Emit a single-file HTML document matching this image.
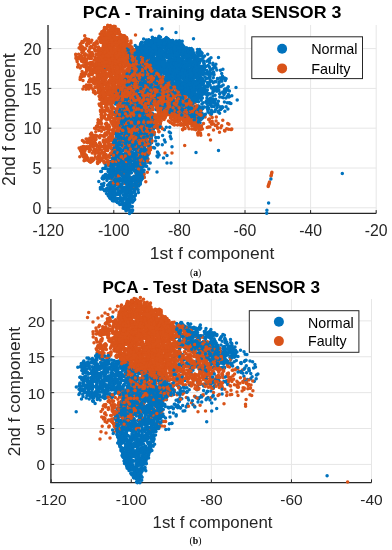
<!DOCTYPE html>
<html><head><meta charset="utf-8"><title>PCA SENSOR 3</title>
<style>
html,body{margin:0;padding:0;background:#fff}
svg{display:block}
text{font-family:"Liberation Sans", Arial, sans-serif}
.t{fill:#262626}
.g{stroke:#e6e6e6;stroke-width:1}
.a{stroke:#262626;fill:none}
.cap{font-family:"Liberation Serif","Times New Roman",serif;fill:#000}
.b{stroke:#0072BD}.o{stroke:#D95319}
.d{fill:none;stroke-width:3.5;stroke-linecap:round}
</style></head><body>
<svg width="392" height="550" viewBox="0 0 392 550">
<rect width="392" height="550" fill="#fff"/>
<line x1="48.2" y1="25" x2="48.2" y2="213.4" class="g"/>
<line x1="113.8" y1="25" x2="113.8" y2="213.4" class="g"/>
<line x1="179.4" y1="25" x2="179.4" y2="213.4" class="g"/>
<line x1="245.0" y1="25" x2="245.0" y2="213.4" class="g"/>
<line x1="310.6" y1="25" x2="310.6" y2="213.4" class="g"/>
<line x1="376.2" y1="25" x2="376.2" y2="213.4" class="g"/>
<line x1="48.0" y1="207.8" x2="376.2" y2="207.8" class="g"/>
<line x1="48.0" y1="168.0" x2="376.2" y2="168.0" class="g"/>
<line x1="48.0" y1="128.2" x2="376.2" y2="128.2" class="g"/>
<line x1="48.0" y1="88.4" x2="376.2" y2="88.4" class="g"/>
<line x1="48.0" y1="48.6" x2="376.2" y2="48.6" class="g"/>
<path d="M48.0 25V213.9" class="a" stroke-width="1.3"/>
<path d="M47.4 213.4H376.2" class="a" stroke-width="1.1"/>
<line x1="48.2" y1="213.4" x2="48.2" y2="210.1" class="a"/>
<line x1="113.8" y1="213.4" x2="113.8" y2="210.1" class="a"/>
<line x1="179.4" y1="213.4" x2="179.4" y2="210.1" class="a"/>
<line x1="245.0" y1="213.4" x2="245.0" y2="210.1" class="a"/>
<line x1="310.6" y1="213.4" x2="310.6" y2="210.1" class="a"/>
<line x1="376.2" y1="213.4" x2="376.2" y2="210.1" class="a"/>
<line x1="48.0" y1="207.8" x2="51.3" y2="207.8" class="a"/>
<line x1="48.0" y1="168.0" x2="51.3" y2="168.0" class="a"/>
<line x1="48.0" y1="128.2" x2="51.3" y2="128.2" class="a"/>
<line x1="48.0" y1="88.4" x2="51.3" y2="88.4" class="a"/>
<line x1="48.0" y1="48.6" x2="51.3" y2="48.6" class="a"/>
<g class="d"><path class="b" d="M155.9 52.8h0M148.0 162.3h0M138.0 149.6h0M158.8 57.1h0M184.5 97.0h0M121.8 100.5h0M144.2 150.0h0M121.2 99.8h0M192.3 80.6h0M156.7 119.9h0M167.5 38.4h0M195.5 106.6h0M185.1 52.5h0M138.4 157.7h0M124.5 197.6h0M111.5 188.1h0M177.4 103.0h0M126.0 194.4h0M172.9 62.0h0M136.0 103.7h0M187.8 100.5h0M138.5 125.4h0M119.2 199.0h0M133.1 97.1h0M122.3 156.6h0M163.4 96.8h0M214.7 111.5h0M130.3 160.9h0M128.9 53.2h0M194.4 112.1h0M131.8 91.0h0M169.2 58.5h0M125.2 84.8h0M133.7 141.7h0M166.3 44.6h0M135.4 160.8h0M175.6 58.4h0M190.1 69.3h0M157.5 66.1h0M138.7 97.9h0M159.9 59.5h0M204.8 114.7h0M152.6 92.3h0M143.7 58.2h0M204.5 80.9h0M142.2 82.8h0M142.5 94.0h0M173.7 53.8h0M176.4 42.4h0M180.4 60.1h0M186.8 69.8h0M126.4 204.8h0M137.8 105.2h0M134.5 183.7h0M158.4 137.6h0M130.4 163.8h0M146.5 63.6h0M142.1 56.5h0M135.8 123.8h0M186.3 50.8h0M135.8 145.1h0M208.8 109.2h0M115.2 200.6h0M129.3 127.7h0M150.4 117.4h0M152.6 44.1h0M121.4 118.1h0M125.3 154.7h0M118.1 156.7h0M169.3 56.0h0M204.3 68.7h0M142.2 86.1h0M167.4 97.7h0M181.7 53.0h0M196.1 58.8h0M149.0 96.8h0M153.0 48.2h0M176.0 77.0h0M185.8 56.7h0M219.8 86.8h0M124.6 169.7h0M132.8 49.1h0M172.3 74.2h0M201.1 59.5h0M139.6 50.5h0M173.8 56.6h0M145.3 73.4h0M150.6 123.8h0M156.1 63.0h0M173.0 73.3h0M190.9 104.7h0M141.0 46.5h0M209.7 82.0h0M122.2 135.4h0M168.7 71.1h0M190.3 77.9h0M128.6 118.0h0M137.7 146.1h0M120.2 200.8h0M213.7 102.7h0M138.8 70.5h0M199.2 90.7h0M187.5 100.4h0M133.1 89.3h0M129.9 79.0h0M173.1 72.4h0M161.0 57.2h0M203.7 62.7h0M120.0 126.0h0M176.5 45.7h0M171.9 46.6h0M144.8 159.6h0M207.9 111.9h0M114.7 151.7h0M148.3 71.0h0M202.0 82.8h0M157.9 103.5h0M184.4 53.1h0M145.6 141.1h0M138.1 189.7h0M163.6 68.0h0M134.8 191.6h0M172.6 78.3h0M166.4 37.4h0M136.1 115.1h0M147.6 143.3h0M132.6 209.9h0M135.7 163.5h0M132.1 129.6h0M203.2 89.2h0M141.6 170.1h0M188.4 55.7h0M148.9 100.9h0M181.9 62.8h0M195.6 100.6h0M159.0 36.2h0M143.1 55.3h0M192.1 77.9h0M126.3 76.6h0M194.8 112.6h0M180.8 68.9h0M122.2 163.8h0M143.1 63.8h0M157.2 44.0h0M180.9 102.5h0M147.9 128.6h0M196.4 74.9h0M139.4 94.4h0M172.0 146.7h0M181.2 64.0h0M126.6 149.7h0M117.4 175.3h0M210.0 100.6h0M182.4 91.5h0M132.2 90.1h0M124.9 94.5h0M161.0 52.0h0M153.3 76.5h0M158.7 57.3h0M149.4 64.8h0M141.4 121.7h0M143.7 44.9h0M125.5 118.2h0M155.0 39.0h0M190.5 94.3h0M112.6 191.8h0M130.5 186.0h0M173.4 73.8h0M182.6 56.0h0M181.2 50.0h0M154.4 119.6h0M122.6 124.2h0M124.7 135.1h0M167.1 49.5h0M156.9 82.5h0M131.8 198.5h0M137.2 117.3h0M158.1 93.1h0M152.1 124.4h0M188.2 70.5h0M149.6 87.3h0M130.9 89.5h0M137.7 51.2h0M140.2 155.5h0M131.0 128.9h0M153.6 43.0h0M130.4 189.9h0M195.9 89.3h0M197.5 119.8h0M140.0 160.6h0M134.3 170.7h0M122.8 132.2h0M140.7 122.9h0M158.9 76.2h0M120.7 128.3h0M132.9 164.6h0M151.2 125.5h0M158.7 61.4h0M177.2 82.2h0M197.6 100.9h0M124.0 127.4h0M190.3 116.6h0M187.3 87.4h0M140.8 163.5h0M163.3 42.2h0M118.5 151.7h0M157.0 84.3h0M136.5 57.2h0M147.0 159.0h0M160.1 111.2h0M174.4 77.8h0M113.8 163.4h0M130.3 119.3h0M181.5 84.7h0M113.7 166.8h0M137.5 55.9h0M144.1 177.2h0M129.0 206.9h0M171.3 63.4h0M180.9 74.3h0M142.7 65.5h0M191.8 55.6h0M168.4 61.2h0M185.4 101.6h0M113.9 191.5h0M119.4 108.2h0M227.2 102.7h0M160.2 61.9h0M156.0 108.2h0M157.5 94.2h0M185.0 67.8h0M137.3 120.7h0M139.3 90.6h0M172.4 40.4h0M185.6 91.9h0M191.0 92.7h0M168.9 61.2h0M147.4 122.6h0M166.3 127.2h0M178.5 48.6h0M136.7 175.7h0M115.8 179.5h0M129.9 75.9h0M124.7 119.2h0M173.0 81.4h0M138.2 121.3h0M160.4 55.3h0M103.1 189.2h0M203.2 57.4h0M191.3 106.6h0M131.8 89.5h0M134.8 120.6h0M189.5 48.4h0M172.5 64.7h0M170.8 92.5h0M112.5 175.0h0M227.9 108.9h0M155.0 96.3h0M128.3 82.4h0M171.0 71.2h0M149.2 50.6h0M205.8 102.1h0M171.4 85.8h0M140.0 154.5h0M169.2 108.8h0M171.6 98.7h0M141.0 140.3h0M197.8 81.8h0M199.1 92.9h0M103.1 176.6h0M166.9 49.1h0M189.1 93.5h0M133.0 136.6h0M190.8 76.2h0M158.7 48.2h0M184.8 103.9h0M192.6 49.8h0M176.6 61.4h0M115.7 133.8h0M166.5 72.2h0M190.8 90.1h0M133.0 124.8h0M142.2 134.4h0M141.7 170.1h0M111.7 175.4h0M163.3 97.8h0M132.2 63.8h0"/>
<path class="o" d="M108.8 63.4h0M105.6 103.5h0M165.9 92.8h0M99.2 96.1h0M150.2 64.4h0M104.4 129.2h0M137.3 81.0h0M121.4 86.7h0M99.6 142.7h0M127.1 75.6h0M114.6 84.1h0M105.0 44.0h0M189.4 103.5h0M107.1 47.9h0M120.5 95.2h0M131.9 83.6h0M188.5 119.5h0M135.5 35.0h0M138.8 55.8h0M178.1 121.5h0M192.4 124.1h0M116.4 82.7h0M148.8 76.1h0M101.6 127.9h0M147.1 76.6h0M85.0 55.6h0M103.9 147.2h0M142.4 75.3h0M140.1 80.1h0M134.4 65.3h0M135.4 78.4h0M163.3 110.0h0M99.6 78.4h0M104.3 75.6h0M134.6 60.2h0M148.0 94.4h0M76.0 56.0h0M176.6 109.7h0M209.5 118.9h0M212.2 121.3h0M120.4 77.5h0M140.0 116.8h0M167.4 107.0h0M177.9 107.6h0M165.2 86.9h0M162.2 99.8h0M97.6 74.0h0M93.5 151.2h0M119.4 39.1h0M125.3 37.9h0M166.3 91.9h0M109.1 26.7h0M145.0 110.6h0M130.0 124.4h0M125.9 88.5h0M146.4 85.6h0M159.5 116.8h0M200.0 118.5h0M105.7 69.8h0M120.5 90.3h0M98.0 58.6h0M144.1 146.8h0M122.9 106.5h0M97.4 65.6h0M127.0 45.4h0M135.3 64.4h0M140.9 131.9h0M81.3 55.9h0M121.8 39.5h0M101.2 114.8h0M118.1 117.1h0M108.6 48.0h0M112.9 79.2h0M104.2 152.6h0M163.8 77.6h0M129.1 133.7h0M124.2 63.1h0M130.3 67.2h0M149.4 66.7h0M113.1 33.7h0M141.7 139.1h0M133.6 68.2h0M85.7 65.3h0M129.0 91.1h0M112.1 108.3h0M197.3 123.8h0M131.0 119.3h0M103.7 100.6h0M120.7 42.3h0M117.6 51.7h0M106.6 42.6h0M147.9 118.4h0M145.0 114.4h0M115.0 101.1h0M83.9 58.8h0M118.9 60.5h0M141.8 108.2h0M104.3 34.4h0M111.5 30.7h0M145.6 135.6h0M87.3 54.9h0M196.2 117.6h0M134.6 79.4h0M99.6 154.7h0M115.6 143.9h0M127.9 120.0h0M98.7 78.9h0M116.6 93.7h0M148.8 110.6h0M128.5 89.6h0M89.8 137.9h0M116.5 100.2h0M154.1 101.8h0M172.4 123.8h0M116.8 77.5h0M122.8 84.4h0M104.7 103.4h0M106.5 101.1h0M182.8 129.7h0M85.4 149.3h0M127.0 90.0h0M106.7 74.6h0M76.9 60.0h0M98.0 76.1h0M103.3 140.2h0M129.3 146.8h0M103.6 59.1h0M125.5 59.5h0M107.7 82.7h0M156.6 106.6h0M124.5 35.7h0M130.8 79.0h0M140.7 63.4h0M136.8 86.0h0M116.1 99.5h0M99.0 49.9h0M130.2 68.5h0M111.7 140.5h0M139.5 112.9h0M150.5 131.2h0M114.8 79.3h0M91.6 138.8h0M162.8 101.2h0M169.1 108.5h0M109.9 89.5h0M86.6 62.8h0M101.6 67.2h0M158.0 119.4h0M91.8 69.6h0M126.9 68.9h0M81.3 43.3h0M165.3 89.0h0M108.5 41.1h0M178.2 115.9h0M192.2 120.6h0M92.7 62.9h0M117.3 89.6h0M98.8 159.9h0M137.3 182.6h0M196.5 120.5h0M132.1 103.2h0M95.1 152.7h0M114.8 113.2h0M97.0 58.6h0M132.8 129.5h0M100.0 156.3h0M152.1 129.5h0M171.2 94.7h0M188.7 107.5h0M138.7 85.7h0M183.5 103.5h0M125.7 59.2h0M100.1 53.5h0M104.4 96.0h0M80.8 45.1h0M97.1 145.1h0M133.6 70.1h0M135.8 108.8h0M145.6 127.8h0M110.5 58.0h0M91.1 42.2h0M103.5 47.0h0M83.2 153.5h0M165.0 100.5h0M139.7 71.6h0M184.8 121.2h0M115.5 165.1h0M200.7 108.7h0M124.2 74.2h0M169.4 101.4h0M118.0 99.8h0M103.0 67.9h0M110.2 59.3h0M97.8 159.1h0M134.7 85.1h0M108.3 43.1h0M169.1 101.6h0M114.2 126.2h0M81.5 60.2h0M111.7 134.5h0M107.8 38.9h0M120.8 38.5h0M149.3 110.3h0M111.9 95.1h0M121.9 133.5h0M98.6 73.3h0M172.8 106.4h0M104.9 145.4h0M161.1 81.4h0M83.1 51.1h0M103.7 47.1h0M145.4 137.3h0M106.1 42.3h0M119.8 40.8h0M105.6 34.1h0M208.4 127.1h0M106.6 53.7h0M124.5 111.1h0M103.8 44.9h0M126.0 43.2h0M93.9 159.5h0M145.3 117.8h0M129.7 104.8h0M178.8 104.5h0M172.6 115.3h0M141.0 92.4h0M131.0 71.1h0M142.7 76.6h0M200.5 133.2h0M177.9 102.1h0M142.9 79.7h0M103.2 51.3h0M121.2 76.5h0M198.3 120.1h0M132.6 81.9h0M93.0 89.4h0M147.8 95.6h0M140.7 134.5h0M169.1 108.1h0M128.8 49.5h0M112.1 39.6h0M201.4 127.2h0M115.1 78.2h0M108.8 69.1h0M107.8 150.6h0M86.2 38.8h0M126.0 64.7h0M155.9 94.5h0M97.0 41.1h0M143.0 78.9h0M101.0 120.7h0M135.2 166.8h0M143.6 143.0h0M105.3 97.9h0M149.5 92.6h0M122.8 164.9h0M113.2 53.6h0M135.8 75.4h0M115.2 127.3h0M216.1 121.0h0M132.1 50.5h0M120.4 59.4h0M190.1 105.2h0M107.0 101.2h0M143.0 124.3h0M122.2 53.2h0M105.7 67.9h0M125.6 63.4h0M117.0 42.8h0M112.3 95.7h0M104.6 144.3h0M121.0 121.2h0M167.4 98.0h0M183.2 100.3h0M141.7 68.1h0M105.4 124.1h0M90.8 46.4h0M106.7 35.1h0M129.9 52.1h0M131.5 156.1h0M101.0 94.0h0M80.3 77.7h0M125.9 65.0h0M143.9 98.5h0M78.6 57.4h0M152.4 80.2h0M128.6 98.4h0M179.1 105.3h0M144.4 155.0h0M133.7 160.9h0M165.0 153.0h0M108.4 117.4h0M184.9 121.8h0M133.0 76.2h0M111.5 75.5h0M95.1 49.5h0M132.5 178.8h0M105.8 42.6h0M176.1 113.5h0M130.0 112.4h0M98.5 156.1h0M116.6 128.6h0M115.3 77.3h0M106.1 83.2h0M115.6 62.0h0"/>
<path class="b" d="M120.7 188.1h0M113.1 196.6h0M153.6 89.3h0M170.9 89.0h0M146.0 42.2h0M145.5 56.1h0M134.8 186.8h0M153.4 100.6h0M168.1 68.3h0M130.4 132.7h0M195.9 111.8h0M109.9 173.0h0M185.4 81.0h0M164.5 80.7h0M142.7 51.0h0M118.3 136.0h0M125.5 163.1h0M133.8 56.9h0M152.6 102.6h0M135.3 195.5h0M123.5 86.7h0M141.3 63.3h0M133.7 89.1h0M118.2 171.8h0M151.1 106.2h0M188.4 71.5h0M170.0 60.5h0M165.6 40.2h0M120.4 199.7h0M155.6 51.0h0M135.2 58.2h0M266.7 213.2h0M167.9 75.5h0M183.6 83.8h0M114.0 157.0h0M176.7 41.5h0M192.0 65.3h0M139.4 65.5h0M129.3 206.7h0M127.8 208.7h0M213.9 103.1h0M124.3 197.7h0M187.4 114.0h0M195.3 66.2h0M133.9 176.2h0M163.9 60.4h0M128.9 192.2h0M187.6 67.1h0M183.3 49.3h0M135.5 63.2h0M124.4 84.3h0M119.4 178.4h0M187.7 89.3h0M140.5 44.6h0M136.9 159.0h0M125.0 80.9h0M171.5 106.5h0M180.3 49.0h0M111.1 187.5h0M139.6 156.3h0M110.3 182.4h0M165.8 110.8h0M121.7 97.9h0M171.1 50.5h0M128.0 123.9h0M162.0 102.7h0M192.7 113.6h0M161.6 62.2h0M222.6 76.8h0M133.8 164.1h0M138.2 176.7h0M178.9 49.4h0M156.6 53.7h0M133.5 148.7h0M131.2 141.0h0M111.7 174.3h0M121.4 143.8h0M156.4 89.5h0M201.2 52.2h0M201.4 66.5h0M142.2 66.8h0M230.9 103.4h0M106.2 178.1h0M122.3 154.5h0M200.6 74.4h0M157.2 39.4h0M208.7 72.5h0M169.1 77.7h0M107.0 175.7h0M149.7 120.3h0M211.8 106.7h0M126.4 96.8h0M151.0 49.6h0M199.6 82.0h0M146.0 60.5h0M182.9 59.1h0M177.8 92.1h0M191.5 117.3h0M160.1 63.4h0M168.1 39.1h0M203.1 65.9h0M105.4 174.5h0M152.1 124.5h0M133.8 82.8h0M157.8 55.5h0M140.9 50.5h0M146.5 56.4h0M100.4 188.9h0M150.9 49.9h0M127.8 123.3h0M124.6 94.0h0M104.1 178.2h0M150.3 47.3h0M159.4 125.5h0M171.2 61.8h0M129.5 145.7h0M133.8 100.7h0M157.8 61.7h0M119.1 142.5h0M123.5 86.6h0M136.7 88.8h0M194.1 95.8h0M116.9 180.2h0M147.4 82.4h0M148.8 77.4h0M117.5 126.7h0M150.4 141.6h0M197.5 72.2h0M167.0 163.0h0M210.6 98.1h0M151.5 44.6h0M158.2 77.0h0M149.2 90.6h0M128.9 209.8h0M198.5 80.1h0M125.2 107.3h0M154.9 102.7h0M196.2 60.8h0M173.1 53.8h0M119.7 106.0h0M161.4 67.4h0M139.2 62.9h0M153.5 41.7h0M182.1 51.5h0M141.7 59.0h0M172.2 43.1h0M152.2 45.5h0M128.1 83.9h0M210.1 104.2h0M169.8 40.8h0M189.6 69.4h0M144.5 79.9h0M197.4 67.7h0M194.1 66.6h0M228.8 97.0h0M148.0 68.9h0M180.5 68.1h0M216.3 89.2h0M127.4 139.6h0M147.8 61.5h0M122.0 117.0h0M171.1 138.8h0M214.2 106.6h0M179.0 46.0h0M167.1 107.2h0M139.9 153.9h0M181.4 84.0h0M210.1 85.3h0M226.1 78.7h0M120.8 111.7h0M136.9 123.6h0M116.2 156.9h0M172.3 59.7h0M120.4 152.9h0M123.8 187.3h0M147.8 131.6h0M153.8 123.9h0M120.5 180.9h0M136.8 146.9h0M223.8 93.6h0M189.6 97.7h0M148.2 56.3h0M116.7 201.8h0M160.5 63.3h0M118.0 131.4h0M180.3 116.1h0M130.9 101.6h0M182.8 50.8h0M179.9 94.6h0M187.5 106.8h0M131.0 196.0h0M158.5 78.6h0M148.3 100.7h0M198.8 73.8h0M143.9 101.2h0M184.1 56.9h0M205.5 93.7h0M123.6 157.0h0M198.0 68.4h0M186.5 54.1h0M237.2 100.0h0M136.3 53.2h0M126.5 88.7h0M147.0 69.9h0M162.8 67.3h0M176.8 42.1h0M158.7 89.9h0M135.4 51.9h0M137.8 59.6h0M150.8 73.8h0M173.3 96.1h0M143.6 39.1h0M141.1 131.6h0M132.9 146.0h0M187.8 69.2h0M141.4 163.0h0M130.9 126.6h0M113.6 163.0h0M119.7 130.1h0M131.7 76.3h0M137.1 131.8h0M163.0 77.6h0M112.4 174.5h0M133.0 111.3h0M136.8 68.9h0M139.1 89.4h0M171.2 92.4h0M143.9 120.2h0M182.0 61.1h0M129.2 71.7h0M127.3 131.2h0M218.5 150.5h0M161.9 83.0h0M119.5 109.2h0M155.6 141.0h0M136.1 51.1h0M192.5 74.3h0M125.5 157.3h0M187.9 72.6h0M145.5 61.2h0M180.2 90.3h0M114.1 164.4h0M194.8 60.0h0M213.0 72.0h0M175.4 78.5h0M171.4 110.1h0M179.0 79.9h0M147.8 149.1h0M165.5 68.1h0M141.6 62.8h0M130.3 154.9h0M138.9 162.6h0M203.5 89.5h0M133.8 125.7h0M100.7 171.6h0M143.3 99.2h0M124.5 86.6h0M194.9 110.6h0M112.4 161.8h0M199.3 106.6h0M160.0 76.9h0M181.3 74.5h0M120.3 167.9h0M120.6 130.6h0M126.9 179.9h0M122.6 188.1h0M190.4 56.3h0M164.3 89.4h0M126.5 143.9h0M147.0 118.3h0M132.8 164.2h0M109.8 189.3h0M117.7 172.2h0M138.0 61.7h0M176.5 106.1h0M176.5 77.8h0M194.7 63.0h0M125.2 118.7h0M175.2 85.2h0M190.1 84.1h0M194.1 61.3h0M137.3 91.5h0M122.2 98.5h0M116.3 160.2h0M117.9 151.2h0M194.2 74.9h0M117.9 198.6h0M131.0 144.6h0M153.7 60.1h0M149.2 121.1h0M122.9 110.1h0M180.4 98.8h0M141.5 42.5h0M144.5 124.0h0M136.7 117.8h0M195.6 65.6h0M130.5 168.0h0M132.2 110.2h0M192.2 53.8h0M176.0 73.3h0M132.0 181.6h0M162.4 60.6h0M133.7 94.1h0M127.6 199.3h0M191.4 84.9h0M129.5 213.6h0M132.5 117.6h0M144.0 66.1h0M169.8 53.3h0M166.7 80.1h0M174.6 69.1h0M132.2 196.0h0M112.0 197.8h0M199.8 75.5h0M169.1 109.2h0M190.7 115.2h0M153.0 83.8h0M151.6 142.8h0M131.0 93.1h0M130.9 96.9h0M111.1 171.9h0M202.1 59.7h0M217.8 78.9h0M195.5 117.7h0M127.5 206.4h0M183.0 61.8h0M137.2 51.9h0M186.6 61.6h0M166.8 70.5h0M144.0 92.0h0M128.7 56.0h0M214.6 89.4h0M110.7 195.1h0M129.3 128.6h0M180.5 67.2h0M119.2 93.9h0M119.9 113.4h0M155.6 39.7h0M187.5 57.3h0"/>
<path class="o" d="M159.6 127.2h0M110.8 97.7h0M136.1 105.7h0M167.3 89.1h0M149.5 94.7h0M166.7 82.1h0M168.5 88.3h0M115.5 61.8h0M165.8 108.1h0M171.2 106.4h0M136.9 96.1h0M198.4 132.4h0M101.3 114.2h0M167.2 87.4h0M195.1 108.1h0M114.3 65.7h0M170.5 118.0h0M122.4 84.8h0M115.5 58.1h0M98.2 54.6h0M136.5 78.1h0M150.6 112.7h0M152.9 73.8h0M119.2 37.0h0M111.7 34.5h0M116.3 64.7h0M133.0 86.1h0M142.2 126.1h0M131.5 111.8h0M112.0 117.8h0M121.8 69.0h0M107.0 67.1h0M169.2 103.7h0M159.1 100.2h0M116.4 45.0h0M137.8 83.6h0M121.8 156.4h0M158.5 106.1h0M104.4 55.5h0M182.0 93.7h0M121.6 57.5h0M171.8 96.8h0M121.6 86.8h0M140.2 112.4h0M133.5 133.6h0M94.5 43.5h0M182.6 119.0h0M121.6 44.6h0M86.8 157.3h0M96.7 63.1h0M79.1 148.1h0M140.2 151.9h0M120.6 47.4h0M106.2 66.3h0M110.6 39.2h0M124.1 57.1h0M102.3 58.3h0M119.3 37.7h0M130.7 62.7h0M101.0 126.7h0M154.0 118.3h0M114.8 90.4h0M126.0 42.7h0M83.6 157.1h0M100.8 89.1h0M166.3 102.8h0M151.9 124.4h0M136.6 59.8h0M127.6 49.3h0M154.5 132.6h0M178.1 94.5h0M101.9 110.4h0M151.6 134.1h0M142.2 112.0h0M156.1 123.0h0M122.8 108.4h0M107.5 94.5h0M135.5 85.8h0M127.7 96.5h0M99.9 37.2h0M102.9 98.3h0M109.3 59.0h0M108.5 88.5h0M133.1 82.4h0M131.6 104.7h0M147.2 115.5h0M178.9 104.9h0M127.6 137.4h0M118.8 121.7h0M191.3 105.4h0M157.6 109.6h0M108.2 110.7h0M102.8 70.4h0M216.5 125.4h0M83.9 157.0h0M186.1 111.3h0M155.7 74.7h0M196.2 109.3h0M99.8 99.3h0M119.8 34.3h0M107.9 34.1h0M193.8 109.6h0M166.7 94.4h0M102.4 76.3h0M191.4 121.1h0M103.3 53.7h0M106.9 125.0h0M127.0 38.7h0M103.2 40.2h0M119.5 187.3h0M100.6 128.0h0M107.9 56.1h0M150.4 110.1h0M124.6 60.8h0M136.9 112.4h0M101.5 97.5h0M117.7 100.8h0M117.4 65.9h0M151.3 71.5h0M119.9 91.7h0M83.1 146.5h0M125.2 47.3h0M109.6 119.2h0M113.0 48.1h0M102.2 86.3h0M112.1 71.5h0M177.1 102.1h0M162.4 81.8h0M166.4 111.3h0M93.0 79.5h0M119.0 48.1h0M96.2 69.6h0M171.3 91.5h0M148.8 73.9h0M112.3 53.9h0M120.7 102.1h0M100.4 110.3h0M95.0 50.8h0M137.2 110.8h0M145.0 132.3h0M136.8 64.2h0M131.1 78.7h0M168.8 87.1h0M145.5 152.3h0M110.2 72.1h0M102.2 92.5h0M116.5 69.5h0M140.3 111.0h0M118.4 183.4h0M90.5 134.3h0M135.1 179.7h0M104.8 67.8h0M178.2 110.1h0M100.4 95.1h0M139.5 173.9h0M104.5 95.4h0M103.2 141.9h0M129.2 55.0h0M120.7 41.7h0M130.0 86.6h0M188.3 106.0h0M148.6 131.9h0M121.7 99.5h0M130.5 57.3h0M110.6 26.9h0M169.9 93.9h0M116.1 80.9h0M152.5 107.6h0M132.9 103.9h0M154.8 103.0h0M150.3 122.7h0M114.7 131.6h0M140.0 99.5h0M114.3 57.0h0M188.7 98.9h0M122.6 134.4h0M88.6 40.7h0M114.1 39.1h0M93.3 138.0h0M144.1 115.5h0M163.0 118.7h0M109.4 59.9h0M106.6 84.7h0M104.2 32.9h0M104.9 93.6h0M113.9 151.1h0M106.9 50.1h0M116.3 163.7h0M109.1 82.2h0M161.3 81.2h0M116.6 79.9h0M201.0 127.8h0M147.6 71.3h0M147.3 105.3h0M194.2 128.7h0M195.3 121.8h0M150.1 118.4h0M183.0 124.0h0M194.1 109.7h0M143.2 97.3h0M89.4 146.4h0M118.2 106.0h0M110.4 94.7h0M108.1 31.6h0M103.5 50.3h0M109.3 62.0h0M104.3 62.9h0M145.3 75.7h0M117.1 98.2h0M170.5 88.1h0M91.9 160.9h0M154.1 117.4h0M142.4 116.1h0M90.1 147.9h0M117.0 102.5h0M125.4 77.7h0M123.5 36.0h0M142.6 107.9h0M103.4 73.0h0M189.8 122.1h0M102.2 58.5h0M136.6 114.2h0M115.6 127.0h0M158.7 105.2h0M122.3 92.2h0M140.7 60.4h0M85.9 73.9h0M103.9 153.6h0M110.6 91.8h0M112.5 45.8h0M96.9 60.8h0M110.8 55.1h0M161.9 91.9h0M140.2 90.0h0M152.1 86.0h0M125.0 113.5h0M130.4 156.5h0M132.3 144.2h0M192.1 106.9h0M115.6 72.5h0M133.0 85.5h0M108.2 63.7h0M104.4 149.0h0M99.5 162.1h0M140.6 95.9h0M96.1 70.9h0M85.9 60.8h0M128.9 46.2h0M108.5 34.5h0M139.7 124.7h0M114.0 77.4h0M122.9 156.4h0M160.0 111.7h0"/>
<path class="b" d="M159.1 55.0h0M161.2 79.9h0M156.9 75.4h0M137.8 140.9h0M116.9 169.5h0M139.5 180.4h0M127.7 181.8h0M209.6 99.1h0M193.3 65.4h0M160.7 66.8h0M124.4 134.1h0M118.5 112.4h0M129.3 162.6h0M125.0 84.1h0M121.6 173.1h0M177.3 111.6h0M203.7 61.0h0M153.7 96.4h0M149.0 45.2h0M136.6 104.8h0M189.6 52.3h0M146.5 99.8h0M129.9 171.0h0M196.8 75.4h0M133.6 115.0h0M171.3 48.6h0M179.6 50.1h0M184.7 64.9h0M124.6 77.9h0M157.9 93.9h0M192.6 76.9h0M164.4 101.6h0M127.0 163.0h0M126.9 98.5h0M143.1 135.9h0M113.3 165.3h0M125.4 134.8h0M130.8 72.3h0M150.3 96.3h0M154.9 77.8h0M180.3 73.7h0M178.6 70.6h0M138.4 143.6h0M164.5 55.6h0M142.4 70.9h0M190.9 106.0h0M119.1 164.9h0M119.9 192.4h0M143.1 138.6h0M179.0 118.7h0M176.0 87.3h0M159.4 63.7h0M151.0 30.0h0M192.0 63.4h0M342.3 173.6h0M131.6 148.7h0M165.4 72.2h0M150.4 129.0h0M123.2 142.9h0M150.9 67.7h0M123.2 91.6h0M184.1 74.4h0M145.5 139.2h0M128.3 188.0h0M216.8 70.0h0M128.3 205.9h0M134.6 177.7h0M186.8 66.0h0M140.0 61.2h0M157.6 73.0h0M140.1 86.6h0M118.3 192.3h0M120.0 178.4h0M128.1 204.4h0M150.9 120.2h0M185.8 60.2h0M122.6 157.6h0M136.9 83.9h0M145.7 94.6h0M192.8 66.9h0M148.0 52.4h0M177.8 77.8h0M156.6 97.6h0M102.2 178.1h0M198.2 70.8h0M162.3 59.1h0M155.0 123.5h0M199.4 73.1h0M141.9 62.6h0M146.0 55.1h0M159.0 42.8h0M174.0 96.8h0M118.7 128.6h0M177.5 84.8h0M188.4 53.7h0M140.4 95.5h0M128.1 192.1h0M171.4 64.6h0M155.3 38.5h0M113.5 155.2h0M112.6 193.2h0M128.9 125.0h0M191.2 103.5h0M126.5 147.0h0M152.4 93.9h0M144.9 139.6h0M186.7 58.9h0M146.1 72.6h0M194.9 83.9h0M127.5 189.8h0M176.2 59.1h0M206.6 100.8h0M222.7 107.2h0M137.8 115.0h0M158.4 40.2h0M124.2 127.0h0M207.7 54.3h0M129.7 139.9h0M144.6 48.4h0M143.7 147.5h0M138.7 71.2h0M160.5 67.1h0M198.8 76.1h0M136.2 173.9h0M180.4 83.4h0M157.6 71.5h0M123.1 150.4h0M117.0 155.5h0M121.6 138.6h0M122.6 183.6h0M111.4 184.6h0M143.9 93.5h0M197.6 119.5h0M175.3 108.8h0M166.7 110.1h0M187.9 85.7h0M141.3 53.8h0M145.0 153.8h0M212.4 112.0h0M143.4 102.8h0M175.5 54.9h0M193.0 114.8h0M163.1 67.1h0M158.2 79.7h0M130.2 198.4h0M189.7 77.6h0M118.1 145.8h0M192.0 107.4h0M198.2 91.2h0M222.7 92.0h0M138.0 126.0h0M135.0 89.7h0M181.3 75.5h0M138.9 54.2h0M135.6 183.9h0M177.1 41.3h0M173.8 59.6h0M141.8 50.1h0M121.5 140.0h0M202.8 79.0h0M201.8 113.1h0M196.4 85.8h0M128.6 130.3h0M197.8 96.8h0M176.6 88.6h0M117.8 180.5h0M154.1 50.5h0M206.9 101.9h0M127.3 91.5h0M112.1 182.4h0M171.2 85.8h0M151.3 137.1h0M145.8 160.3h0M148.0 77.2h0M127.4 209.9h0M133.5 188.6h0M128.0 141.2h0M150.5 53.9h0M212.1 81.3h0M135.7 92.6h0M196.1 81.4h0M146.4 141.6h0M151.0 54.2h0M173.8 87.7h0M119.9 168.4h0M150.5 128.0h0M179.4 73.7h0M136.5 48.3h0M128.8 205.4h0M176.3 73.9h0M122.1 124.8h0M114.1 171.1h0M163.7 84.0h0M145.7 71.1h0M218.5 89.9h0M153.9 73.4h0M123.6 204.5h0M119.3 124.3h0M191.9 82.2h0M222.3 79.0h0M107.3 189.7h0M127.5 161.9h0M169.8 45.5h0M190.0 71.9h0M224.9 89.1h0M183.3 78.0h0M222.1 106.8h0M146.9 56.9h0M148.7 78.9h0M163.9 72.5h0M140.5 172.9h0M137.8 50.4h0M122.3 179.6h0M199.5 82.3h0M184.3 75.7h0M153.0 45.2h0M113.5 164.8h0M199.8 78.4h0M157.8 65.9h0M121.4 141.7h0M123.1 105.2h0M176.0 70.7h0M153.4 41.3h0M191.0 56.5h0M128.0 53.7h0M151.4 49.3h0M171.5 106.8h0M126.9 82.2h0M160.4 121.6h0M185.0 65.1h0M125.5 168.8h0M136.2 188.4h0M129.0 187.1h0M111.2 197.7h0M123.1 180.0h0M194.1 110.9h0M186.5 52.1h0M176.5 110.1h0M108.0 58.7h0M154.9 88.7h0M181.1 54.7h0M151.3 71.2h0M207.1 95.3h0M136.7 159.0h0M143.5 48.7h0M115.0 180.9h0M171.0 163.0h0M183.9 55.5h0M129.2 133.9h0M193.4 119.4h0M148.3 41.6h0M207.8 84.3h0M189.8 57.0h0M155.0 38.8h0M157.4 39.9h0M202.4 71.1h0M146.0 49.3h0M131.8 116.0h0M175.7 58.9h0M118.5 142.6h0M151.3 46.7h0M213.0 64.8h0M183.1 66.5h0M201.4 114.9h0M165.2 55.7h0M195.3 76.7h0M148.3 127.2h0M171.7 63.3h0M148.6 39.8h0M149.1 51.4h0M224.4 101.9h0M125.8 177.7h0M186.1 102.3h0M131.2 164.3h0M155.6 64.9h0M162.8 41.0h0M150.8 49.8h0M185.9 91.9h0M159.4 106.7h0M140.3 102.4h0M179.1 63.4h0M101.5 184.3h0M129.8 127.8h0M131.4 193.0h0M136.1 171.4h0M182.7 94.2h0M112.2 148.3h0M114.5 147.4h0M143.9 172.9h0M175.8 46.9h0M173.0 49.5h0M172.9 72.3h0M146.3 40.0h0M120.0 159.9h0M128.6 112.7h0M173.9 85.7h0M192.4 103.1h0M128.4 78.8h0M123.2 114.2h0M199.3 65.9h0M124.7 207.3h0M161.8 78.0h0M140.4 58.7h0M172.4 67.4h0M143.3 85.9h0M163.3 64.1h0M110.0 190.6h0M147.8 62.0h0M155.4 85.4h0M141.0 140.8h0M147.6 154.1h0M137.5 139.8h0M145.5 120.1h0"/>
<path class="o" d="M110.3 25.6h0M161.2 127.1h0M84.4 40.6h0M106.8 104.8h0M144.3 93.7h0M159.0 83.4h0M162.8 112.0h0M119.4 58.8h0M87.0 146.9h0M103.8 51.2h0M119.6 105.8h0M150.4 131.1h0M109.1 51.3h0M194.8 112.2h0M102.1 135.8h0M122.9 107.2h0M137.6 135.2h0M130.9 102.5h0M126.5 53.0h0M160.5 92.8h0M99.4 149.8h0M131.9 59.0h0M123.6 56.3h0M93.4 44.8h0M82.1 71.6h0M136.1 117.9h0M147.4 82.7h0M137.2 99.1h0M113.8 139.4h0M130.5 79.6h0M133.4 73.2h0M123.8 79.2h0M205.1 117.1h0M151.5 103.4h0M121.7 62.9h0M145.6 132.3h0M96.0 54.3h0M120.2 62.3h0M197.3 111.5h0M190.2 110.7h0M112.0 101.5h0M107.0 126.5h0M122.0 100.2h0M111.9 43.4h0M116.0 93.2h0M152.0 96.6h0M97.4 86.1h0M131.0 80.1h0M121.5 125.6h0M131.3 84.0h0M166.0 91.8h0M159.0 103.3h0M120.6 124.9h0M98.5 92.4h0M129.4 82.8h0M196.2 119.1h0M126.2 83.4h0M148.8 92.0h0M117.8 59.4h0M135.2 67.1h0M212.2 117.6h0M115.8 56.4h0M95.0 87.1h0M140.7 114.0h0M103.3 70.1h0M123.0 90.6h0M81.5 150.7h0M153.9 117.6h0M182.4 96.7h0M101.2 53.1h0M141.5 64.1h0M115.6 82.4h0M130.8 70.6h0M105.7 140.7h0M151.1 87.0h0M111.0 29.5h0M131.3 87.5h0M186.6 112.8h0M130.3 171.0h0M134.4 65.5h0M105.8 102.3h0M131.6 78.9h0M100.1 78.6h0M114.5 44.5h0M144.4 140.2h0M106.2 35.8h0M102.6 52.1h0M142.4 75.0h0M125.6 152.9h0M185.6 113.3h0M140.2 79.4h0M117.1 163.8h0M118.3 95.5h0M121.0 96.4h0M91.3 142.9h0M196.4 112.0h0M177.2 115.1h0M110.5 98.3h0M140.4 136.5h0M184.3 97.7h0M116.6 66.1h0M114.4 28.8h0M133.7 140.7h0M147.6 68.8h0M131.4 110.8h0M118.2 128.7h0M107.6 88.4h0M157.7 74.3h0M104.0 161.2h0M143.7 97.7h0M133.3 80.1h0M173.3 105.0h0M170.3 108.1h0M112.1 29.8h0M103.8 73.6h0M112.1 37.6h0M91.2 138.8h0M95.0 43.3h0M105.0 111.1h0M153.1 126.1h0M126.4 75.0h0M145.2 103.2h0M185.6 115.2h0M192.8 118.3h0M119.3 46.8h0M130.6 71.4h0M183.9 120.2h0M108.6 46.4h0M179.0 90.9h0M118.6 53.8h0M176.4 112.7h0M105.4 114.6h0M100.0 55.7h0M113.8 48.5h0M120.0 100.6h0M100.0 89.7h0M153.2 95.0h0M173.6 112.3h0M97.7 74.4h0M175.8 86.6h0M105.2 133.1h0M103.7 87.9h0M119.3 139.3h0M180.0 103.0h0M119.2 71.7h0M104.6 118.0h0M124.0 70.8h0M180.4 106.2h0M116.2 59.2h0M104.3 35.2h0M84.4 75.9h0M107.3 132.2h0M167.4 105.3h0M97.9 79.7h0M108.1 58.5h0M139.0 168.3h0M111.7 35.6h0M93.9 138.8h0M87.1 66.6h0M100.2 37.9h0M111.2 74.1h0M172.0 115.2h0M104.7 76.8h0M124.6 98.3h0M142.8 100.4h0M174.4 125.0h0M115.6 173.3h0M130.8 88.1h0M121.4 44.3h0M123.3 71.1h0M123.0 59.5h0M108.0 62.1h0M85.5 157.8h0M181.4 95.2h0M143.7 155.1h0M174.9 114.3h0M150.7 99.6h0M101.8 152.5h0M135.1 79.1h0M186.3 118.7h0M114.7 159.0h0M89.9 55.1h0M133.7 105.1h0M111.8 88.2h0M116.0 123.6h0M135.7 102.5h0M92.6 145.1h0M95.1 57.5h0M110.8 98.5h0M147.0 133.0h0M116.9 30.0h0M106.4 146.6h0M130.8 104.9h0M151.2 83.3h0M114.8 86.8h0M86.3 147.3h0M144.8 155.5h0M95.3 135.3h0M104.4 44.7h0M180.5 115.5h0M161.6 81.5h0M166.2 103.4h0M85.5 60.2h0M135.0 102.0h0M104.0 98.0h0M153.8 114.6h0M143.2 57.9h0M143.0 104.3h0M112.4 36.7h0M145.9 108.3h0M168.5 120.9h0M95.7 139.7h0M132.6 75.5h0M112.9 32.1h0M110.5 31.7h0M99.3 50.9h0M144.3 74.4h0M116.1 183.6h0M85.1 159.5h0M111.8 76.5h0M228.6 129.2h0M128.0 46.5h0M121.9 38.4h0M114.9 39.6h0M137.2 76.5h0M89.9 140.3h0M101.0 74.7h0M88.8 39.6h0M99.1 104.1h0M144.2 68.5h0M140.4 112.1h0M108.4 53.0h0M135.7 70.5h0M132.1 123.5h0M122.1 78.0h0M116.4 87.9h0M126.0 37.2h0M137.3 144.0h0M183.2 117.4h0M135.8 129.6h0M101.2 42.4h0M100.1 54.4h0M162.0 109.8h0M132.5 130.7h0M128.4 122.9h0M139.8 114.7h0M146.5 100.8h0M123.4 73.8h0M131.6 77.3h0M140.0 113.1h0M101.9 88.7h0M190.6 114.7h0M139.3 106.7h0M121.9 37.8h0M117.7 111.9h0M169.7 121.9h0M116.7 78.5h0M101.9 95.5h0M139.3 123.7h0M147.4 145.0h0M145.3 107.2h0M90.4 56.9h0M125.4 183.6h0M159.6 78.3h0M161.4 82.1h0M129.5 109.6h0M92.5 54.1h0M187.3 112.9h0M122.9 56.2h0M129.4 129.8h0M128.8 148.7h0M128.1 61.9h0M110.6 40.9h0M120.0 88.9h0M168.9 113.5h0M100.5 97.4h0M186.1 106.1h0M147.2 123.7h0M146.8 110.4h0"/>
<path class="b" d="M120.7 156.9h0M131.5 51.6h0M179.0 103.4h0M122.0 111.9h0M147.8 46.7h0M124.6 197.5h0M131.4 202.1h0M178.6 87.4h0M125.1 103.4h0M172.9 64.2h0M129.4 132.1h0M127.6 107.0h0M149.1 63.7h0M150.9 134.3h0M170.5 62.6h0M166.8 55.3h0M200.4 55.8h0M144.5 90.4h0M149.2 137.4h0M128.7 191.1h0M130.2 158.0h0M122.7 169.5h0M139.6 183.8h0M157.9 84.2h0M168.2 42.5h0M130.8 126.6h0M122.2 109.4h0M134.5 92.5h0M196.0 82.0h0M134.5 81.2h0M129.1 113.8h0M191.5 115.8h0M162.9 51.6h0M147.4 60.4h0M146.7 70.0h0M176.1 55.6h0M144.6 113.1h0M111.0 177.1h0M119.8 92.0h0M168.6 48.0h0M190.9 61.2h0M160.8 95.6h0M163.9 62.6h0M134.0 191.6h0M132.7 146.9h0M132.9 132.0h0M195.4 114.9h0M141.3 52.2h0M137.5 164.8h0M146.4 166.2h0M140.9 43.5h0M149.9 57.9h0M156.9 69.5h0M133.7 124.8h0M138.5 142.1h0M126.8 49.3h0M140.7 99.7h0M109.0 184.2h0M149.1 126.1h0M113.6 188.7h0M147.3 124.8h0M130.6 94.0h0M140.8 47.4h0M115.5 95.0h0M168.6 42.2h0M192.1 83.4h0M128.0 96.2h0M122.0 203.8h0M157.4 50.4h0M172.2 46.8h0M147.4 46.4h0M155.8 71.1h0M157.1 86.0h0M162.3 82.1h0M220.4 70.3h0M159.4 89.0h0M167.8 108.0h0M166.4 66.3h0M135.4 179.5h0M188.0 81.5h0M122.3 158.1h0M158.0 69.8h0M159.7 45.7h0M110.6 198.4h0M187.2 84.3h0M145.5 125.2h0M168.0 75.3h0M114.2 180.2h0M187.5 49.0h0M155.5 53.4h0M188.1 60.2h0M132.7 135.3h0M155.9 109.4h0M199.8 79.6h0M212.4 68.9h0M119.4 159.8h0M114.0 183.3h0M147.6 45.5h0M177.3 62.4h0M162.7 55.8h0M148.1 43.7h0M201.0 73.0h0M128.8 189.4h0M152.9 85.5h0M123.1 117.0h0M184.8 63.8h0M131.1 88.0h0M192.6 119.2h0M112.2 178.9h0M121.7 204.0h0M200.2 98.0h0M155.3 61.3h0M169.7 51.3h0M148.0 100.4h0M123.4 172.6h0M213.2 89.0h0M175.7 88.0h0M164.8 52.3h0M140.9 124.1h0M120.4 197.6h0M209.5 78.4h0M123.0 143.0h0M134.3 127.3h0M141.4 125.3h0M173.7 77.8h0M182.1 58.9h0M129.9 210.9h0M118.7 144.3h0M150.2 55.1h0M151.4 115.6h0M126.2 111.6h0M180.1 74.1h0M147.6 67.7h0M127.5 190.3h0M151.3 44.1h0M163.5 108.4h0M201.4 90.3h0M139.6 47.1h0M180.8 68.5h0M132.2 123.2h0M115.1 179.6h0M116.6 200.0h0M157.5 152.1h0M165.3 52.3h0M114.2 153.0h0M166.1 46.1h0M131.6 110.1h0M138.8 53.7h0M121.2 200.7h0M115.2 176.6h0M184.5 49.6h0M171.6 64.3h0M197.0 78.9h0M136.1 96.2h0M186.3 66.9h0M164.4 86.3h0M191.0 102.4h0M124.6 130.2h0M106.5 193.5h0M144.7 76.1h0M155.3 85.4h0M144.8 161.1h0M157.9 63.9h0M126.5 86.3h0M132.5 86.8h0M196.3 83.2h0M122.0 180.5h0M173.4 49.9h0M160.2 40.2h0M113.3 153.3h0M213.8 74.9h0M117.2 97.0h0M138.5 171.2h0M154.1 117.9h0M182.2 41.2h0M135.9 149.7h0M127.4 158.2h0M187.6 92.4h0M125.6 111.8h0M109.5 193.3h0M114.7 191.0h0M111.2 197.2h0M145.2 144.0h0M135.5 146.9h0M144.8 52.7h0M137.3 178.3h0M160.7 44.6h0M177.7 76.2h0M141.6 110.6h0M134.3 57.6h0M202.1 79.6h0M148.9 144.0h0M126.2 141.4h0M150.2 163.0h0M131.8 121.2h0M122.7 94.1h0M170.0 49.9h0M181.2 91.8h0M125.9 187.5h0M146.2 44.6h0M152.4 40.7h0M174.7 84.8h0M138.3 171.3h0M143.9 163.1h0M190.7 53.9h0M231.8 95.7h0M125.0 136.5h0M163.8 57.6h0M202.6 91.1h0M126.8 127.1h0M198.1 55.0h0M171.2 68.1h0M214.4 66.0h0M136.7 128.7h0M188.9 107.8h0M151.9 117.8h0M120.2 192.2h0M210.2 94.1h0M172.1 68.5h0M138.8 140.9h0M197.4 76.6h0M133.4 191.8h0M131.0 136.6h0M178.2 80.7h0M177.1 100.4h0M148.3 79.0h0M176.5 84.4h0M154.0 103.2h0M159.1 66.1h0M111.7 175.8h0M193.3 100.7h0M157.0 60.0h0M150.4 141.6h0M124.5 160.8h0M129.8 73.9h0M151.7 84.1h0M131.7 169.6h0M180.4 54.2h0M134.5 189.9h0M197.7 95.1h0M121.7 198.0h0M157.6 84.7h0M156.5 60.0h0M193.6 112.0h0M201.3 67.7h0M187.1 93.8h0M175.2 86.8h0M152.5 125.0h0M124.0 169.4h0M128.1 170.9h0M224.9 111.2h0M211.6 87.7h0M130.8 96.6h0M147.9 92.6h0M126.8 157.1h0M150.8 60.3h0M146.5 49.2h0M167.4 98.4h0M221.5 108.6h0M184.1 82.6h0M185.8 54.0h0M193.6 107.9h0M143.4 137.2h0M190.6 120.0h0M124.5 157.2h0M210.3 80.2h0M112.0 177.6h0M182.1 53.9h0M172.2 69.5h0M109.5 166.1h0M129.5 162.5h0M171.1 49.0h0M207.0 70.6h0M144.3 123.9h0M133.9 117.9h0M114.2 152.6h0M136.3 152.3h0M174.8 59.7h0M154.8 43.9h0M213.7 72.3h0M160.1 53.3h0M190.9 84.7h0M175.0 46.8h0M142.7 57.8h0M159.6 99.0h0M132.5 202.3h0M126.3 193.2h0M143.5 46.6h0M114.0 194.6h0M154.0 58.8h0M144.8 113.1h0M108.8 190.1h0M127.8 186.9h0M167.1 46.1h0M222.9 69.3h0M128.9 118.3h0M129.2 76.4h0M142.8 156.0h0M156.7 144.3h0M108.2 194.9h0M197.7 90.1h0M120.8 140.4h0M192.9 65.7h0M158.7 53.6h0M192.5 86.7h0M199.0 53.3h0M141.5 131.7h0M119.8 123.0h0M191.9 79.6h0M127.1 170.5h0M134.0 134.3h0M137.9 149.2h0M139.3 178.9h0M165.4 67.7h0M213.6 87.9h0M150.6 46.7h0M194.4 116.7h0M126.2 128.1h0M190.8 91.3h0M126.1 111.6h0M130.1 103.6h0M112.3 195.5h0M115.4 176.7h0M194.1 92.8h0"/>
<path class="o" d="M104.0 74.2h0M150.6 124.3h0M115.4 67.3h0M186.1 115.6h0M116.4 122.1h0M93.1 147.1h0M132.1 87.4h0M175.0 118.1h0M231.0 129.4h0M101.9 35.7h0M95.0 154.3h0M116.1 125.5h0M102.7 37.7h0M117.5 69.2h0M177.2 113.9h0M114.3 101.5h0M102.0 61.8h0M143.0 116.0h0M83.0 80.5h0M133.3 81.9h0M113.5 55.9h0M199.2 125.8h0M82.2 74.9h0M134.4 56.3h0M96.4 80.9h0M98.9 66.0h0M94.1 67.5h0M107.7 25.2h0M136.9 97.3h0M138.7 140.5h0M99.3 148.1h0M164.9 88.4h0M123.8 53.1h0M114.8 114.4h0M193.9 129.0h0M98.3 150.0h0M107.6 40.2h0M131.8 90.0h0M111.1 105.4h0M174.0 94.8h0M120.8 68.6h0M103.7 129.2h0M112.0 110.4h0M102.1 83.8h0M132.5 143.7h0M118.5 65.2h0M120.6 48.2h0M132.9 144.7h0M169.8 91.2h0M106.8 49.5h0M130.4 188.0h0M144.7 79.0h0M103.3 33.7h0M86.4 68.8h0M116.6 102.0h0M186.9 113.2h0M159.0 131.7h0M146.3 145.1h0M132.7 62.9h0M108.9 130.3h0M110.2 82.9h0M98.8 136.4h0M90.1 81.5h0M108.1 35.5h0M118.3 67.4h0M90.7 141.9h0M121.8 49.0h0M105.6 63.8h0M159.0 105.3h0M179.3 111.5h0M119.4 77.8h0M164.0 108.2h0M132.3 113.8h0M122.1 44.0h0M129.4 58.4h0M114.9 152.1h0M146.8 112.5h0M195.9 118.5h0M138.1 120.9h0M114.2 99.3h0M103.2 97.0h0M127.6 161.3h0M115.0 73.9h0M102.0 31.9h0M105.6 88.4h0M125.5 51.5h0M79.8 156.8h0M94.6 83.0h0M134.8 72.6h0M142.7 90.4h0M145.7 60.4h0M113.9 41.2h0M188.0 111.2h0M169.6 104.1h0M142.1 148.0h0M136.0 124.0h0M107.3 58.9h0M151.6 68.2h0M121.6 80.8h0M132.9 164.8h0M112.2 28.7h0M106.8 28.6h0M146.0 110.9h0M112.6 71.0h0M109.1 137.0h0M128.7 90.9h0M145.0 137.6h0M89.6 58.6h0M155.9 74.1h0M185.5 111.2h0M117.7 59.0h0M109.1 133.2h0M103.3 101.9h0M153.0 77.8h0M151.9 76.4h0M170.2 106.7h0M147.1 116.6h0M107.5 73.8h0M128.8 48.4h0M114.3 63.8h0M125.9 60.5h0M143.2 114.1h0M120.8 67.8h0M130.0 71.9h0M142.5 76.9h0M158.2 84.6h0M118.6 92.3h0M127.0 56.4h0M194.7 106.8h0M87.4 160.2h0M163.8 88.0h0M173.9 103.7h0M106.2 44.3h0M129.0 112.1h0M113.8 160.3h0M181.7 102.9h0M123.3 62.9h0M124.8 159.7h0M213.5 129.9h0M105.5 83.8h0M99.9 85.7h0M129.3 88.9h0M105.9 52.0h0M108.9 87.6h0M94.8 63.8h0M116.7 81.3h0M106.1 158.8h0M112.6 66.0h0M180.9 113.8h0M116.8 60.8h0M123.7 126.3h0M173.6 124.2h0M118.8 51.9h0M189.9 119.3h0M120.3 117.4h0M159.6 111.7h0M161.6 97.2h0M127.3 44.7h0M191.1 107.1h0M154.1 121.6h0M120.4 135.4h0M112.7 107.3h0M268.2 186.5h0M192.5 123.2h0M178.1 99.1h0M87.9 146.9h0M119.5 58.9h0M121.9 61.3h0M83.8 152.4h0M101.9 66.6h0M117.2 113.1h0M152.5 91.1h0M84.0 142.0h0M98.8 130.6h0M125.9 108.0h0M116.6 72.6h0M119.6 57.1h0M119.5 119.6h0M123.4 104.8h0M132.2 71.1h0M117.2 37.2h0M128.6 147.1h0M84.4 55.0h0M118.6 76.6h0M115.4 55.6h0M102.6 64.4h0M106.1 110.6h0M126.6 46.2h0M141.8 88.1h0M142.4 159.8h0M121.2 101.2h0M114.8 91.0h0M142.5 126.9h0M101.8 55.0h0M130.0 53.5h0M147.0 101.7h0M122.8 92.0h0M128.5 67.4h0M129.2 93.1h0M109.7 45.3h0M172.9 91.5h0M114.7 119.1h0M108.3 141.7h0M100.1 122.7h0M102.1 51.7h0M108.5 31.6h0M143.4 102.1h0M115.3 109.1h0M129.0 84.3h0M111.4 40.2h0M110.8 99.2h0M125.3 140.6h0M109.0 56.7h0M96.9 86.8h0M142.3 152.3h0M120.2 71.3h0M103.7 74.0h0M198.2 111.8h0M132.9 141.3h0M134.0 77.6h0M114.3 97.0h0M156.8 108.1h0M150.0 97.6h0M159.5 93.2h0M148.6 112.9h0M98.5 65.7h0M89.3 151.5h0M96.2 128.5h0M110.0 54.4h0M112.8 56.5h0M188.6 104.4h0M104.6 59.2h0M151.3 65.6h0M136.6 91.4h0M104.0 154.8h0M130.3 52.3h0M116.0 60.0h0M105.0 31.5h0M157.9 125.1h0M112.9 67.4h0M141.4 104.4h0M146.4 96.1h0M142.3 73.8h0M129.7 94.4h0M137.3 71.2h0M124.4 60.7h0M87.3 42.6h0M157.7 101.0h0M89.9 85.9h0M113.0 125.5h0M161.0 85.0h0M104.0 63.6h0M112.9 125.3h0M180.5 109.0h0M120.0 84.8h0M104.5 32.9h0M121.7 139.7h0M152.9 95.1h0M198.9 130.1h0M130.6 119.3h0M147.4 137.3h0M106.0 155.5h0M137.8 171.2h0M152.4 108.9h0M133.5 82.9h0M123.4 139.6h0M82.0 52.7h0M111.2 67.5h0"/>
<path class="b" d="M157.2 52.9h0M125.1 105.2h0M112.3 154.4h0M169.2 98.2h0M173.5 64.1h0M119.4 162.9h0M115.7 147.5h0M117.3 150.0h0M156.4 60.5h0M126.7 160.4h0M185.8 92.1h0M112.5 200.7h0M185.6 87.4h0M168.0 40.7h0M176.0 79.4h0M187.2 56.0h0M164.6 67.6h0M132.8 179.9h0M144.1 163.5h0M200.1 118.0h0M173.8 51.4h0M122.1 128.0h0M201.0 118.7h0M144.3 70.3h0M211.1 113.1h0M146.0 113.0h0M136.3 170.3h0M142.2 87.4h0M166.2 51.5h0M118.8 192.5h0M163.7 71.5h0M138.6 113.5h0M172.4 53.6h0M134.0 56.0h0M156.1 44.0h0M182.4 96.5h0M129.7 142.3h0M160.8 67.2h0M118.5 144.5h0M113.9 192.6h0M199.4 85.2h0M185.5 72.3h0M114.4 154.4h0M121.2 170.2h0M170.1 74.1h0M133.2 86.0h0M135.7 126.9h0M198.3 71.7h0M143.6 46.3h0M165.6 104.0h0M134.1 196.7h0M123.0 118.6h0M139.3 181.1h0M142.7 177.1h0M152.6 87.4h0M157.0 46.6h0M129.9 149.0h0M166.5 89.9h0M126.6 191.9h0M189.3 51.1h0M132.9 160.3h0M149.3 40.3h0M176.9 61.9h0M179.9 99.5h0M132.2 104.8h0M115.9 198.9h0M155.8 101.9h0M125.1 172.3h0M155.9 79.1h0M122.2 112.1h0M187.8 67.3h0M170.1 64.4h0M111.0 179.1h0M128.7 122.3h0M153.6 85.5h0M129.0 112.9h0M115.2 184.1h0M129.9 140.7h0M194.3 89.7h0M154.2 65.4h0M121.2 152.2h0M119.4 181.0h0M159.9 55.7h0M173.3 73.9h0M163.4 72.3h0M129.8 204.6h0M180.1 51.1h0M195.1 77.4h0M134.9 143.9h0M183.0 88.2h0M163.8 73.7h0M135.0 148.6h0M152.1 56.9h0M137.6 180.7h0M111.8 144.8h0M137.1 84.1h0M185.0 109.6h0M124.6 141.1h0M135.4 103.7h0M183.1 51.6h0M190.2 61.5h0M165.3 54.2h0M118.9 161.4h0M117.4 180.3h0M124.1 86.6h0M109.8 178.3h0M201.6 82.3h0M146.8 78.3h0M184.3 47.7h0M125.5 48.7h0M130.5 101.6h0M112.4 194.6h0M111.2 199.0h0M186.5 90.9h0M194.7 91.7h0M166.2 49.0h0M171.7 108.7h0M216.5 87.1h0M149.9 53.3h0M170.9 106.9h0M126.5 130.3h0M128.0 154.0h0M192.8 66.1h0M202.4 98.0h0M106.1 174.6h0M108.3 164.9h0M195.0 61.2h0M127.0 205.4h0M163.4 80.0h0M162.3 63.3h0M126.8 129.1h0M157.1 53.2h0M134.8 63.7h0M208.0 86.8h0M194.8 87.6h0M130.4 158.4h0M122.2 103.4h0M148.1 53.6h0M163.6 56.7h0M144.5 116.0h0M135.2 88.4h0M215.8 67.7h0M138.2 84.3h0M203.2 80.7h0M167.0 155.5h0M154.4 46.4h0M150.9 91.1h0M124.8 192.5h0M148.0 116.7h0M198.4 97.4h0M116.2 179.7h0M116.3 188.5h0M176.0 50.7h0M127.6 117.9h0M177.0 107.9h0M164.4 39.5h0M196.0 98.1h0M152.7 72.2h0M121.2 175.0h0M138.2 148.9h0M266.9 210.2h0M138.5 63.7h0M123.8 176.2h0M199.5 49.6h0M203.4 83.4h0M119.3 93.7h0M169.6 86.1h0M141.6 147.5h0M129.0 185.4h0M130.8 180.1h0M140.0 166.6h0M117.0 141.9h0M128.1 198.9h0M136.8 187.9h0M199.0 73.4h0M224.6 77.9h0M146.8 73.6h0M152.8 48.5h0M188.6 50.2h0M134.2 197.0h0M175.2 76.3h0M197.2 65.9h0M170.9 73.3h0M170.2 74.9h0M143.0 166.9h0M147.2 54.4h0M187.0 82.4h0M163.7 65.4h0M125.8 122.6h0M194.9 62.9h0M155.0 77.9h0M156.2 83.0h0M179.6 74.2h0M193.0 68.5h0M135.8 96.1h0M172.2 91.8h0M195.8 85.4h0M164.3 44.2h0M150.2 132.9h0M174.0 67.5h0M120.6 91.6h0M177.9 90.8h0M195.6 117.8h0M121.1 118.7h0M138.2 57.1h0M144.3 164.9h0M147.1 48.0h0M171.4 52.9h0M148.2 135.4h0M119.1 191.0h0M126.4 144.5h0M134.8 101.4h0M181.6 68.2h0M171.5 43.8h0M141.4 112.1h0M195.7 67.7h0M153.2 74.3h0M143.5 119.1h0M117.7 97.3h0M127.3 83.7h0M174.2 101.1h0M136.9 94.3h0M179.7 108.5h0M136.2 110.2h0M127.1 139.9h0M268.6 203.1h0M191.3 51.9h0M118.1 160.4h0M200.8 88.3h0M187.1 54.3h0M108.5 161.7h0M127.4 138.1h0M178.0 90.2h0M153.9 52.9h0M149.7 64.6h0M148.0 47.9h0M191.6 90.1h0M136.4 123.1h0M192.5 101.5h0M215.6 99.3h0M119.6 143.4h0M148.1 118.6h0M178.8 68.5h0M211.4 105.6h0M175.4 72.6h0M139.9 88.1h0M160.3 62.4h0M155.2 70.0h0M167.8 79.5h0M188.5 65.8h0M186.8 74.2h0M175.0 58.8h0M202.8 108.5h0M192.1 99.7h0M143.2 137.2h0M193.6 111.1h0M120.1 88.9h0M132.2 128.1h0M166.8 55.4h0M121.6 94.3h0M143.4 63.0h0M122.4 155.3h0M166.2 39.1h0M184.3 54.4h0M148.6 43.3h0M128.4 114.5h0M130.0 131.2h0M162.8 69.1h0M151.0 79.7h0M133.4 137.1h0M151.8 41.2h0M152.9 83.6h0M157.5 90.7h0M139.1 131.1h0M144.6 96.1h0M146.6 144.3h0M130.3 184.1h0M132.4 106.5h0M157.2 103.6h0M200.2 118.8h0M121.7 100.1h0M118.0 170.2h0M193.3 96.8h0M133.5 140.9h0M186.7 70.7h0M128.6 53.9h0M164.0 78.7h0M117.4 110.2h0M129.7 154.0h0M135.4 110.1h0M181.2 50.8h0M132.6 154.3h0M188.4 87.5h0M144.3 91.9h0M181.8 45.9h0M120.5 198.4h0M202.2 113.9h0M127.5 78.6h0M132.4 113.4h0M176.0 41.1h0M117.3 183.6h0"/>
<path class="o" d="M106.2 39.4h0M118.1 122.4h0M123.9 44.8h0M99.2 146.2h0M132.7 138.6h0M113.0 28.6h0M157.0 88.7h0M138.3 102.8h0M91.0 158.3h0M116.6 153.6h0M132.7 56.4h0M139.8 101.1h0M101.5 150.2h0M114.5 44.2h0M110.0 97.7h0M103.3 46.1h0M185.5 118.4h0M166.9 102.7h0M101.3 74.5h0M143.6 71.8h0M191.8 123.1h0M120.2 91.4h0M113.5 108.0h0M94.4 48.9h0M144.9 132.6h0M121.7 124.0h0M124.1 79.9h0M161.0 97.6h0M101.7 103.2h0M112.4 93.7h0M165.7 101.7h0M109.2 74.8h0M139.5 82.9h0M122.4 58.1h0M132.6 101.0h0M146.3 71.8h0M130.4 69.8h0M145.4 86.6h0M98.1 119.7h0M167.8 104.8h0M125.4 65.0h0M195.8 122.1h0M140.4 81.2h0M117.0 124.1h0M111.9 89.3h0M118.2 89.2h0M169.5 86.9h0M143.8 75.9h0M150.5 121.0h0M96.6 73.2h0M268.4 185.6h0M141.7 85.3h0M179.5 117.7h0M153.8 101.4h0M133.3 105.4h0M99.5 155.8h0M102.5 72.3h0M171.7 99.6h0M102.5 66.0h0M134.8 88.0h0M187.3 111.6h0M108.6 66.9h0M123.9 147.8h0M102.9 49.3h0M137.0 159.6h0M101.4 131.2h0M131.5 102.0h0M156.5 127.4h0M130.7 152.9h0M111.3 82.2h0M112.0 78.2h0M99.3 160.7h0M128.7 50.4h0M115.6 98.2h0M131.4 62.1h0M81.3 150.7h0M152.0 71.1h0M132.1 86.0h0M136.5 112.1h0M125.8 54.2h0M146.8 113.6h0M114.2 87.7h0M120.7 90.5h0M133.8 158.4h0M198.3 112.9h0M105.7 60.6h0M158.7 131.4h0M181.0 111.3h0M116.4 128.1h0M159.5 83.2h0M126.7 50.3h0M143.3 59.0h0M157.8 92.9h0M113.8 93.0h0M179.8 121.0h0M130.7 63.1h0M196.4 118.3h0M128.6 75.0h0M139.0 107.9h0M131.4 140.0h0M121.3 40.7h0M106.0 84.4h0M108.0 88.5h0M124.3 73.2h0M92.5 81.1h0M98.3 122.6h0M185.8 119.1h0M104.4 77.0h0M124.3 99.9h0M112.7 136.3h0M99.2 59.5h0M115.0 72.0h0M164.1 119.5h0M90.4 64.5h0M127.1 120.1h0M96.7 63.0h0M126.2 48.5h0M137.5 88.4h0M104.4 28.1h0M79.3 58.7h0M134.7 75.8h0M177.8 115.2h0M124.0 37.0h0M194.2 120.2h0M126.6 159.1h0M165.0 84.5h0M141.8 164.7h0M96.0 138.9h0M86.1 138.9h0M148.7 115.8h0M104.8 61.8h0M157.3 86.5h0M171.0 115.9h0M137.0 102.5h0M217.8 128.1h0M83.2 149.8h0M117.8 116.9h0M109.1 129.2h0M113.8 123.6h0M182.5 129.6h0M112.3 61.6h0M182.3 105.1h0M114.9 81.8h0M83.7 74.1h0M188.9 103.6h0M127.3 97.0h0M121.4 111.1h0M107.9 39.5h0M131.5 70.4h0M198.8 122.8h0M93.7 70.8h0M175.7 100.4h0M125.9 89.3h0M101.6 49.0h0M117.5 90.3h0M119.6 62.9h0M112.0 69.4h0M126.6 47.9h0M104.1 54.0h0M133.8 79.3h0M191.1 112.2h0M121.0 144.2h0M180.2 109.5h0M151.5 96.7h0M135.4 62.6h0M129.1 60.6h0M146.9 128.8h0M144.8 90.4h0M114.8 29.7h0M120.7 34.7h0M90.9 68.5h0M119.4 45.3h0M114.0 91.7h0M84.2 65.7h0M144.0 112.4h0M142.3 101.7h0M140.4 118.5h0M103.3 98.3h0M118.3 147.6h0M134.5 55.5h0M133.4 98.1h0M118.7 59.8h0M161.7 115.3h0M134.3 67.8h0M102.4 95.5h0M142.5 150.6h0M124.0 80.4h0M130.9 108.2h0M130.2 49.3h0M165.0 118.1h0M106.9 38.4h0M133.3 91.1h0M130.9 41.1h0M140.6 100.6h0M165.1 96.6h0M92.8 65.5h0M95.5 139.7h0M105.0 94.9h0M139.5 103.0h0M139.4 110.9h0M172.8 86.9h0M130.5 117.0h0M140.4 160.3h0M99.4 62.4h0M113.3 114.6h0M147.1 105.5h0M190.1 122.0h0M108.4 101.0h0M140.4 102.6h0M194.6 118.3h0M146.7 124.8h0M150.5 73.9h0M118.6 113.8h0M122.2 77.7h0M133.6 114.1h0M119.8 118.4h0M172.6 99.9h0M102.7 34.1h0M128.5 55.2h0M125.1 38.7h0M173.7 97.0h0M121.4 125.0h0M158.8 105.3h0M154.8 82.9h0M97.6 63.5h0M78.3 64.4h0M115.3 90.1h0M121.3 41.3h0M105.4 68.7h0M176.6 116.1h0M124.6 66.4h0M134.2 185.5h0M103.3 68.6h0M98.3 158.9h0M191.4 113.0h0M147.5 93.2h0M141.2 91.9h0M103.5 81.7h0M138.4 73.4h0M148.8 136.3h0M143.9 91.4h0M85.8 156.4h0M95.4 157.0h0M149.4 93.1h0M122.4 92.7h0M194.5 119.9h0M144.7 104.7h0M103.7 48.0h0M191.5 113.1h0M137.1 85.9h0M124.2 84.8h0M130.7 59.6h0M129.5 70.6h0M108.9 81.3h0M116.3 103.5h0M187.2 123.6h0M169.6 113.5h0M141.0 130.7h0M94.8 145.7h0M158.5 122.0h0M151.5 78.9h0M144.3 108.3h0M192.5 115.5h0M145.7 99.9h0M124.3 76.2h0M115.9 66.3h0M120.0 55.8h0M140.2 86.3h0M137.1 137.3h0M98.3 60.1h0M161.6 91.2h0M79.9 47.6h0M194.7 117.7h0M114.3 97.1h0M138.2 113.0h0M125.0 94.2h0M128.0 122.9h0M106.0 154.6h0M120.2 43.7h0M111.9 56.6h0M124.0 97.2h0M194.1 124.0h0M142.6 138.9h0M113.8 121.0h0M122.1 86.0h0M116.7 38.9h0M106.5 54.1h0M92.8 71.1h0M195.0 102.8h0M180.2 106.8h0M117.3 131.5h0"/>
<path class="b" d="M134.3 161.9h0M200.3 96.4h0M144.2 72.5h0M126.2 48.3h0M201.7 109.6h0M164.2 42.1h0M146.2 70.6h0M122.6 176.6h0M159.3 65.1h0M134.7 184.3h0M200.3 91.2h0M121.6 158.7h0M188.6 56.6h0M187.8 49.5h0M165.2 45.4h0M157.6 145.0h0M148.4 116.2h0M194.3 64.1h0M176.6 75.1h0M135.3 81.8h0M138.6 177.5h0M103.5 185.6h0M103.3 179.1h0M194.5 75.4h0M194.1 111.0h0M120.0 138.9h0M136.8 186.1h0M196.9 52.6h0M183.3 76.4h0M125.0 98.5h0M126.3 113.8h0M128.9 54.9h0M176.3 93.0h0M187.3 83.5h0M146.1 56.2h0M117.4 163.3h0M145.5 54.2h0M161.3 46.5h0M189.3 95.7h0M136.2 164.2h0M130.2 91.9h0M139.0 162.5h0M167.5 79.6h0M135.8 76.1h0M141.7 175.5h0M150.7 49.4h0M131.5 77.1h0M129.2 205.2h0M134.8 154.2h0M212.9 100.4h0M153.3 129.5h0M200.1 122.7h0M138.4 192.4h0M150.6 53.9h0M172.8 46.3h0M184.3 80.2h0M174.9 106.1h0M107.6 169.0h0M173.4 105.0h0M192.6 111.2h0M123.3 93.6h0M145.3 158.3h0M195.0 93.1h0M161.4 59.6h0M188.7 55.3h0M155.1 64.6h0M192.9 58.0h0M118.5 166.6h0M181.8 77.2h0M192.4 68.1h0M131.5 172.7h0M120.1 159.4h0M209.8 78.1h0M173.6 71.6h0M178.1 53.2h0M132.6 165.4h0M141.7 50.1h0M127.3 139.4h0M192.4 118.9h0M145.7 133.0h0M148.5 68.2h0M133.9 132.9h0M159.3 61.1h0M166.9 69.9h0M179.5 64.2h0M154.3 62.7h0M132.3 197.3h0M135.9 122.7h0M155.1 49.5h0M152.4 88.9h0M149.1 92.1h0M174.5 76.0h0M148.4 72.3h0M125.7 130.7h0M183.1 45.9h0M150.5 99.1h0M179.1 54.8h0M117.3 188.4h0M193.1 70.5h0M199.8 61.6h0M188.0 65.8h0M120.6 192.8h0M152.1 102.4h0M206.9 98.0h0M193.6 107.0h0M119.1 170.9h0M125.1 82.3h0M169.0 40.0h0M123.1 205.6h0M139.3 105.1h0M137.8 178.4h0M151.9 101.7h0M191.1 56.1h0M109.8 171.7h0M188.5 85.9h0M189.3 49.4h0M188.8 89.5h0M130.2 74.9h0M225.2 78.9h0M180.2 70.4h0M150.3 59.5h0M131.3 128.0h0M181.1 53.4h0M209.5 72.0h0M158.5 98.3h0M130.5 85.6h0M175.8 52.8h0M145.7 43.1h0M143.8 147.1h0M190.8 87.4h0M172.9 110.8h0M150.5 146.9h0M190.3 83.2h0M169.1 54.2h0M129.8 106.2h0M207.5 95.1h0M155.8 137.6h0M138.1 175.4h0M134.8 195.8h0M175.1 77.1h0M131.4 169.2h0M203.7 115.7h0M139.0 150.4h0M108.8 191.0h0M123.6 190.7h0M128.2 167.5h0M145.9 133.6h0M192.6 72.7h0M115.7 158.9h0M131.2 64.6h0M133.2 49.9h0M149.8 93.9h0M169.4 61.9h0M116.6 149.7h0M129.2 151.1h0M130.3 151.8h0M181.9 43.9h0M104.9 176.0h0M122.1 162.7h0M146.8 156.1h0M192.8 79.5h0M170.4 79.5h0M179.7 99.5h0M160.8 83.4h0M184.6 77.2h0M194.6 60.0h0M126.0 210.8h0M142.5 160.8h0M182.3 95.1h0M197.6 86.8h0M142.7 77.5h0M218.2 86.1h0M153.2 129.0h0M127.7 191.2h0M135.6 64.5h0M121.6 185.1h0M176.3 50.9h0M180.3 97.0h0M132.1 137.9h0M187.6 62.8h0M120.0 97.0h0M180.4 81.4h0M138.9 55.3h0M120.1 85.3h0M217.9 104.8h0M191.1 84.9h0M167.1 80.6h0M122.7 139.8h0M218.5 57.5h0M127.2 193.4h0M190.0 58.8h0M127.6 141.0h0M170.5 80.1h0M164.6 92.8h0M129.7 139.7h0M114.0 201.0h0M211.0 57.7h0M151.4 72.5h0M110.5 165.4h0M149.1 49.4h0M124.6 195.6h0M148.9 61.0h0M153.3 68.5h0M147.2 103.0h0M151.5 48.8h0M170.3 42.8h0M169.7 58.5h0M180.5 86.1h0M191.3 78.8h0M166.0 73.7h0M124.1 154.5h0M196.7 57.9h0M166.6 84.4h0M203.6 70.2h0M185.4 73.2h0M136.1 157.2h0M210.5 69.8h0M142.9 156.6h0M143.7 132.7h0M149.6 94.0h0M178.4 70.8h0M132.8 101.7h0M160.1 92.6h0M132.5 133.5h0M123.6 109.4h0M191.5 54.7h0M224.5 89.7h0M165.3 98.9h0M123.7 129.1h0M133.6 106.7h0M137.4 87.0h0M178.7 88.8h0M122.3 201.9h0M154.2 55.3h0M116.7 153.7h0M145.9 123.2h0M159.8 65.1h0M121.2 120.3h0M189.8 92.6h0M116.2 171.7h0M148.4 104.8h0M132.3 210.6h0M166.5 54.0h0M161.0 56.1h0M183.8 61.5h0M170.9 71.8h0M131.9 111.7h0M181.9 67.9h0M143.6 130.4h0M193.9 86.6h0M215.2 103.3h0M140.2 47.7h0M132.3 206.5h0M127.0 146.5h0M201.6 93.2h0M135.8 188.7h0M175.1 76.1h0M147.2 157.7h0M158.3 54.5h0M142.4 67.3h0M141.5 78.0h0M168.7 70.4h0M169.2 100.2h0M154.7 39.3h0M137.5 174.8h0M147.2 81.1h0M136.2 130.5h0M187.4 51.0h0M162.3 60.1h0M119.8 111.1h0M120.6 104.3h0M175.3 42.2h0M126.3 145.3h0M176.2 110.9h0M144.9 103.3h0M135.2 121.8h0M137.9 58.3h0M128.0 118.8h0M175.5 43.5h0M120.8 137.6h0M134.8 73.1h0M167.6 57.5h0M125.7 123.9h0M152.2 113.3h0M109.5 175.8h0M125.4 136.7h0M133.4 196.6h0M144.1 114.8h0M142.8 54.9h0M159.4 41.6h0M130.9 161.3h0M144.4 65.7h0M128.8 78.5h0M146.1 54.2h0M200.8 115.0h0M160.9 46.9h0M139.8 53.8h0M196.5 88.3h0M145.0 71.4h0"/>
<path class="o" d="M132.8 126.9h0M131.9 48.8h0M139.6 78.7h0M156.8 92.5h0M99.5 55.4h0M125.9 111.5h0M169.3 105.3h0M128.6 75.5h0M128.3 127.4h0M132.2 67.7h0M101.8 67.8h0M118.3 81.6h0M138.7 69.7h0M107.0 39.4h0M95.2 46.2h0M149.0 96.2h0M121.1 100.6h0M131.2 142.0h0M107.4 87.5h0M166.4 115.3h0M106.6 135.1h0M108.3 50.9h0M187.7 112.3h0M104.3 146.0h0M105.1 46.4h0M89.1 149.6h0M128.3 131.2h0M126.8 150.9h0M121.0 61.0h0M160.6 99.7h0M86.9 45.7h0M90.6 162.2h0M167.1 100.6h0M127.1 134.9h0M114.5 99.4h0M149.9 135.1h0M115.7 67.8h0M102.7 62.2h0M113.2 97.9h0M127.9 74.1h0M122.9 42.9h0M115.9 116.5h0M126.5 82.0h0M105.0 134.3h0M152.4 92.8h0M89.9 160.0h0M141.9 137.4h0M106.3 56.8h0M271.0 176.0h0M138.4 58.4h0M135.0 147.7h0M104.7 64.5h0M107.1 90.4h0M131.6 134.2h0M192.2 106.8h0M167.0 114.6h0M121.8 79.6h0M143.2 71.7h0M137.7 83.0h0M111.2 90.8h0M144.4 67.8h0M99.5 157.1h0M191.8 125.9h0M132.3 84.0h0M109.5 126.7h0M93.5 92.2h0M120.6 75.7h0M134.3 118.2h0M106.3 127.0h0M102.9 78.9h0M216.3 117.0h0M91.2 70.5h0M207.2 127.5h0M148.6 62.9h0M93.5 145.3h0M138.2 78.3h0M121.3 58.0h0M115.2 140.5h0M172.5 107.4h0M191.8 103.1h0M100.6 95.5h0M120.1 37.0h0M144.8 105.3h0M132.6 136.4h0M150.1 85.7h0M105.1 33.2h0M143.9 146.5h0M141.7 91.8h0M153.8 102.2h0M143.5 117.5h0M193.1 120.6h0M138.5 136.1h0M119.1 66.3h0M106.5 37.1h0M130.3 71.1h0M127.6 119.9h0M136.0 158.3h0M176.3 92.1h0M123.4 46.0h0M123.8 49.4h0M120.5 86.2h0M176.5 108.1h0M121.6 63.4h0M114.7 145.6h0M94.5 67.1h0M133.2 57.7h0M129.0 57.2h0M115.7 33.3h0M268.8 184.5h0M134.1 99.9h0M121.0 52.7h0M189.7 123.6h0M120.3 66.1h0M120.7 41.8h0M169.4 114.8h0M133.6 74.9h0M132.0 112.8h0M109.0 64.9h0M104.8 146.2h0M132.9 120.0h0M185.0 104.8h0M119.6 87.4h0M126.2 123.2h0M98.9 52.8h0M100.3 90.9h0M168.6 85.0h0M120.6 89.3h0M111.9 85.2h0M113.6 96.2h0M129.4 61.7h0M140.7 118.5h0M133.5 75.9h0M178.5 112.6h0M192.9 99.4h0M172.3 116.0h0M119.5 73.9h0M174.8 102.8h0M125.7 138.5h0M101.9 69.9h0M152.2 69.2h0M219.5 132.3h0M145.5 101.4h0M117.9 85.4h0M124.5 63.3h0M87.8 148.5h0M122.1 65.4h0M114.4 148.0h0M158.1 102.4h0M164.8 112.5h0M95.3 138.2h0M149.8 85.1h0M139.4 130.1h0M91.1 85.4h0M104.2 136.9h0M144.8 128.5h0M90.5 48.1h0M112.1 44.9h0M136.8 103.4h0M129.5 153.9h0M87.2 39.4h0M131.2 79.1h0M107.1 77.0h0M124.0 54.5h0M131.8 155.7h0M115.5 40.7h0M132.9 72.6h0M142.6 107.0h0M177.7 122.1h0M121.3 89.5h0M135.7 128.9h0M110.3 134.8h0M176.7 120.3h0M112.5 101.9h0M98.8 152.5h0M92.7 78.9h0M112.2 150.2h0M135.2 149.1h0M186.9 114.9h0M81.4 152.1h0M122.6 132.1h0M121.3 172.7h0M103.2 81.4h0M156.4 104.5h0M102.8 92.0h0M136.7 86.4h0M89.3 57.3h0M112.7 48.3h0M110.9 104.2h0M91.3 161.4h0M102.2 36.7h0M101.0 159.6h0M129.7 87.2h0M117.7 125.8h0M138.2 98.0h0M132.3 109.0h0M103.2 103.3h0M121.6 68.8h0M115.5 79.5h0M112.2 114.5h0M101.4 92.7h0M118.5 30.6h0M140.0 102.3h0M148.5 102.7h0M108.2 94.4h0M170.2 93.9h0M101.6 95.6h0M151.7 80.7h0M98.9 92.4h0M103.1 50.7h0M189.2 107.7h0M137.5 101.6h0M115.4 114.4h0M92.4 158.2h0M94.9 150.2h0M97.6 50.9h0M88.0 86.0h0M98.0 122.7h0M157.7 110.1h0M125.8 87.7h0M131.9 47.0h0M119.8 36.6h0M129.7 153.1h0M101.1 106.1h0M103.7 91.6h0M118.0 75.4h0M80.2 44.3h0M153.1 79.9h0M167.4 107.5h0M105.3 49.2h0M112.9 160.3h0M98.1 85.3h0M145.2 79.5h0M135.0 55.3h0M185.2 111.7h0M109.4 98.7h0M114.7 57.1h0M120.6 96.8h0M149.9 110.2h0M111.6 178.8h0M137.5 67.8h0M112.0 27.2h0M131.6 146.5h0M143.6 88.9h0M144.0 97.8h0M97.1 77.9h0M155.8 75.2h0M154.9 96.7h0M179.9 117.0h0M135.2 158.6h0M104.2 29.7h0M126.9 124.3h0M136.3 156.7h0M146.9 65.7h0M89.6 68.8h0M133.4 77.7h0M111.2 62.3h0M107.8 142.6h0M149.8 132.2h0M109.8 74.9h0M120.9 99.2h0M112.1 78.5h0M179.0 118.5h0M92.1 52.5h0M108.1 145.4h0M112.4 55.2h0M271.6 173.6h0M143.5 97.1h0M151.2 140.8h0M97.7 92.4h0M116.9 29.1h0M122.2 80.2h0M111.3 112.1h0M109.6 140.6h0M168.3 110.3h0M221.7 125.8h0M109.8 100.3h0M222.8 120.2h0M141.8 149.3h0M115.6 65.8h0M131.2 104.2h0M153.8 104.6h0M117.4 63.3h0M97.5 79.1h0M116.2 101.1h0M164.9 110.5h0M158.8 75.4h0M101.2 73.8h0M122.1 71.3h0M134.3 131.3h0M107.3 43.7h0M176.7 97.0h0M153.7 74.7h0M92.1 62.4h0"/>
<path class="b" d="M175.2 78.4h0M166.2 70.1h0M143.4 71.2h0M143.4 92.0h0M147.9 50.1h0M117.4 176.3h0M141.0 151.8h0M172.2 63.3h0M140.4 60.5h0M126.8 123.9h0M126.4 110.5h0M157.9 44.3h0M113.3 168.7h0M151.4 138.9h0M216.1 81.7h0M115.0 140.2h0M141.0 167.8h0M116.6 136.4h0M181.4 52.9h0M128.3 167.9h0M138.8 126.0h0M165.7 64.0h0M126.6 133.3h0M152.9 54.8h0M157.9 62.5h0M164.7 72.3h0M136.3 165.5h0M118.0 181.5h0M179.3 40.8h0M131.9 127.2h0M168.2 72.0h0M185.3 71.5h0M142.0 172.3h0M144.8 137.7h0M128.7 177.0h0M121.6 107.2h0M137.2 130.4h0M111.1 190.8h0M134.3 180.8h0M194.0 83.3h0M135.2 45.4h0M151.9 106.2h0M117.9 94.2h0M124.8 146.6h0M136.5 111.8h0M129.4 87.7h0M139.8 79.2h0M182.4 75.1h0M190.7 65.5h0M125.4 205.9h0M124.7 115.2h0M150.0 65.2h0M136.7 104.3h0M132.7 143.2h0M124.1 163.8h0M206.3 78.7h0M129.8 195.2h0M109.3 194.7h0M175.9 46.2h0M139.5 152.8h0M219.6 113.2h0M136.2 142.2h0M141.2 139.8h0M181.2 72.5h0M196.7 97.9h0M165.7 69.3h0M116.2 164.7h0M132.5 106.9h0M163.6 45.3h0M143.5 150.6h0M135.6 194.3h0M127.2 178.4h0M130.3 78.9h0M159.5 80.2h0M187.9 60.6h0M132.9 50.8h0M151.8 58.1h0M106.4 177.7h0M133.9 82.3h0M218.5 111.0h0M132.6 117.5h0M120.9 155.0h0M197.1 55.8h0M137.3 66.6h0M227.8 96.5h0M132.1 177.4h0M175.8 94.8h0M188.8 57.6h0M148.1 148.9h0M117.3 116.1h0M200.3 80.0h0M141.0 166.2h0M152.8 90.4h0M195.3 89.3h0M181.7 71.6h0M127.2 184.6h0M167.3 39.7h0M199.9 89.2h0M182.4 87.5h0M156.8 44.6h0M124.5 49.9h0M138.2 76.6h0M187.7 111.3h0M134.8 162.5h0M194.4 90.8h0M162.1 110.6h0M197.0 63.9h0M173.5 49.4h0M181.5 67.0h0M112.7 198.6h0M127.3 93.6h0M113.9 198.5h0M133.3 127.5h0M178.5 81.5h0M128.7 182.2h0M195.4 77.0h0M189.9 77.3h0M209.5 103.0h0M136.3 96.9h0M142.7 150.0h0M146.1 64.6h0M146.9 135.4h0M162.0 28.7h0M132.6 66.4h0M179.9 67.5h0M171.9 85.9h0M121.8 191.7h0M148.8 169.0h0M128.6 91.1h0M134.1 140.6h0M130.4 196.3h0M169.4 59.0h0M141.6 140.7h0M180.0 63.2h0M193.4 52.8h0M121.1 111.2h0M129.3 80.5h0M186.8 107.0h0M159.2 41.9h0M123.4 113.7h0M191.4 48.6h0M172.1 70.3h0M189.8 74.7h0M159.3 57.5h0M198.2 91.0h0M193.9 59.3h0M144.3 58.5h0M142.6 123.4h0M127.6 115.6h0M177.9 89.7h0M169.1 82.4h0M140.4 175.2h0M157.3 69.4h0M121.7 165.9h0M169.5 42.1h0M152.8 102.1h0M132.2 117.5h0M111.0 175.1h0M170.6 108.6h0M114.4 193.1h0M145.3 83.7h0M229.5 103.1h0M161.7 43.8h0M175.6 67.0h0M182.7 78.6h0M137.9 167.9h0M136.3 143.9h0M127.3 95.1h0M131.4 76.2h0M198.5 56.3h0M176.0 32.5h0M118.1 148.4h0M121.8 138.3h0M187.0 82.6h0M178.2 90.8h0M181.9 69.1h0M125.6 118.2h0M168.3 68.0h0M140.9 63.5h0M136.4 140.5h0M165.1 54.2h0M177.7 69.1h0M122.9 115.3h0M178.1 56.1h0M178.9 85.5h0M182.4 105.0h0M164.4 43.3h0M162.9 41.9h0M149.2 130.9h0M154.0 57.6h0M176.8 55.8h0M113.4 173.1h0M129.1 184.3h0M109.6 195.9h0M141.9 123.7h0M121.7 111.7h0M151.0 67.5h0M184.6 68.5h0M148.6 66.4h0M152.7 104.7h0M158.2 40.1h0M132.6 72.7h0M137.5 47.2h0M168.9 69.7h0M129.4 201.8h0M132.3 104.9h0M159.1 53.5h0M141.0 165.1h0M158.5 67.6h0M187.2 79.4h0M131.8 212.1h0M195.7 66.0h0M128.3 200.9h0M127.2 185.4h0M155.8 81.4h0M215.1 95.3h0M194.6 71.0h0M136.3 147.2h0M124.3 125.1h0M130.3 190.9h0M173.1 80.5h0M156.6 62.3h0M178.9 78.9h0M190.0 93.6h0M125.1 161.7h0M129.6 92.8h0M124.3 107.2h0M162.1 70.0h0M147.2 93.9h0M139.3 142.2h0M170.2 70.8h0M146.7 120.1h0M125.6 107.9h0M118.5 91.9h0M126.1 198.1h0M116.9 165.3h0M197.9 112.4h0M135.7 117.2h0M193.1 72.3h0M135.5 143.7h0M120.5 94.8h0M188.7 59.0h0M147.5 78.2h0M169.0 98.1h0M134.4 123.8h0M171.1 86.9h0M112.0 158.3h0M139.6 65.1h0M209.4 113.1h0M109.3 170.6h0M165.9 103.3h0M170.1 51.0h0M213.0 90.9h0M167.8 102.7h0M132.3 75.8h0M111.7 176.9h0M142.2 51.7h0M160.5 74.5h0M110.2 161.5h0M144.4 144.6h0M207.8 105.9h0M117.4 202.6h0M197.9 63.0h0M121.3 88.4h0M199.5 95.9h0M129.0 87.6h0M151.0 53.6h0M216.9 91.2h0M114.1 148.3h0M127.6 104.2h0M165.9 87.7h0M130.3 117.5h0M131.8 99.8h0M138.0 180.1h0M171.9 89.4h0M116.4 146.0h0M118.1 182.0h0M109.9 169.2h0M164.5 67.5h0M159.8 87.9h0M152.3 58.2h0M126.5 147.2h0M135.6 158.8h0M200.9 77.1h0M158.1 58.5h0M112.0 172.6h0M114.8 195.3h0M200.2 51.6h0M139.1 162.6h0M128.3 154.7h0M156.5 60.0h0M120.5 138.9h0M205.4 90.1h0M148.6 145.6h0M115.0 182.0h0M135.1 181.5h0M131.3 56.9h0M145.7 143.6h0M128.5 141.3h0M120.6 97.9h0M158.1 70.2h0M198.2 84.7h0M110.2 175.2h0M195.5 84.4h0M174.7 106.9h0M141.2 168.3h0M127.9 171.3h0M139.9 177.3h0M170.3 55.4h0M165.4 109.1h0M177.9 87.0h0M183.7 65.5h0M218.0 112.0h0M212.9 96.1h0M196.6 114.7h0M124.4 122.5h0"/>
<path class="o" d="M99.6 60.7h0M106.4 48.1h0M98.9 38.5h0M108.4 85.4h0M138.6 126.7h0M137.5 106.9h0M179.9 117.9h0M84.5 160.0h0M121.4 42.3h0M95.3 87.5h0M105.6 79.0h0M110.1 113.7h0M134.9 93.5h0M139.2 144.2h0M122.5 68.6h0M174.1 101.9h0M101.0 76.8h0M192.3 109.8h0M118.7 71.4h0M149.7 101.8h0M94.4 68.9h0M128.5 145.6h0M121.2 98.1h0M140.7 146.3h0M128.6 132.5h0M166.2 98.7h0M135.6 128.2h0M158.1 93.0h0M146.9 108.1h0M92.4 56.0h0M96.5 126.3h0M113.9 72.7h0M107.7 94.5h0M82.2 59.4h0M118.0 94.6h0M86.5 71.6h0M108.5 88.4h0M128.4 108.6h0M120.7 113.9h0M133.2 56.3h0M99.0 48.3h0M97.5 57.9h0M140.7 107.6h0M106.4 105.2h0M106.2 85.7h0M148.6 103.5h0M128.7 71.0h0M114.5 36.6h0M152.1 74.7h0M111.8 123.6h0M128.3 150.9h0M142.5 61.0h0M84.6 72.9h0M153.5 95.8h0M149.0 100.9h0M146.7 87.1h0M183.9 127.8h0M185.6 117.0h0M128.1 111.1h0M128.6 50.2h0M125.5 99.7h0M94.2 149.3h0M140.9 88.0h0M123.0 90.2h0M103.2 97.8h0M191.4 119.6h0M169.6 97.6h0M155.3 101.4h0M132.7 141.8h0M99.3 75.8h0M101.1 92.7h0M100.4 135.2h0M137.6 123.4h0M140.0 83.5h0M144.4 156.7h0M93.1 73.1h0M165.9 101.6h0M152.0 94.0h0M98.0 83.3h0M113.3 123.3h0M224.5 130.4h0M127.4 86.7h0M158.5 126.2h0M150.1 76.5h0M105.7 99.4h0M90.3 78.7h0M135.3 70.3h0M199.3 127.5h0M162.9 113.4h0M142.2 151.5h0M148.9 115.0h0M124.1 41.5h0M120.2 79.4h0M171.2 89.0h0M125.6 116.4h0M137.2 110.8h0M130.2 138.0h0M104.7 76.7h0M174.0 98.9h0M188.9 115.3h0M99.9 92.5h0M184.9 124.5h0M127.8 90.9h0M116.7 81.6h0M125.9 56.2h0M141.6 138.7h0M113.2 63.7h0M130.9 69.0h0M98.5 47.0h0M150.9 113.7h0M81.7 152.7h0M87.4 139.2h0M186.5 99.9h0M80.7 55.4h0M123.0 68.6h0M120.6 142.2h0M127.5 120.3h0M129.8 77.8h0M159.6 115.0h0M104.0 96.9h0M113.2 29.7h0M127.0 63.2h0M168.3 114.5h0M118.1 46.9h0M104.7 55.4h0M182.2 99.0h0M90.5 149.7h0M144.1 62.4h0M139.8 104.7h0M116.8 44.5h0M135.4 68.6h0M142.6 155.6h0M88.9 85.5h0M107.8 44.4h0M117.5 97.5h0M152.2 70.0h0M140.6 98.1h0M109.4 87.3h0M183.8 125.1h0M126.5 117.5h0M130.2 75.6h0M82.8 151.2h0M133.9 55.8h0M103.6 92.0h0M184.8 97.6h0M136.2 116.8h0M101.7 81.2h0M86.4 155.6h0M138.0 89.3h0M126.6 107.9h0M125.2 95.2h0M136.1 142.5h0M118.5 29.4h0M172.5 99.3h0M120.8 102.7h0M119.5 160.5h0M89.5 80.0h0M127.0 164.7h0M91.3 74.0h0M98.7 72.5h0M119.7 60.0h0M124.6 118.4h0M106.6 91.7h0M79.1 47.9h0M152.3 76.9h0M195.4 120.0h0M114.9 32.3h0M122.6 50.0h0M112.5 26.8h0M140.0 102.9h0M107.1 109.8h0M128.1 85.2h0M110.6 79.4h0M157.1 80.7h0M126.3 59.1h0M133.9 132.9h0M144.7 110.4h0M122.6 45.3h0M104.0 44.5h0M123.2 54.8h0M120.8 133.9h0M114.2 30.8h0M218.2 123.4h0M117.6 58.2h0M132.8 157.8h0M102.0 146.6h0M99.7 61.5h0M177.5 125.0h0M170.6 81.9h0M154.3 92.2h0M117.5 131.3h0M178.3 95.7h0M121.2 52.1h0M123.7 94.8h0M86.4 84.9h0M107.2 149.1h0M141.9 148.6h0M125.0 44.4h0M121.3 108.2h0M129.1 57.8h0M128.3 83.7h0M103.8 44.2h0M119.1 110.6h0M135.5 130.7h0M102.6 77.5h0M129.3 69.2h0M182.4 106.7h0M131.3 106.4h0M149.4 128.2h0M137.2 71.8h0M136.6 103.7h0M180.4 114.8h0M113.9 81.3h0M97.3 75.2h0M117.8 77.2h0M102.2 41.1h0M169.0 107.0h0M141.3 147.8h0M107.1 44.6h0M131.9 108.3h0M124.0 115.7h0M122.8 51.2h0M184.7 145.5h0M103.4 100.6h0M143.0 62.8h0M89.0 43.6h0M103.9 39.0h0M135.3 74.0h0M91.2 52.7h0M109.3 39.2h0M180.6 98.7h0M169.2 99.2h0M107.1 83.8h0M102.1 108.0h0M116.4 58.1h0M108.4 58.1h0M100.0 41.8h0M100.0 90.6h0M128.2 105.3h0M130.3 77.1h0M144.0 80.7h0M125.7 94.3h0M123.2 59.1h0M109.1 111.0h0M115.2 115.0h0M82.3 76.6h0M217.6 127.9h0M129.6 80.8h0M83.5 155.6h0M104.0 152.9h0M121.6 97.1h0M148.5 72.6h0M128.2 122.5h0M122.9 35.6h0M80.7 49.3h0M145.8 120.1h0M80.5 76.8h0M155.7 93.2h0M149.6 86.5h0M111.8 130.2h0M119.6 94.9h0M106.8 150.6h0M150.0 71.7h0M123.6 85.2h0M168.4 83.3h0M123.5 137.7h0M121.8 38.5h0M141.1 100.9h0M115.0 120.9h0M165.4 96.2h0M147.1 87.6h0M167.8 86.4h0M127.1 82.2h0M147.4 103.3h0M94.4 141.5h0M106.8 87.7h0"/>
<path class="b" d="M149.9 49.3h0M188.2 50.7h0M176.8 70.2h0M115.9 143.0h0M136.9 112.6h0M181.8 65.2h0M198.5 62.3h0M158.4 59.2h0M163.7 54.4h0M166.8 55.1h0M116.8 143.8h0M160.8 55.7h0M162.9 86.5h0M144.2 139.2h0M200.9 97.2h0M157.3 73.7h0M137.7 73.3h0M155.5 74.6h0M186.4 87.1h0M176.5 107.2h0M180.2 51.1h0M183.5 76.7h0M129.8 169.6h0M186.0 113.1h0M128.2 149.3h0M151.5 63.3h0M190.3 80.5h0M116.7 143.4h0M140.1 144.4h0M172.4 74.5h0M193.5 72.9h0M191.3 73.7h0M167.4 63.7h0M179.5 41.2h0M137.7 53.1h0M213.3 77.7h0M187.6 51.9h0M123.6 177.5h0M120.0 178.1h0M166.3 41.6h0M152.0 44.9h0M123.8 115.4h0M135.0 119.0h0M134.6 55.1h0M178.6 44.1h0M180.1 45.2h0M126.5 78.9h0M116.5 142.2h0M123.7 103.5h0M132.2 76.1h0M142.0 163.1h0M125.5 92.0h0M138.7 112.8h0M177.1 66.5h0M163.2 69.0h0M165.9 97.4h0M111.7 187.6h0M127.0 80.8h0M150.2 114.7h0M181.7 47.0h0M138.1 53.6h0M131.4 188.4h0M135.7 75.1h0M199.6 114.1h0M134.2 191.7h0M163.3 108.7h0M182.6 59.3h0M139.1 152.0h0M178.0 53.1h0M165.9 67.8h0M208.8 100.2h0M206.1 74.1h0M159.1 154.9h0M156.3 63.8h0M203.6 92.2h0M117.0 146.4h0M176.8 74.0h0M135.9 171.5h0M191.7 93.9h0M128.2 128.7h0M199.9 72.6h0M132.9 152.7h0M148.8 45.0h0M199.4 95.3h0M190.2 87.2h0M167.6 54.2h0M127.0 50.6h0M131.2 130.9h0M187.7 84.8h0M120.1 148.8h0M117.9 190.3h0M136.0 142.7h0M139.2 143.9h0M186.6 94.3h0M150.3 134.2h0M124.3 165.5h0M152.6 122.6h0M120.8 104.7h0M173.3 78.8h0M183.4 65.0h0M132.8 166.5h0M189.2 56.9h0M143.8 153.6h0M143.5 68.5h0M119.8 204.5h0M160.0 50.7h0M199.4 111.7h0M127.8 189.2h0M215.4 81.6h0M197.8 123.0h0M187.4 94.2h0M119.7 191.0h0M172.8 91.7h0M182.8 85.8h0M189.6 75.9h0M171.4 83.7h0M160.6 51.0h0M175.9 43.6h0M166.1 78.7h0M118.2 133.6h0M207.3 90.1h0M141.1 119.9h0M174.2 44.5h0M142.0 79.4h0M139.5 56.8h0M198.8 93.1h0M209.3 76.6h0M158.2 153.3h0M135.7 75.8h0M129.0 98.6h0M176.3 72.6h0M201.2 87.9h0M175.8 44.1h0M132.1 90.5h0M227.2 88.5h0M184.0 104.3h0M193.3 56.4h0M135.6 102.7h0M147.3 121.7h0M128.2 157.2h0M141.0 171.0h0M144.3 116.1h0M138.7 154.0h0M134.1 155.7h0M187.0 57.9h0M173.7 92.2h0M131.1 133.6h0M186.9 49.4h0M145.9 70.9h0M189.2 69.5h0M183.6 76.7h0M136.2 176.3h0M151.5 104.4h0M127.3 138.5h0M179.6 88.4h0M121.2 138.7h0M196.6 112.0h0M197.5 95.2h0M173.7 45.7h0M140.7 56.8h0M188.0 74.3h0M120.7 87.7h0M141.3 167.4h0M178.0 75.8h0M130.4 105.8h0M197.7 64.6h0M169.4 98.5h0M125.0 137.8h0M119.3 193.2h0M196.4 61.5h0M118.3 149.3h0M187.8 66.9h0M139.9 183.4h0M128.2 76.6h0M108.1 178.2h0M133.2 70.7h0M163.4 97.5h0M144.5 156.2h0M209.6 67.4h0M185.9 103.1h0M115.8 152.3h0M171.9 49.2h0M158.5 70.5h0M146.1 120.2h0M195.2 100.3h0M162.7 97.9h0M148.7 149.3h0M105.2 164.0h0M127.9 139.2h0M123.7 191.1h0M138.5 118.7h0M120.3 141.6h0M135.7 178.3h0M121.2 192.2h0M164.0 68.9h0M121.9 115.0h0M150.9 51.9h0M197.7 94.7h0M176.2 57.8h0M212.8 98.9h0M162.8 67.8h0M197.4 114.1h0M127.0 183.9h0M148.8 149.7h0M209.4 59.0h0M174.1 108.5h0M136.3 143.7h0M172.8 103.1h0M157.8 156.9h0M191.7 115.0h0M121.2 170.1h0M139.3 180.5h0M191.7 50.5h0M142.6 62.8h0M208.5 107.9h0M117.9 93.2h0M193.5 71.6h0M193.4 80.4h0M162.5 40.0h0M101.9 187.5h0M130.1 108.7h0M180.7 72.9h0M122.8 122.2h0M194.7 110.1h0M138.7 186.1h0M161.8 48.2h0M118.7 168.2h0M103.5 175.9h0M152.8 38.0h0M136.4 181.9h0M180.7 73.7h0M162.6 135.4h0M159.0 74.2h0M181.9 77.9h0M185.5 68.2h0M123.2 194.8h0M195.5 90.1h0M114.7 184.3h0M170.2 63.5h0M177.1 46.9h0M158.6 56.3h0M154.6 73.4h0M120.3 96.3h0M123.3 160.1h0M121.7 100.0h0M126.2 107.4h0M123.1 159.4h0M130.5 132.8h0M152.5 75.8h0M201.2 100.2h0M228.3 86.8h0M128.7 144.1h0M149.1 50.4h0M139.7 112.7h0M128.9 204.7h0M161.1 47.6h0M119.0 130.0h0M131.4 117.8h0M150.3 103.1h0M186.2 53.4h0M136.2 114.3h0M124.2 189.2h0M125.0 177.1h0M130.4 181.4h0M166.7 57.6h0M192.0 79.6h0M212.6 92.9h0M136.0 86.8h0M129.7 57.2h0M143.7 157.3h0M119.2 101.1h0M113.2 196.0h0M122.9 94.6h0M128.7 160.2h0M132.3 68.6h0M134.3 68.2h0M154.5 127.7h0M172.2 80.0h0M126.6 167.2h0M115.6 173.1h0M117.9 184.3h0M199.6 107.4h0M199.6 74.5h0M160.1 69.4h0M153.1 119.5h0M209.1 59.8h0M186.2 76.6h0M178.1 49.8h0M151.5 47.2h0M117.6 126.6h0M151.7 97.6h0M127.2 118.7h0M227.6 96.4h0M155.9 101.0h0M196.0 152.5h0M172.7 65.7h0M115.0 133.6h0M124.5 146.3h0"/>
<path class="o" d="M112.0 105.3h0M88.7 76.1h0M129.6 93.8h0M143.8 107.0h0M99.1 120.9h0M138.0 64.8h0M131.5 56.4h0M155.9 114.8h0M100.6 159.4h0M109.0 115.4h0M141.2 76.4h0M108.8 39.1h0M120.3 93.3h0M118.7 41.4h0M118.5 76.6h0M103.3 61.7h0M142.3 66.1h0M172.0 153.0h0M145.4 99.1h0M91.3 134.7h0M112.6 87.8h0M103.5 155.8h0M84.2 150.6h0M160.4 123.8h0M120.2 80.3h0M121.9 59.9h0M121.1 101.0h0M154.9 102.8h0M98.9 53.0h0M101.4 114.4h0M150.7 83.1h0M108.3 43.4h0M137.7 126.1h0M145.7 94.0h0M101.3 61.8h0M110.5 63.8h0M115.0 52.7h0M105.4 61.6h0M116.0 53.5h0M147.4 121.6h0M145.6 92.6h0M97.8 66.9h0M130.0 83.3h0M126.7 142.3h0M131.3 48.5h0M120.1 55.7h0M136.3 120.0h0M178.6 95.0h0M110.4 144.0h0M119.7 125.9h0M133.1 129.3h0M90.0 81.0h0M97.7 75.4h0M159.1 91.1h0M86.7 70.5h0M134.3 110.9h0M202.4 129.0h0M115.5 66.7h0M140.6 158.3h0M124.3 93.7h0M101.1 100.1h0M109.5 97.7h0M97.8 84.2h0M111.5 54.1h0M119.7 71.7h0M186.1 116.5h0M131.0 42.9h0M118.5 95.4h0M103.7 116.1h0M127.3 41.1h0M163.5 115.6h0M114.9 82.2h0M111.7 54.2h0M85.2 53.7h0M147.6 89.1h0M146.6 110.8h0M135.7 86.7h0M86.5 64.4h0M119.4 86.5h0M197.1 109.1h0M104.8 32.5h0M83.9 48.0h0M122.0 83.6h0M100.5 84.2h0M85.3 156.8h0M104.2 70.2h0M173.0 108.1h0M122.5 47.3h0M113.8 156.3h0M124.0 73.9h0M171.1 117.0h0M109.0 111.1h0M181.3 94.5h0M100.0 69.2h0M108.8 97.7h0M139.2 88.6h0M144.3 112.7h0M116.6 40.3h0M128.6 123.9h0M124.5 136.4h0M178.1 117.2h0M125.5 66.1h0M132.6 83.8h0M100.2 34.0h0M132.9 55.9h0M183.2 102.3h0M152.2 68.0h0M91.4 137.3h0M104.1 162.3h0M133.3 110.4h0M106.5 75.4h0M153.2 70.1h0M134.6 109.3h0M131.0 131.7h0M142.8 68.6h0M114.4 39.3h0M132.4 81.4h0M82.2 57.5h0M111.2 45.8h0M138.6 158.5h0M144.8 101.8h0M111.0 69.3h0M148.0 159.0h0M130.7 105.5h0M112.7 133.7h0M108.2 63.8h0M151.1 96.2h0M92.3 135.7h0M144.7 155.3h0M146.2 114.1h0M81.7 56.3h0M104.4 116.2h0M140.1 104.5h0M116.9 93.1h0M84.7 35.8h0M88.4 69.2h0M102.2 71.3h0M104.2 111.6h0M106.4 128.8h0M197.4 126.7h0M131.2 107.5h0M119.8 141.1h0M134.0 89.0h0M147.0 71.6h0M92.6 146.2h0M133.3 50.5h0M130.5 177.8h0M88.4 39.5h0M127.6 140.1h0M147.0 114.3h0M148.7 134.4h0M173.4 120.2h0M129.1 123.3h0M141.8 111.5h0M122.2 38.3h0M143.5 72.4h0M108.6 155.7h0M120.0 111.1h0M121.5 45.2h0M130.2 46.7h0M99.8 66.9h0M136.1 87.5h0M121.5 121.4h0M152.6 69.0h0M150.5 149.8h0M144.4 81.2h0M115.2 26.5h0M114.9 127.6h0M117.0 74.8h0M190.9 106.1h0M168.5 91.9h0M129.1 88.6h0M200.9 127.1h0M101.2 86.6h0M163.2 96.1h0M143.4 132.3h0M144.7 114.6h0M136.2 113.2h0M110.8 102.9h0M128.7 70.8h0M110.4 103.1h0M122.4 123.0h0M136.6 139.5h0M126.4 98.1h0M148.2 59.7h0M96.9 63.4h0M119.5 99.0h0M131.9 62.6h0M82.3 50.0h0M103.1 55.7h0M85.0 154.1h0M132.5 91.2h0M201.8 129.1h0M113.1 34.1h0M115.1 127.2h0M186.1 115.5h0M186.7 119.5h0M114.4 92.5h0M121.7 63.2h0M96.2 152.5h0M127.6 135.2h0M121.6 169.3h0M140.8 139.3h0M113.6 62.7h0M145.0 90.1h0M109.3 46.8h0M144.9 134.1h0M132.5 88.7h0M128.0 104.2h0M153.2 99.3h0M196.5 109.1h0M193.1 118.9h0M162.4 113.1h0M114.4 36.8h0M118.9 159.7h0M149.1 83.5h0M113.6 128.8h0M155.5 72.2h0M91.9 65.1h0M128.6 47.2h0M142.2 95.2h0M108.1 108.5h0M155.9 124.6h0M102.5 66.1h0M110.4 48.4h0M117.0 52.7h0M138.0 89.5h0M127.0 109.3h0M98.5 53.7h0M124.4 85.4h0M132.0 61.6h0M139.9 100.1h0M114.4 45.8h0M209.9 126.9h0M131.1 72.7h0M191.5 117.8h0M133.5 93.0h0M82.4 46.8h0M118.9 87.9h0M156.2 89.9h0M137.2 90.8h0M134.1 75.0h0M171.8 120.0h0M142.0 138.9h0M106.4 77.1h0M129.8 67.9h0M144.8 71.1h0M137.2 110.0h0M144.2 161.5h0M99.4 54.8h0M130.6 106.7h0M112.9 102.5h0M125.9 83.1h0M136.0 172.9h0M127.6 135.5h0M80.2 68.1h0M111.5 117.3h0M101.6 123.4h0M113.3 129.5h0M106.8 44.0h0M100.3 86.5h0M94.1 60.2h0M84.6 159.9h0M125.5 113.3h0M98.6 80.8h0M160.8 97.1h0M108.1 82.7h0M85.1 58.3h0M144.7 109.7h0M127.2 76.5h0M128.4 47.5h0M117.0 125.3h0M143.3 113.4h0M118.9 97.8h0M199.5 118.1h0M126.0 145.2h0M160.9 84.7h0M121.5 123.7h0M125.4 98.6h0M119.1 103.8h0M125.8 56.9h0M133.6 84.7h0M145.7 119.3h0M94.3 143.1h0M103.9 79.3h0M134.8 71.3h0M122.3 131.2h0M185.5 94.4h0M121.0 76.9h0M122.8 94.4h0M143.6 100.0h0M103.9 34.6h0M143.3 113.3h0M101.3 57.3h0"/>
<path class="b" d="M196.3 76.9h0M168.7 54.4h0M156.1 53.1h0M195.2 110.7h0M185.0 77.4h0M138.7 155.9h0M135.4 97.9h0M143.0 52.2h0M183.7 95.6h0M177.7 51.3h0M139.7 122.8h0M130.0 138.8h0M168.7 74.0h0M150.7 127.5h0M121.5 167.6h0M140.2 184.3h0M141.5 143.5h0M126.2 187.6h0M104.9 168.0h0M126.5 178.1h0M129.5 92.0h0M140.5 132.6h0M132.9 166.3h0M130.9 142.7h0M174.1 46.9h0M172.2 81.6h0M129.6 171.4h0M150.1 127.1h0M123.1 132.8h0M187.3 100.3h0M124.4 173.1h0M120.5 125.3h0M152.2 56.0h0M131.0 62.2h0M181.8 72.8h0M209.8 72.6h0M119.2 118.6h0M140.4 158.6h0M188.3 81.7h0M126.5 149.5h0M150.1 63.5h0M170.4 67.8h0M150.4 77.7h0M121.8 190.0h0M187.5 64.9h0M164.6 104.9h0M229.4 90.9h0M205.0 69.9h0M155.1 38.4h0M128.8 169.0h0M116.3 181.6h0M159.6 66.0h0M139.2 134.6h0M137.7 124.2h0M173.6 69.4h0M167.3 73.3h0M156.4 46.3h0M117.9 148.5h0M141.2 151.6h0M136.7 162.5h0M193.5 61.5h0M119.1 134.8h0M124.9 170.2h0M144.2 62.3h0M198.7 114.9h0M158.2 144.3h0M123.2 173.8h0M124.9 79.2h0M205.4 86.2h0M171.6 87.5h0M140.5 46.4h0M211.6 111.5h0M179.9 80.1h0M137.2 184.7h0M145.4 46.6h0M146.7 54.2h0M198.9 83.5h0M131.7 94.4h0M211.5 110.6h0M156.0 48.6h0M116.5 98.7h0M141.0 123.2h0M194.7 62.5h0M160.3 59.7h0M140.3 110.2h0M130.4 183.8h0M217.4 78.5h0M130.8 166.9h0M123.7 202.7h0M117.3 181.7h0M118.0 150.8h0M192.9 103.4h0M156.5 42.3h0M173.3 103.5h0M199.9 61.6h0M109.7 197.9h0M140.9 133.9h0M174.1 88.0h0M165.3 105.3h0M134.6 126.2h0M132.8 146.3h0M170.2 47.6h0M159.1 98.0h0M174.5 62.3h0M180.7 48.8h0M127.5 136.0h0M119.3 193.9h0M145.5 61.7h0M111.8 148.4h0M205.4 114.3h0M181.3 98.2h0M170.9 71.8h0M184.8 63.9h0M182.6 45.2h0M123.2 172.4h0M192.5 82.5h0M169.9 91.9h0M123.4 179.2h0M165.1 47.5h0M192.6 72.5h0M113.4 159.2h0M172.3 68.6h0M133.6 89.2h0M132.5 114.3h0M171.1 69.8h0M170.1 101.2h0M154.3 60.6h0M163.6 110.9h0M147.8 45.0h0M132.6 61.7h0M181.0 106.5h0M179.5 111.3h0M192.0 63.6h0M193.8 70.6h0M177.2 78.1h0M188.6 79.1h0M124.7 203.8h0M185.0 94.8h0M113.5 186.7h0M178.3 118.6h0M186.6 95.1h0M142.0 95.8h0M218.8 90.3h0M211.5 87.9h0M196.6 63.1h0M191.2 54.1h0M117.1 102.7h0M139.8 115.4h0M138.0 166.0h0M133.4 62.0h0M153.7 84.6h0M130.5 155.6h0M162.9 80.1h0M159.4 71.5h0M146.8 133.6h0M195.3 74.9h0M163.6 62.4h0M145.4 71.5h0M141.1 57.2h0M182.6 96.7h0M124.7 88.5h0M166.6 75.4h0M117.0 152.3h0M145.7 51.7h0M182.1 92.1h0M114.2 153.7h0M224.1 94.4h0M123.0 109.5h0M149.0 126.5h0M142.4 178.6h0M154.6 53.0h0M144.1 150.9h0M131.7 151.7h0M179.6 47.9h0M139.5 129.7h0M198.0 70.4h0M143.7 54.7h0M220.6 109.6h0M190.7 74.6h0M127.7 164.2h0M141.7 75.8h0M120.8 186.9h0M130.5 163.3h0M209.0 93.7h0M157.7 104.1h0M155.9 65.9h0M189.1 77.2h0M121.3 186.7h0M129.8 197.6h0M167.2 84.8h0M118.5 140.0h0M198.7 65.9h0M113.5 188.4h0M144.9 149.3h0M131.2 199.9h0M160.7 98.0h0M161.1 73.4h0M122.2 188.1h0M112.5 176.6h0M175.8 62.3h0M199.9 67.6h0M126.8 181.7h0M138.6 70.4h0M160.5 54.6h0M136.8 178.6h0M163.8 100.4h0M146.9 91.5h0M157.6 62.4h0M161.9 101.3h0M130.6 147.8h0M167.9 57.3h0M129.1 103.1h0M201.5 78.5h0M111.3 195.6h0M116.7 182.6h0M133.7 103.6h0M135.7 107.1h0M220.2 92.9h0M126.0 154.0h0M188.2 90.9h0M140.8 82.9h0M201.4 83.2h0M136.3 53.2h0M179.9 58.4h0M129.9 197.5h0M137.0 116.5h0M196.4 73.6h0M125.9 153.7h0M202.6 118.0h0M130.6 185.3h0M146.7 50.2h0M144.5 52.7h0M147.5 111.1h0M146.9 59.6h0M158.3 56.1h0M120.4 98.0h0M205.4 90.9h0M103.9 183.2h0M210.0 74.3h0M211.0 102.8h0M134.5 176.5h0M154.4 65.2h0M177.6 44.2h0M146.8 103.2h0M144.3 119.9h0M126.6 153.8h0M132.9 184.4h0M136.7 164.9h0M139.3 152.1h0M124.0 154.1h0M125.0 82.6h0M144.0 130.0h0M187.6 87.3h0M126.0 132.7h0M191.4 73.2h0M145.6 59.3h0M167.1 70.3h0M149.7 68.2h0M112.4 168.4h0M140.2 84.6h0M163.2 58.7h0M180.4 110.0h0M135.3 51.5h0M174.4 86.9h0M111.1 165.0h0M133.8 121.9h0M204.7 67.2h0M179.6 77.8h0M134.7 60.1h0M196.8 101.2h0M137.6 147.7h0M192.0 78.8h0M163.5 57.9h0M155.9 105.2h0M196.2 98.8h0M192.6 93.4h0M189.0 101.5h0M141.4 179.5h0M141.0 45.6h0M127.5 126.8h0M119.5 145.0h0M176.9 78.1h0M143.6 51.3h0M130.2 139.1h0M172.5 59.3h0M120.3 115.3h0M128.9 150.5h0M196.1 84.8h0M160.6 49.2h0M124.2 121.7h0M197.4 97.5h0M122.1 90.3h0M157.9 94.6h0M133.3 115.2h0M130.7 156.4h0M183.8 68.5h0M206.6 78.3h0M147.9 77.7h0M127.2 113.8h0M190.5 107.7h0M186.4 112.8h0M136.0 109.6h0M163.2 59.7h0M226.0 90.8h0M140.1 94.8h0M163.5 106.4h0M134.2 166.5h0M188.2 72.2h0M137.1 52.1h0M130.8 210.6h0M158.8 79.0h0M176.2 77.1h0M200.1 92.7h0M140.5 167.4h0M211.9 73.4h0M213.3 82.7h0M182.0 89.3h0M105.0 168.4h0M132.4 72.5h0M201.3 108.6h0"/>
<path class="o" d="M127.9 86.0h0M104.3 162.8h0M124.6 85.0h0M89.9 142.7h0M96.5 59.3h0M174.0 106.2h0M139.1 109.8h0M110.4 50.3h0M125.9 144.6h0M195.7 112.5h0M112.9 36.5h0M128.5 78.3h0M184.3 96.8h0M96.9 50.7h0M165.4 85.3h0M115.6 162.3h0M106.2 93.5h0M134.4 76.9h0M118.1 54.0h0M149.3 134.9h0M187.8 126.4h0M135.5 127.1h0M145.1 127.6h0M113.0 86.7h0M137.7 123.1h0M118.4 122.7h0M95.6 143.2h0M156.9 116.2h0M109.2 65.6h0M158.6 86.3h0M133.0 88.5h0M196.2 110.9h0M113.2 88.3h0M124.6 133.4h0M131.0 84.1h0M99.1 156.5h0M138.9 147.5h0M126.5 37.5h0M169.4 92.3h0M84.3 141.9h0M105.8 101.8h0M119.9 44.0h0M129.3 101.8h0M123.8 62.0h0M130.1 56.3h0M138.5 112.5h0M107.7 69.6h0M87.5 140.2h0M114.6 124.8h0M112.3 49.9h0M105.0 37.8h0M168.6 96.8h0M80.8 150.8h0M141.9 69.9h0M137.4 67.2h0M149.2 86.7h0M104.0 46.0h0M147.2 138.4h0M121.3 52.6h0M116.8 99.8h0M171.7 89.5h0M105.9 68.1h0M142.5 178.0h0M158.8 113.4h0M113.8 70.8h0M131.9 57.4h0M125.0 125.5h0M92.3 74.7h0M125.7 162.2h0M111.9 53.2h0M182.0 104.2h0M184.5 124.4h0M120.5 114.9h0M108.3 37.9h0M110.2 75.9h0M129.7 72.9h0M112.8 69.8h0M195.8 129.8h0M196.3 123.6h0M93.6 143.0h0M110.4 67.3h0M174.3 120.2h0M123.9 57.2h0M159.9 104.0h0M108.6 46.4h0M197.7 133.3h0M105.0 135.1h0M199.0 113.7h0M106.1 44.7h0M82.5 52.3h0M159.0 82.7h0M110.9 31.7h0M123.9 40.5h0M88.6 81.9h0M112.4 42.4h0M139.4 155.6h0M81.8 154.6h0M157.6 75.1h0M115.5 125.8h0M117.2 45.4h0M138.6 157.3h0M144.3 86.5h0M140.1 100.1h0M119.1 69.4h0M103.4 46.4h0M132.8 135.4h0M106.0 46.9h0M117.3 38.4h0M103.6 30.8h0M122.1 98.5h0M133.8 103.6h0M147.0 114.3h0M86.7 59.5h0M150.4 115.1h0M197.9 127.8h0M158.4 104.4h0M106.2 97.2h0M137.6 57.5h0M109.9 44.8h0M132.4 69.4h0M160.9 114.6h0M166.8 94.7h0M112.5 80.9h0M143.8 106.6h0M121.8 62.7h0M198.4 124.1h0M141.4 147.5h0M146.9 67.2h0M134.2 115.2h0M124.3 100.5h0M141.3 151.5h0M88.0 67.0h0M95.3 69.8h0M198.1 118.4h0M105.3 102.7h0M113.4 53.5h0M224.9 130.9h0M118.8 42.3h0M113.2 45.5h0M133.9 61.1h0M124.1 52.4h0M137.7 58.8h0M105.8 150.2h0M147.2 86.4h0M156.0 80.2h0M107.0 59.0h0M137.4 101.7h0M139.5 130.4h0M119.1 158.3h0M133.0 58.9h0M110.9 121.5h0M158.5 86.0h0M137.6 132.8h0M158.1 78.3h0M134.3 66.3h0M114.3 52.0h0M111.8 35.6h0M182.4 119.3h0M103.0 72.7h0M130.1 111.5h0M163.6 92.8h0M123.5 63.7h0M123.4 135.5h0M86.2 66.4h0M110.9 43.2h0M184.5 111.9h0M112.3 100.1h0M198.0 113.0h0M84.8 151.0h0M171.0 93.3h0M184.6 122.9h0M116.2 60.7h0M128.1 47.0h0M134.5 170.3h0M120.3 155.0h0M94.3 151.2h0M101.8 49.0h0M126.9 96.0h0M142.7 151.8h0M92.7 160.5h0M87.7 142.7h0M149.2 87.0h0M123.6 139.9h0M108.3 31.9h0M161.8 100.6h0M97.0 81.8h0M159.2 119.2h0M131.9 99.8h0M173.3 116.6h0M89.7 67.8h0M129.4 87.2h0M133.9 87.6h0M124.8 84.2h0M187.0 123.1h0M156.0 116.2h0M114.6 101.4h0M103.5 88.4h0M181.7 118.2h0M131.7 92.8h0M147.5 75.9h0M129.6 58.5h0M89.9 85.3h0M138.9 150.3h0M141.6 128.5h0M154.9 82.5h0M106.0 63.2h0M115.2 51.8h0M124.1 45.9h0M134.9 78.1h0M104.0 88.3h0M137.3 59.4h0M137.7 74.7h0M153.7 88.3h0M132.9 78.8h0M184.4 120.6h0M231.1 129.5h0M115.3 101.6h0M116.8 38.9h0M111.8 113.6h0M111.9 41.8h0M182.9 113.3h0M151.1 78.5h0M193.1 124.3h0M145.7 103.9h0M170.4 84.6h0M168.7 99.0h0M115.2 75.8h0M148.2 114.4h0M80.6 78.9h0M113.8 112.6h0M186.2 110.5h0M169.3 100.0h0M128.5 56.5h0M143.6 139.8h0M157.7 91.9h0M176.1 105.9h0M129.0 83.0h0M103.6 54.4h0M110.8 78.6h0M106.4 56.7h0M132.9 130.5h0M132.5 120.9h0M129.2 90.5h0M132.4 85.6h0M132.7 55.9h0M116.4 92.3h0M95.7 69.7h0M162.2 111.0h0M147.2 129.4h0M192.4 120.9h0M97.7 163.6h0M186.2 103.2h0M178.6 116.2h0M129.5 95.2h0M84.1 160.7h0M158.2 93.7h0M193.8 111.8h0M129.8 145.4h0M112.6 59.8h0M120.5 115.1h0M138.3 155.1h0M84.0 86.5h0M210.7 115.1h0M102.5 127.0h0M105.3 73.6h0M109.8 38.9h0M143.2 119.0h0M156.3 120.5h0M112.7 71.3h0M104.3 62.0h0M148.3 101.3h0M175.1 102.2h0"/>
<path class="b" d="M143.5 68.0h0M154.6 148.1h0M143.6 151.8h0M217.2 107.6h0M203.3 74.8h0M187.0 105.7h0M128.2 50.1h0M201.4 95.8h0M124.8 111.7h0M128.7 137.3h0M131.9 82.3h0M194.6 75.4h0M216.9 87.6h0M126.8 192.9h0M164.1 64.0h0M150.8 133.6h0M211.4 99.6h0M169.3 71.4h0M194.0 57.4h0M152.3 37.3h0M162.8 91.8h0M185.2 112.3h0M165.3 64.6h0M190.0 84.6h0M130.8 167.5h0M143.9 157.7h0M187.0 85.6h0M127.2 158.7h0M127.2 129.1h0M157.7 70.1h0M126.9 136.0h0M170.2 54.9h0M221.1 80.1h0M138.7 139.3h0M151.4 72.3h0M140.4 120.4h0M169.2 55.2h0M146.1 50.1h0M173.4 59.7h0M133.7 92.5h0M171.0 67.4h0M196.0 72.8h0M146.1 52.0h0M160.8 70.6h0M122.2 117.2h0M133.5 178.5h0M150.5 79.2h0M201.3 118.7h0M200.7 72.2h0M183.8 89.5h0M185.6 107.1h0M164.1 93.7h0M136.3 49.0h0M174.9 44.0h0M105.0 67.5h0M197.8 59.8h0M158.0 66.1h0M136.6 173.8h0M132.7 164.6h0M141.6 141.3h0M152.2 125.7h0M213.3 68.2h0M168.3 44.9h0M179.1 45.5h0M177.3 90.9h0M151.1 57.2h0M127.1 117.1h0M145.7 140.1h0M174.1 92.8h0M127.2 116.7h0M126.2 191.0h0M114.2 168.7h0M120.9 158.6h0M177.7 43.7h0M193.5 38.7h0M127.7 155.7h0M111.5 172.9h0M196.2 62.8h0M176.9 76.0h0M197.4 112.6h0M138.8 79.3h0M126.5 153.1h0M159.0 59.0h0M128.6 128.2h0M135.1 153.4h0M175.1 53.5h0M118.3 176.2h0M155.4 51.3h0M168.5 68.5h0M118.9 193.1h0M128.0 152.2h0M182.2 53.0h0M169.9 40.5h0M139.7 119.3h0M130.6 192.2h0M128.3 172.2h0M200.5 81.2h0M151.2 95.9h0M173.9 72.3h0M101.2 188.7h0M190.0 95.9h0M195.1 94.2h0M150.5 61.0h0M171.9 56.3h0M160.4 91.9h0M199.0 76.8h0M179.2 47.4h0M132.4 75.4h0M144.4 103.7h0M180.6 66.3h0M135.8 141.9h0M113.0 154.4h0M152.6 89.0h0M182.7 99.2h0M115.5 193.4h0M183.6 107.8h0M147.7 128.9h0M183.7 53.2h0M132.3 169.5h0M160.0 57.6h0M124.6 204.5h0M169.7 127.3h0M130.1 52.0h0M126.0 187.0h0M164.3 42.6h0M190.3 61.7h0M179.3 62.7h0M196.9 89.4h0M145.3 158.9h0M118.8 107.6h0M164.8 43.0h0M111.9 196.0h0M200.0 71.7h0M170.7 56.5h0M102.4 178.5h0M174.9 54.0h0M128.3 59.0h0M164.4 43.7h0M179.6 68.7h0M147.1 48.4h0M119.6 150.3h0M134.2 159.9h0M189.8 57.8h0M144.6 132.2h0M195.1 111.6h0M135.4 91.5h0M133.1 76.5h0M120.3 148.8h0M129.5 157.2h0M198.4 97.4h0M186.2 72.9h0M153.8 63.5h0M140.5 159.1h0M141.2 56.1h0M213.9 74.2h0M181.0 60.8h0M183.6 76.5h0M114.5 174.1h0M151.1 136.9h0M146.3 113.3h0M165.2 60.8h0M172.7 40.6h0M222.6 107.2h0M172.6 46.1h0M187.7 65.4h0M178.4 71.6h0M198.3 86.9h0M184.0 82.1h0M188.5 56.1h0M121.1 161.6h0M178.9 78.2h0M137.9 62.8h0M147.7 57.9h0M148.8 48.0h0M154.8 93.0h0M142.6 146.9h0M161.0 54.8h0M191.5 87.8h0M184.8 85.0h0M184.9 68.4h0M180.2 64.3h0M196.3 95.1h0M133.6 168.9h0M137.3 56.6h0M98.8 181.4h0M165.3 38.8h0M207.3 82.6h0M170.2 95.2h0M133.6 179.4h0M209.6 63.1h0M114.3 155.8h0M122.3 131.2h0M127.6 118.4h0M130.6 55.1h0M126.7 174.5h0M121.6 169.8h0M173.5 64.5h0M187.9 103.4h0M136.1 134.8h0M214.1 86.9h0M176.5 108.5h0M181.9 53.8h0M128.8 102.4h0M126.3 165.2h0M182.4 58.4h0M132.3 51.9h0M132.5 154.3h0M164.9 40.6h0M179.8 87.0h0M151.1 131.3h0M145.1 56.0h0M119.0 149.6h0M163.8 58.1h0M164.3 66.8h0M158.9 45.1h0M125.6 155.1h0M209.1 83.8h0M154.5 68.2h0M125.2 132.3h0M170.5 132.9h0M144.0 154.4h0M194.3 89.8h0M113.6 164.9h0M146.6 166.2h0M212.3 100.4h0M121.3 100.3h0M112.7 192.4h0M165.0 83.2h0M111.6 172.9h0M143.1 78.9h0M131.6 115.1h0M227.9 89.9h0M117.2 138.1h0M175.1 109.4h0M168.2 44.1h0M115.1 195.0h0M191.9 92.5h0M127.8 135.4h0M154.3 80.6h0M115.5 94.0h0M229.3 102.8h0M173.1 72.9h0M118.7 187.0h0M117.7 154.4h0M165.9 56.2h0M170.0 112.6h0M162.1 70.6h0M155.2 43.7h0M143.9 137.3h0M128.2 130.1h0M128.6 128.1h0M123.2 208.3h0M151.1 49.3h0M124.8 137.6h0M159.6 71.7h0M116.4 156.3h0M126.9 49.1h0M199.6 113.9h0M140.4 117.7h0M133.7 51.5h0M124.4 131.1h0M197.1 70.9h0M164.4 101.7h0M187.7 68.7h0M193.9 100.0h0M123.1 146.2h0M146.1 120.8h0M131.9 106.0h0M155.6 68.2h0M152.3 93.3h0M124.4 97.7h0M165.6 79.6h0M118.4 134.1h0M119.0 157.8h0M144.7 118.3h0M125.3 195.0h0M169.9 92.1h0M117.3 142.0h0M164.6 42.0h0M178.7 58.5h0M136.1 155.3h0M189.4 82.5h0M128.2 152.1h0M154.1 134.8h0M125.8 209.2h0M169.2 77.6h0M163.8 54.9h0M140.3 70.0h0M148.2 84.9h0M176.6 60.7h0M132.8 120.2h0M132.2 54.2h0M178.2 49.0h0M149.5 52.6h0M167.4 79.6h0"/>
<path class="o" d="M119.6 84.6h0M88.0 63.2h0M111.1 40.3h0M115.9 63.4h0M187.4 112.3h0M131.8 118.3h0M138.0 146.4h0M98.1 71.1h0M102.8 66.4h0M133.6 81.7h0M106.5 82.9h0M81.2 147.2h0M157.3 102.7h0M127.5 56.7h0M145.5 105.0h0M96.9 146.6h0M115.6 42.6h0M141.2 57.6h0M179.2 118.5h0M118.5 55.0h0M109.2 64.2h0M150.7 85.0h0M125.2 90.1h0M138.4 135.3h0M167.8 104.2h0M112.2 84.4h0M115.7 50.6h0M108.3 62.4h0M83.2 42.4h0M121.5 173.1h0M120.2 61.5h0M130.0 110.6h0M134.0 79.8h0M158.4 86.9h0M106.4 141.3h0M146.0 94.5h0M106.2 109.8h0M97.4 162.8h0M118.1 80.6h0M185.8 97.0h0M174.0 124.6h0M114.2 95.3h0M160.3 86.5h0M156.6 106.6h0M122.1 90.8h0M189.3 111.8h0M98.1 47.6h0M123.7 76.7h0M99.3 77.4h0M111.7 113.1h0M157.5 121.9h0M139.7 164.4h0M151.4 116.9h0M145.6 155.2h0M86.0 89.2h0M168.8 92.2h0M147.3 101.5h0M102.9 64.9h0M93.3 135.2h0M110.2 30.4h0M155.1 97.0h0M156.7 88.1h0M139.2 108.7h0M113.5 95.3h0M106.2 147.7h0M132.2 53.5h0M143.6 62.4h0M132.3 125.5h0M154.2 105.1h0M192.2 111.8h0M119.5 53.9h0M137.0 89.4h0M118.6 51.8h0M139.8 74.7h0M127.3 72.6h0M105.6 79.7h0M175.2 102.2h0M156.2 117.7h0M109.7 63.3h0M131.5 123.6h0M182.2 105.6h0M116.4 71.1h0M123.6 83.8h0M111.6 98.7h0M157.1 115.9h0M149.4 97.6h0M106.0 50.2h0M161.2 80.5h0M116.8 128.1h0M134.0 134.5h0M130.0 153.2h0M166.4 83.7h0M118.9 59.4h0M111.6 76.7h0M144.2 98.8h0M173.5 119.8h0M142.9 138.1h0M144.4 64.0h0M105.2 33.6h0M120.8 91.5h0M127.4 114.5h0M150.3 92.6h0M137.6 76.6h0M166.8 110.5h0M134.7 66.6h0M160.7 108.4h0M144.8 66.6h0M129.8 79.4h0M201.5 125.8h0M102.7 42.9h0M148.2 148.8h0M127.1 59.7h0M183.9 110.5h0M180.6 100.4h0M132.9 89.5h0M153.3 101.9h0M131.3 91.9h0M96.7 60.6h0M101.9 31.7h0M102.8 80.2h0M176.7 89.1h0M118.5 57.6h0M92.9 55.4h0M80.4 149.7h0M151.4 114.3h0M129.9 80.0h0M126.6 75.4h0M89.9 47.6h0M121.7 62.5h0M106.1 119.2h0M114.5 72.4h0M158.2 111.4h0M131.7 87.8h0M131.2 52.2h0M269.2 183.2h0M138.2 182.5h0M115.6 118.8h0M111.2 148.3h0M127.5 74.7h0M142.3 62.6h0M92.7 63.3h0M110.4 146.1h0M110.3 44.5h0M96.1 42.4h0M144.1 65.1h0M102.3 100.1h0M94.5 80.7h0M101.9 36.8h0M80.1 79.5h0M155.1 99.9h0M91.7 54.5h0M226.7 128.8h0M117.0 58.2h0M198.9 114.6h0M95.8 131.8h0M109.2 36.8h0M115.6 101.5h0M142.3 72.2h0M106.7 34.9h0M120.5 35.9h0M150.8 120.7h0M151.0 147.4h0M94.6 128.3h0M112.3 41.4h0M117.9 72.3h0M100.4 52.8h0M126.4 140.2h0M162.5 115.8h0M121.0 104.0h0M133.4 87.3h0M104.2 156.2h0M147.2 66.5h0M99.3 91.4h0M129.2 124.0h0M81.1 149.4h0M112.7 96.8h0M139.0 67.5h0M117.0 93.7h0M105.6 57.7h0M170.2 111.3h0M155.0 85.6h0M114.3 51.8h0M158.1 128.9h0M150.8 81.9h0M90.4 140.5h0M119.4 107.2h0M112.2 83.4h0M113.1 38.0h0M149.5 73.7h0M135.9 66.7h0M153.7 134.6h0M96.5 66.8h0M111.9 50.9h0M101.3 117.3h0M121.4 113.5h0M170.4 106.3h0M115.1 138.8h0M106.0 48.5h0M118.4 110.0h0M159.8 90.5h0M135.8 89.6h0M109.7 39.9h0M96.9 152.4h0M103.9 79.9h0M111.4 46.5h0M146.5 75.9h0M130.7 98.2h0M131.1 79.1h0M152.8 66.8h0M140.5 126.4h0M198.2 110.5h0M150.4 123.5h0M89.7 74.9h0M193.4 109.8h0M144.1 139.2h0M123.7 159.3h0M98.7 84.0h0M119.9 122.4h0M108.7 49.6h0M165.3 117.1h0M112.6 99.2h0M111.4 75.8h0M130.1 48.4h0M104.0 66.0h0M106.7 157.3h0M155.1 71.3h0M154.8 74.2h0M166.1 109.6h0M113.0 27.7h0M119.6 83.8h0M120.0 85.0h0M118.4 54.1h0M107.2 63.0h0M111.4 78.0h0M155.5 100.4h0M117.3 103.2h0M123.2 84.1h0M88.9 89.1h0M108.2 102.9h0M119.7 97.3h0M149.2 153.3h0M110.0 92.9h0M172.6 98.3h0M106.5 64.5h0M128.4 141.1h0M86.7 142.3h0M112.5 98.3h0M143.8 137.9h0M133.2 71.3h0M139.6 95.0h0M157.5 97.2h0M104.0 84.7h0M88.0 85.6h0M122.3 45.3h0M165.0 111.9h0M156.0 101.5h0M122.6 62.2h0M106.6 67.5h0M109.3 64.9h0M165.4 87.7h0M130.4 129.9h0M121.8 125.5h0M133.1 65.3h0M100.1 82.0h0M179.5 110.4h0M153.2 77.9h0M133.0 186.1h0M90.9 138.8h0M148.2 93.8h0M95.8 46.7h0M107.3 92.2h0M111.1 140.6h0M149.4 100.5h0M144.9 121.3h0M104.4 134.9h0M113.6 86.7h0M158.7 91.9h0M139.0 107.6h0M111.9 71.7h0M81.0 58.8h0M97.4 72.4h0M200.8 135.3h0M95.0 59.7h0M164.1 111.7h0M113.5 124.7h0M115.6 58.7h0M135.3 120.1h0M111.3 33.3h0M199.3 114.6h0M145.2 106.4h0M131.4 116.1h0M113.2 129.3h0M109.0 146.0h0M134.5 59.0h0M195.5 120.3h0M111.6 136.4h0M99.6 89.7h0"/>
<path class="b" d="M127.8 203.0h0M205.1 93.7h0M142.1 122.2h0M204.7 86.4h0M126.9 105.5h0M141.3 78.4h0M129.6 135.8h0M130.4 173.1h0M172.1 49.2h0M144.3 49.0h0M109.3 183.5h0M148.7 62.1h0M152.5 126.4h0M184.3 54.1h0M145.0 50.0h0M113.6 150.0h0M177.6 78.1h0M151.3 78.4h0M134.8 180.3h0M125.4 82.3h0M200.2 60.5h0M188.8 111.2h0M139.0 134.9h0M127.0 195.1h0M182.5 99.4h0M142.7 133.2h0M131.2 178.2h0M199.3 86.0h0M107.6 185.3h0M169.0 67.5h0M162.5 76.6h0M165.8 101.2h0M128.3 91.6h0M210.7 104.8h0M139.4 73.1h0M138.2 181.7h0M172.2 48.6h0M178.4 76.5h0M149.7 120.0h0M153.3 101.0h0M165.2 142.1h0M111.8 188.4h0M147.8 128.3h0M134.8 73.6h0M155.0 71.9h0M202.9 72.6h0M186.7 103.4h0M153.6 84.2h0M114.4 151.8h0M134.1 169.3h0M177.6 79.9h0M149.8 108.0h0M156.8 58.9h0M186.8 48.1h0M154.5 67.6h0M150.9 45.5h0M175.5 109.9h0M163.4 99.3h0M153.3 93.0h0M161.6 88.0h0M140.3 98.6h0M187.5 105.4h0M117.0 201.8h0M119.9 142.4h0M153.5 60.8h0M196.0 116.3h0M198.2 78.8h0M106.9 180.5h0M145.1 45.0h0M159.4 78.1h0M120.9 204.1h0M131.8 74.4h0M147.2 141.7h0M136.0 115.3h0M123.1 103.9h0M110.1 183.5h0M133.7 157.1h0M149.5 130.8h0M128.8 83.7h0M196.1 118.0h0M166.5 66.0h0M125.0 164.8h0M171.2 43.8h0M140.6 134.6h0M145.6 65.8h0M182.7 110.6h0M195.3 93.8h0M121.4 99.1h0M106.7 177.1h0M124.7 103.4h0M126.1 189.5h0M203.9 72.5h0M189.0 65.9h0M191.3 61.7h0M184.5 81.5h0M194.6 101.2h0M194.4 115.7h0M158.7 62.1h0M126.6 133.5h0M142.4 172.2h0M160.2 72.6h0M181.7 77.0h0M182.1 49.6h0M112.7 169.7h0M132.1 192.8h0M170.7 70.0h0M139.1 130.0h0M145.9 115.2h0M163.2 53.6h0M162.3 144.8h0M135.8 96.8h0M185.2 116.0h0M159.4 43.6h0M138.9 160.7h0M179.9 77.1h0M154.6 87.4h0M133.3 91.5h0M199.1 70.1h0M185.5 73.7h0M133.5 107.5h0M144.3 62.4h0M135.1 118.3h0M151.5 65.2h0M160.5 56.5h0M132.4 80.1h0M137.7 112.2h0M132.3 72.8h0M119.1 166.2h0M181.7 44.6h0M141.5 84.3h0M141.3 112.0h0M153.7 39.3h0M116.8 178.8h0M133.2 179.3h0M162.0 50.4h0M159.3 36.7h0M179.4 88.1h0M141.8 51.5h0M140.6 69.4h0M169.5 56.3h0M118.4 138.4h0M147.5 112.0h0M155.7 95.4h0M133.0 60.2h0M156.6 73.4h0M150.0 124.4h0M226.1 106.7h0M173.6 66.7h0M194.3 85.4h0M131.2 197.3h0M141.8 153.4h0M109.3 174.7h0M186.6 77.1h0M130.0 110.0h0M197.0 77.9h0M150.7 128.4h0M133.5 117.1h0M186.6 87.2h0M193.7 87.9h0M169.6 98.1h0M221.9 81.2h0M163.4 48.1h0M171.3 71.3h0M121.5 155.2h0M126.7 131.3h0M187.1 104.1h0M129.2 177.5h0M123.4 138.5h0M144.5 131.1h0M199.8 90.2h0M187.4 59.7h0M195.0 87.1h0M163.4 89.4h0M186.2 104.4h0M144.3 82.7h0M119.6 150.2h0M128.0 160.2h0M178.8 56.1h0M120.9 155.1h0M195.9 98.3h0M144.7 93.6h0M163.7 47.3h0M192.9 83.5h0M179.5 54.3h0M145.7 101.0h0M141.0 178.9h0M137.0 136.5h0M196.2 58.5h0M137.7 158.4h0M124.6 168.3h0M152.6 40.1h0M133.1 130.7h0M167.8 56.1h0M131.6 186.5h0M159.8 44.8h0M135.2 142.7h0M120.9 137.2h0M124.1 130.0h0M146.5 68.9h0M198.4 106.2h0M117.5 108.9h0M131.1 76.8h0M153.0 79.2h0M136.2 172.4h0M113.2 173.4h0M143.6 48.6h0M163.0 67.5h0M216.2 104.8h0M170.1 111.6h0M116.0 178.5h0M191.3 91.9h0M143.2 143.9h0M129.9 77.7h0M126.8 173.8h0M163.3 87.4h0M204.6 56.0h0M170.3 70.5h0M168.1 74.1h0M157.0 156.0h0M199.3 118.4h0M134.4 185.4h0M144.6 133.6h0M152.4 127.7h0M137.1 66.3h0M164.6 66.8h0M145.9 69.8h0M215.5 109.7h0M120.7 192.0h0M121.0 94.3h0M157.0 172.0h0M136.7 170.1h0M166.8 111.3h0M136.4 165.8h0M136.7 60.0h0M126.6 126.3h0M138.7 53.4h0M184.4 71.7h0M175.8 59.4h0M159.0 41.4h0M181.7 55.3h0M180.5 84.7h0M157.7 93.4h0M136.3 145.6h0M136.2 172.6h0M149.3 71.1h0M170.2 66.6h0M187.6 80.6h0M184.4 50.3h0M162.1 65.9h0M198.9 87.2h0M163.8 66.1h0M171.9 66.2h0M172.6 44.8h0M115.4 104.0h0M111.3 190.2h0M222.6 77.8h0M128.4 157.5h0M150.8 130.6h0M173.2 70.7h0M129.7 179.1h0M119.9 191.4h0M125.5 182.6h0M169.0 80.5h0M156.0 78.4h0M128.8 196.3h0M140.1 142.8h0M201.0 81.9h0M209.5 60.4h0M185.6 55.6h0M194.7 115.4h0M176.7 64.7h0M140.4 165.9h0M132.6 51.0h0M128.8 61.9h0M128.0 86.3h0M150.3 140.8h0M191.0 93.0h0M157.0 62.0h0M127.4 141.7h0M122.5 162.0h0M140.3 125.5h0M139.5 176.2h0M127.0 180.6h0M189.4 65.0h0M199.0 72.9h0M178.8 71.0h0M218.9 83.6h0M134.3 149.8h0M173.3 59.4h0M124.3 83.0h0M144.3 128.1h0M180.1 43.6h0M118.2 151.8h0M178.8 97.8h0M149.3 80.7h0M203.2 102.8h0M125.3 143.9h0M153.2 117.7h0M129.7 181.6h0M131.9 195.8h0M223.3 97.8h0M210.2 76.1h0M139.7 131.0h0M199.6 114.2h0M191.3 70.3h0M192.4 77.0h0M206.9 107.6h0M133.4 156.1h0M158.6 48.9h0M181.0 44.3h0M189.2 108.3h0M194.2 86.6h0M192.5 83.2h0M133.5 129.1h0M201.1 79.0h0M198.9 52.3h0M188.2 89.1h0M150.8 99.4h0"/>
<path class="o" d="M115.7 34.1h0M126.4 71.4h0M157.5 91.2h0M159.2 96.4h0M151.8 87.3h0M124.5 90.9h0M176.7 103.0h0M179.7 124.5h0M118.1 89.4h0M109.3 70.7h0M121.6 83.1h0M194.0 125.2h0M87.0 85.7h0M110.5 33.5h0M114.6 35.1h0M114.4 46.2h0M77.2 61.8h0M107.6 26.6h0M101.9 60.1h0M117.6 75.9h0M98.2 73.6h0M126.7 76.2h0M149.4 150.9h0M189.3 121.6h0M113.5 131.1h0M144.3 111.4h0M161.1 120.9h0M88.1 39.9h0M174.4 87.0h0M82.4 140.4h0M129.3 122.7h0M124.7 105.9h0M114.9 114.2h0M101.8 42.0h0M197.6 124.8h0M99.3 76.8h0M104.6 39.9h0M146.0 85.7h0M94.2 77.4h0M140.4 104.6h0M102.3 77.0h0M124.2 40.3h0M155.3 115.5h0M123.6 57.4h0M132.5 110.1h0M144.8 153.5h0M109.0 129.0h0M118.4 55.7h0M104.8 81.3h0M106.2 66.1h0M191.0 108.2h0M156.7 104.9h0M138.0 82.5h0M142.1 69.5h0M138.7 138.6h0M200.3 130.1h0M129.4 93.8h0M146.1 123.9h0M110.5 62.0h0M104.4 96.5h0M109.5 49.3h0M196.5 117.3h0M135.9 55.4h0M128.7 60.7h0M140.3 160.3h0M108.6 83.9h0M150.9 99.8h0M161.2 117.3h0M118.2 61.2h0M105.3 60.3h0M110.8 30.3h0M191.8 129.1h0M153.5 102.6h0M110.3 140.3h0M167.1 87.6h0M126.4 73.2h0M161.5 95.5h0M128.6 92.7h0M102.6 67.7h0M141.7 113.5h0M120.1 67.0h0M129.5 106.3h0M104.6 27.5h0M125.3 155.9h0M103.3 32.4h0M143.0 63.6h0M132.2 53.5h0M106.5 87.1h0M99.4 154.8h0M192.7 109.8h0M151.7 119.7h0M111.6 30.1h0M156.8 91.6h0M162.5 104.4h0M160.5 108.9h0M203.5 123.5h0M101.6 63.8h0M166.4 85.8h0M132.3 57.5h0M90.1 72.1h0M99.7 137.8h0M208.6 119.4h0M141.2 141.3h0M114.7 85.7h0M156.0 117.3h0M130.7 136.8h0M117.5 80.7h0M123.7 55.2h0M98.9 48.8h0M112.1 121.7h0M108.2 138.4h0M168.8 88.6h0M128.0 112.2h0M146.2 67.6h0M149.4 136.5h0M115.8 176.9h0M151.3 87.7h0M120.9 81.8h0M183.8 106.4h0M98.6 127.3h0M143.2 58.6h0M124.0 95.9h0M107.0 107.7h0M109.9 89.4h0M182.9 101.9h0M124.1 158.3h0M109.6 76.0h0M135.3 66.0h0M107.6 149.5h0M103.4 64.7h0M147.7 70.9h0M104.3 34.8h0M97.4 150.6h0M121.6 88.5h0M172.2 123.2h0M174.5 114.7h0M110.5 90.4h0M124.8 80.6h0M108.6 115.2h0M147.5 115.2h0M145.5 103.8h0M151.5 139.9h0M149.7 132.4h0M149.8 118.1h0M150.7 137.0h0M107.4 50.4h0M134.1 108.4h0M115.2 96.8h0M130.8 71.5h0M144.3 143.4h0M136.8 115.8h0M271.3 174.9h0M185.1 128.5h0M145.8 181.8h0M139.6 164.2h0M100.3 85.0h0M117.6 77.0h0M100.5 76.1h0M130.1 71.6h0M165.4 86.1h0M124.0 73.5h0M129.8 115.0h0M271.9 172.3h0M173.1 99.7h0M81.6 61.2h0M103.6 56.6h0M129.5 66.0h0M113.2 101.6h0M112.1 83.1h0M112.1 45.0h0M145.6 106.8h0M104.9 127.9h0M117.5 44.5h0M140.9 140.9h0M123.5 50.1h0M111.2 107.6h0M163.9 89.4h0M121.1 50.5h0M228.9 124.2h0M184.6 112.2h0M109.8 47.7h0M107.3 74.3h0M161.0 93.4h0M110.3 27.4h0M147.2 60.9h0M149.1 109.9h0M154.8 90.0h0M146.3 96.3h0M169.0 92.1h0M131.8 96.5h0M115.5 96.4h0M117.8 111.6h0M179.0 120.4h0M124.0 83.1h0M105.3 41.8h0M113.6 83.9h0M155.8 89.9h0M103.8 70.3h0M125.5 60.4h0M117.8 32.4h0M116.9 93.6h0M120.2 74.0h0M123.9 175.0h0M128.3 127.4h0M112.4 137.9h0M101.9 160.3h0M149.2 76.9h0M95.0 78.9h0M111.6 47.2h0M128.5 45.1h0M139.8 82.1h0M210.1 121.9h0M152.8 80.8h0M146.8 111.6h0M174.6 110.6h0M93.3 82.9h0M82.2 61.2h0M135.7 114.6h0M116.4 82.6h0M103.9 64.4h0M83.9 58.8h0M119.0 61.5h0M182.4 102.2h0M153.7 100.4h0M102.0 87.0h0M198.0 134.9h0M181.9 124.6h0M113.0 38.7h0M195.4 127.2h0M112.4 69.0h0M90.4 160.8h0M113.3 123.1h0M171.3 94.1h0M119.5 80.3h0M123.0 48.4h0M141.9 145.0h0M137.6 107.9h0M144.5 105.3h0M117.5 48.6h0M122.7 99.0h0M169.9 97.9h0M111.9 72.6h0M123.8 51.3h0M120.8 111.3h0M120.1 61.8h0M173.0 87.5h0M106.9 106.0h0M134.4 68.7h0M198.6 113.0h0M193.2 103.3h0M154.9 73.0h0M135.1 106.7h0M137.0 73.7h0M138.6 168.9h0M116.3 94.6h0M155.4 92.9h0M100.0 60.5h0M151.3 74.6h0M104.6 72.4h0M193.3 108.0h0M148.2 84.7h0M108.7 40.0h0M105.5 49.4h0M114.8 85.7h0M117.0 38.7h0M269.5 182.0h0M105.6 72.4h0M151.7 77.2h0M100.3 95.5h0M104.3 66.6h0M147.5 65.1h0M105.6 45.9h0M90.7 65.6h0M75.9 58.2h0"/>
<path class="b" d="M109.8 186.4h0M127.7 87.8h0M180.5 53.5h0M183.6 90.9h0M168.7 42.9h0M115.7 181.0h0M188.0 61.5h0M117.9 103.9h0M191.5 74.9h0M143.0 145.4h0M151.5 122.4h0M120.1 129.8h0M119.0 111.6h0M121.9 173.8h0M191.5 67.1h0M135.3 122.8h0M172.6 43.7h0M199.3 63.2h0M201.5 69.1h0M137.6 76.4h0M157.4 87.6h0M122.3 170.0h0M144.8 165.7h0M148.1 96.7h0M124.0 119.8h0M158.6 51.9h0M137.1 127.8h0M101.5 171.5h0M178.5 68.9h0M145.8 84.7h0M137.9 77.7h0M145.5 122.6h0M128.5 187.6h0M227.1 88.2h0M135.1 114.0h0M168.3 99.9h0M158.4 78.0h0M131.4 139.7h0M164.4 140.1h0M174.9 73.4h0M137.5 54.2h0M117.3 90.3h0M156.1 60.3h0M128.3 209.4h0M126.2 98.2h0M159.9 72.5h0M158.5 64.7h0M165.3 81.0h0M132.8 192.6h0M208.4 60.1h0M179.6 78.5h0M175.0 83.5h0M206.7 90.7h0M130.7 56.4h0M146.1 51.7h0M129.8 157.8h0M200.8 117.1h0M188.5 108.4h0M211.5 113.9h0M136.5 133.5h0M194.6 71.5h0M182.0 48.2h0M125.2 206.7h0M164.1 82.7h0M129.0 205.3h0M136.8 138.6h0M159.9 53.5h0M131.4 119.4h0M162.1 85.9h0M183.3 73.0h0M220.0 78.0h0M139.1 148.9h0M111.9 186.7h0M127.5 115.0h0M236.0 87.5h0M108.4 196.0h0M159.8 85.9h0M153.0 100.9h0M197.2 96.3h0M123.5 199.5h0M199.4 118.0h0M145.3 49.2h0M114.6 180.8h0M116.7 140.8h0M135.0 108.1h0M152.5 65.5h0M154.6 82.3h0M122.9 175.8h0M139.9 173.7h0M152.6 117.6h0M115.6 194.7h0M158.7 55.5h0M229.5 96.6h0M125.8 170.8h0M125.8 118.8h0M148.1 69.6h0M179.9 53.2h0M164.0 103.8h0M145.2 163.6h0M166.2 71.8h0M179.6 73.9h0M187.8 53.4h0M164.4 129.7h0M200.3 53.1h0M219.9 106.7h0M127.8 169.6h0M195.2 113.4h0M185.6 101.7h0M164.6 78.6h0M203.0 85.2h0M159.7 50.2h0M198.5 98.4h0M100.4 187.6h0M191.6 116.8h0M164.3 60.7h0M183.8 114.6h0M176.7 48.7h0M172.4 54.9h0M136.6 75.0h0M151.0 122.1h0M136.4 56.5h0M188.5 111.7h0M144.8 75.1h0M198.0 79.3h0M136.6 83.4h0M174.8 70.8h0M113.7 174.6h0M170.5 96.1h0M116.6 103.4h0M127.2 141.1h0M120.6 128.4h0M127.1 152.0h0M125.5 198.8h0M142.5 172.7h0M202.2 88.7h0M145.3 84.3h0M124.1 176.2h0M120.6 184.5h0M141.8 178.0h0M141.4 59.3h0M131.8 183.3h0M178.1 81.7h0M152.2 68.3h0M197.0 75.8h0M177.8 82.2h0M189.7 71.7h0M137.5 171.7h0M167.2 70.9h0M169.0 61.0h0M115.9 198.8h0M137.7 148.2h0M121.5 99.0h0M133.4 83.4h0M106.0 166.3h0M159.7 95.0h0M192.4 89.6h0M170.1 56.9h0M197.5 108.2h0M160.7 56.9h0M146.5 42.8h0M164.3 39.9h0M157.5 56.5h0M195.6 75.7h0M181.8 72.7h0M118.3 191.2h0M168.5 61.1h0M137.1 99.6h0M157.4 98.2h0M130.0 206.7h0M168.9 94.1h0M127.6 91.1h0M159.2 58.5h0M217.4 103.8h0M141.9 119.1h0M130.7 60.6h0M150.6 40.7h0M212.9 63.2h0M172.1 84.3h0M121.4 121.7h0M197.0 58.1h0M147.4 136.3h0M124.8 135.2h0M134.1 52.0h0M162.5 59.6h0M191.6 95.0h0M206.9 103.4h0M131.8 185.3h0M180.4 87.5h0M191.8 91.0h0M123.4 162.2h0M137.0 102.7h0M162.5 52.2h0M137.9 147.7h0M195.4 65.4h0M116.1 175.6h0M155.3 94.8h0M138.2 48.7h0M199.5 114.9h0M190.5 73.4h0M225.5 92.2h0M182.8 70.3h0M136.4 73.6h0M116.4 136.2h0M147.2 55.2h0M140.4 134.8h0M167.8 64.7h0M189.3 79.9h0M148.0 155.1h0M134.2 170.7h0M132.1 81.8h0M137.6 121.8h0M115.7 173.6h0M166.6 98.9h0M122.4 156.3h0M193.0 102.9h0M186.9 78.5h0M208.0 74.3h0M222.4 76.2h0M181.9 86.2h0M193.2 82.3h0M185.1 93.3h0M125.1 136.1h0M140.0 95.1h0M126.5 179.3h0M155.7 100.8h0M144.3 54.0h0M134.7 199.5h0M193.0 90.5h0M118.6 172.9h0M129.3 142.3h0M164.3 102.3h0M186.6 86.7h0M168.2 63.3h0M198.2 106.0h0M146.5 46.1h0M133.2 166.9h0M174.8 101.9h0M151.0 135.3h0M118.9 140.0h0M145.7 160.3h0M128.4 129.7h0M133.2 115.0h0M135.8 102.1h0M194.2 81.2h0M186.2 68.3h0M106.1 189.5h0M182.6 114.1h0M138.8 59.8h0M172.0 60.1h0M112.2 195.8h0M127.6 151.9h0M115.6 178.7h0M177.6 84.3h0M144.6 81.5h0M203.2 83.3h0M125.5 113.7h0M215.1 101.0h0M160.5 37.2h0M126.0 146.6h0M145.5 157.3h0M199.8 87.2h0M175.8 63.4h0M190.8 95.8h0M110.9 176.0h0M132.7 136.1h0M142.0 42.3h0M107.1 188.5h0M130.4 112.0h0M125.7 179.4h0M150.2 51.1h0M140.7 156.0h0M175.8 72.4h0M127.4 178.7h0M125.5 139.8h0M182.1 89.0h0M174.8 74.9h0M207.9 73.5h0M139.4 105.5h0M184.8 114.5h0M155.1 58.4h0M122.2 161.4h0M166.7 71.8h0M172.5 41.6h0M119.9 194.7h0M201.9 78.6h0M174.7 69.8h0M130.8 206.9h0M197.5 69.7h0M174.8 66.7h0M135.1 121.3h0M135.2 177.1h0M136.2 91.9h0"/>
<path class="o" d="M92.2 47.6h0M111.1 73.5h0M143.9 114.3h0M133.6 80.0h0M109.7 162.5h0M94.0 135.7h0M88.6 69.3h0M121.6 45.5h0M105.3 107.0h0M83.0 75.4h0M117.5 54.7h0M133.0 106.0h0M164.1 111.0h0M166.6 101.4h0M178.1 100.7h0M159.9 119.3h0M87.8 158.0h0M104.7 52.5h0M95.2 81.5h0M103.4 72.6h0M189.0 128.8h0M99.8 63.5h0M98.2 68.6h0M103.6 43.8h0M191.6 102.0h0M128.8 139.1h0M134.2 64.8h0M148.2 150.9h0M116.4 112.1h0M104.8 27.8h0M156.8 106.8h0M108.8 85.1h0M103.8 110.8h0M100.3 39.5h0M105.8 45.5h0M130.1 46.1h0M133.6 75.4h0M135.8 146.2h0M127.7 101.2h0M87.2 63.3h0M183.9 125.0h0M86.9 64.9h0M124.7 96.2h0M113.4 182.9h0M126.2 72.9h0M90.2 87.4h0M129.8 138.8h0M151.0 128.8h0M106.8 43.0h0M160.8 79.9h0M99.5 48.7h0M127.0 51.2h0M183.2 114.6h0M127.4 86.2h0M189.7 100.9h0M115.3 58.9h0M173.3 100.8h0M115.0 53.9h0M124.9 82.2h0M163.1 97.4h0M86.2 87.3h0M118.9 42.7h0M127.4 116.1h0M145.7 87.0h0M132.6 88.3h0M144.1 174.4h0M123.2 95.1h0M121.4 44.3h0M111.1 133.8h0M163.3 88.6h0M139.4 147.1h0M87.6 64.0h0M101.7 69.0h0M156.1 89.9h0M91.3 87.7h0M122.6 94.2h0M184.7 115.4h0M136.2 61.2h0M104.7 97.6h0M163.6 98.5h0M113.4 132.6h0M108.3 103.7h0M146.9 128.0h0M195.4 123.3h0M160.1 102.3h0M136.2 83.8h0M142.2 100.6h0M99.3 96.5h0M149.3 67.3h0M175.8 116.6h0M124.3 144.5h0M111.5 54.7h0M98.7 123.6h0M110.6 62.5h0M143.5 94.4h0M179.8 96.2h0M127.0 84.9h0M129.2 80.8h0M146.9 149.6h0M110.0 154.8h0M82.7 156.0h0M115.2 72.5h0M91.4 143.1h0M114.0 97.7h0M102.5 62.9h0M126.6 85.5h0M133.1 57.6h0M115.8 91.8h0M136.0 109.4h0M190.5 110.7h0M140.4 73.7h0M114.6 119.6h0M112.9 134.4h0M127.4 65.2h0M144.6 85.8h0M137.1 106.3h0M109.1 85.9h0M109.8 146.5h0M126.8 90.7h0M119.1 50.4h0M151.3 96.5h0M129.8 85.3h0M147.8 76.4h0M194.4 124.0h0M141.0 159.2h0M100.2 49.0h0M116.0 69.6h0M131.0 86.5h0M186.5 105.1h0M188.0 117.9h0M147.3 172.2h0M108.7 59.8h0M138.3 99.8h0M108.6 60.3h0M137.4 129.5h0M181.3 123.6h0M148.7 82.4h0M104.2 75.8h0M126.9 44.2h0M118.6 175.8h0M109.5 157.5h0M124.8 107.1h0M147.6 75.1h0M106.9 146.0h0M166.8 111.5h0M108.4 164.9h0M119.9 85.6h0M136.4 115.5h0M114.8 91.3h0M114.4 38.5h0M148.5 103.2h0M114.8 59.4h0M107.6 119.3h0M134.3 56.0h0M110.6 82.5h0M111.0 38.0h0M109.8 55.3h0M82.6 65.8h0M124.6 47.3h0M109.1 80.5h0M118.2 121.0h0M122.6 55.0h0M117.7 103.9h0M109.0 90.1h0M86.6 59.4h0M172.0 114.1h0M170.0 98.8h0M131.1 102.5h0M101.0 39.3h0M169.3 83.1h0M158.7 102.0h0M145.4 105.4h0M160.0 97.5h0M104.3 61.1h0M114.8 114.5h0M118.7 105.1h0M127.5 93.8h0M127.4 108.5h0M86.1 146.7h0M130.4 72.4h0M147.6 96.1h0M186.6 121.4h0M118.4 130.9h0M129.7 45.3h0M97.0 68.9h0M143.5 108.1h0M161.5 103.8h0M98.8 56.6h0M92.3 141.6h0M111.8 44.3h0M110.5 74.8h0M90.7 54.7h0M126.5 45.4h0M144.2 177.4h0M110.7 78.6h0M117.1 110.2h0M109.2 90.8h0M109.4 60.2h0M141.1 71.8h0M104.6 143.2h0M112.7 144.4h0M130.0 165.2h0M115.1 70.2h0M105.9 100.8h0M109.7 155.6h0M118.1 70.6h0M175.2 101.1h0M103.8 99.4h0M108.1 51.0h0M110.1 137.5h0M128.2 88.5h0M131.8 135.2h0M130.6 76.1h0M231.8 129.1h0M105.4 49.1h0M133.2 62.9h0M106.9 50.1h0M99.2 121.1h0M142.8 95.6h0M161.1 99.8h0M101.5 103.0h0M107.0 162.1h0M135.7 81.2h0M111.4 92.0h0M162.8 81.8h0M170.5 122.5h0M108.4 131.3h0M171.6 89.8h0M119.0 32.5h0M95.3 65.0h0M158.6 107.6h0M115.7 81.2h0M188.8 116.3h0M126.4 91.4h0M176.9 94.5h0M123.0 53.7h0M103.5 73.9h0M77.6 67.1h0M100.5 144.6h0M187.2 124.9h0M122.9 68.0h0M123.6 94.5h0M118.0 72.9h0M136.8 139.8h0M141.1 102.4h0M181.7 98.1h0M168.7 102.9h0M120.8 88.5h0M151.4 91.6h0M90.5 52.7h0M122.9 99.7h0M114.2 78.5h0M149.6 80.1h0M180.9 125.3h0M150.3 143.2h0M100.6 57.8h0M129.2 111.3h0M118.8 128.7h0M105.0 61.7h0M97.6 161.8h0M126.5 65.3h0M188.3 103.8h0M162.0 118.1h0M98.5 89.0h0M89.4 161.5h0M132.1 55.1h0M125.1 73.8h0M97.3 87.0h0M95.8 51.0h0M135.2 84.5h0M130.1 47.5h0M111.7 73.9h0M182.6 107.3h0M124.2 63.1h0M100.3 147.4h0M167.9 100.5h0M171.7 101.3h0M142.3 59.6h0M126.7 41.2h0M108.8 54.1h0M132.7 80.3h0M159.6 108.7h0M109.7 72.5h0M129.7 58.2h0M130.8 59.8h0M100.5 111.6h0M134.0 92.2h0M101.2 106.4h0M122.3 98.6h0M211.6 124.3h0M141.0 136.6h0M142.5 153.4h0M185.6 103.9h0M148.7 116.6h0M111.7 100.0h0M147.4 76.2h0M98.7 89.7h0M126.0 86.7h0M141.6 62.5h0M99.3 74.7h0"/>
<path class="b" d="M117.9 147.7h0M160.0 61.0h0M122.1 109.7h0M169.2 132.1h0M190.2 74.0h0M180.1 97.8h0M123.9 99.8h0M206.8 61.3h0M108.1 171.6h0M172.8 72.7h0M173.9 57.7h0M157.9 64.3h0M158.1 58.2h0M199.3 112.7h0M144.5 55.3h0M178.0 59.9h0M197.7 83.1h0M149.9 144.2h0M143.2 133.6h0M183.9 46.7h0M126.4 188.7h0M115.1 197.4h0M170.0 43.7h0M219.6 93.7h0M124.9 198.7h0M144.1 170.3h0M169.1 51.8h0M197.7 86.8h0M202.1 53.2h0M133.2 152.9h0M202.0 56.1h0M112.9 161.0h0M111.9 154.7h0M152.5 58.9h0M147.2 159.1h0M184.6 52.8h0M194.6 117.6h0M178.2 75.9h0M122.1 180.9h0M190.7 60.5h0M136.9 112.6h0M215.9 64.3h0M186.7 90.8h0M149.5 71.2h0M199.7 70.5h0M114.0 157.7h0M121.4 109.6h0M137.1 162.1h0M151.8 43.1h0M177.7 88.2h0M149.3 45.1h0M192.3 97.8h0M173.2 100.6h0M155.4 71.2h0M125.6 207.0h0M170.3 136.6h0M180.8 101.8h0M132.0 145.8h0M125.2 120.3h0M169.8 51.0h0M270.9 179.1h0M141.7 173.5h0M114.1 189.8h0M119.6 185.1h0M143.5 62.5h0M214.3 91.1h0M207.6 109.6h0M195.5 96.9h0M180.1 51.1h0M148.0 121.7h0M114.1 194.4h0M177.4 111.9h0M130.4 153.7h0M123.4 127.0h0M132.1 165.5h0M132.7 100.3h0M201.0 119.4h0M207.8 60.7h0M110.9 173.0h0M133.7 200.7h0M130.4 62.5h0M192.4 114.7h0M168.4 45.4h0M161.5 103.2h0M130.5 154.9h0M126.8 49.7h0M130.8 57.5h0M221.5 86.3h0M140.4 183.0h0M155.8 58.7h0M140.0 146.8h0M174.4 42.4h0M221.7 73.4h0M188.5 62.5h0M124.1 188.2h0M119.3 185.1h0M143.9 94.3h0M123.4 181.0h0M158.5 43.6h0M128.2 172.1h0M157.6 75.8h0M222.2 97.2h0M132.1 70.2h0M173.3 55.5h0M130.1 184.5h0M184.3 72.8h0M128.5 135.0h0M166.9 93.8h0M150.3 130.6h0M180.2 51.2h0M189.4 59.6h0M187.6 68.1h0M127.3 103.4h0M171.6 78.8h0M148.2 118.9h0M181.9 87.2h0M158.6 43.5h0M207.5 93.6h0M164.0 59.2h0M190.1 55.9h0M166.5 64.2h0M150.6 87.1h0M144.7 42.6h0M176.1 82.3h0M147.5 77.6h0M129.5 125.7h0M149.8 126.6h0M172.0 110.0h0M122.8 150.0h0M131.5 110.3h0M132.3 189.0h0M137.8 95.2h0M142.4 178.0h0M134.5 117.3h0M142.3 116.1h0M182.2 88.4h0M172.7 79.3h0M228.4 94.5h0M205.4 87.2h0M191.4 75.8h0M132.9 56.5h0M137.9 185.5h0M178.8 92.5h0M111.8 178.3h0M136.1 112.8h0M173.2 102.3h0M147.3 118.3h0M125.7 196.1h0M141.9 111.2h0M120.8 115.6h0M190.0 70.4h0M177.5 97.8h0M181.8 115.0h0M186.0 68.1h0M155.8 59.6h0M140.1 137.5h0M137.9 135.2h0M149.2 62.3h0M195.5 69.9h0M163.5 89.0h0M141.6 83.6h0M115.2 192.4h0M181.7 89.4h0M141.0 43.7h0M199.1 90.4h0M135.1 154.9h0M144.6 146.9h0M183.5 75.1h0M140.2 181.1h0M167.3 98.0h0M204.3 64.0h0M200.8 87.8h0M153.7 46.1h0M186.2 48.0h0M137.0 164.7h0M172.3 104.2h0M182.0 81.7h0M135.7 165.7h0M140.9 88.5h0M165.2 67.2h0M152.5 52.0h0M146.1 120.8h0M128.9 162.2h0M111.8 154.8h0M187.1 64.3h0M173.8 77.5h0M173.9 48.1h0M168.9 42.0h0M194.8 69.3h0M136.4 66.9h0M139.1 165.6h0M160.9 81.7h0M167.3 95.8h0M202.6 107.1h0M175.5 55.7h0M136.6 92.5h0M115.5 112.0h0M194.6 91.7h0M124.5 167.6h0M193.1 91.9h0M108.3 175.3h0M205.2 87.5h0M162.3 90.7h0M171.0 87.7h0M135.9 97.0h0M179.1 89.5h0M138.8 94.6h0M146.9 53.7h0M141.3 166.0h0M199.1 85.0h0M140.2 111.9h0M192.8 102.1h0M181.1 61.8h0M175.7 65.6h0M126.5 206.4h0M186.5 63.9h0M130.7 127.0h0M187.2 79.2h0M190.5 65.7h0M188.6 91.5h0M153.5 73.6h0M145.4 58.7h0M179.0 53.3h0M142.2 176.6h0M200.6 78.2h0M125.0 148.0h0M179.8 106.5h0M161.1 64.4h0M140.6 82.7h0M156.6 83.6h0M190.4 108.9h0M144.2 151.1h0M115.0 140.0h0M213.5 88.6h0M183.3 91.6h0M134.4 144.9h0M129.3 167.1h0M167.3 63.0h0M171.3 52.0h0M121.2 173.3h0M182.2 93.8h0M131.6 187.7h0M128.6 106.6h0M151.2 87.8h0M202.4 82.7h0M180.6 62.1h0M190.7 72.5h0M145.2 144.4h0M126.6 131.5h0M140.0 157.3h0M124.7 109.2h0M151.5 55.2h0M177.6 66.3h0M130.7 74.5h0M126.5 152.6h0M151.1 74.0h0M139.8 151.8h0M106.0 189.0h0M132.7 177.7h0M138.2 57.6h0M135.4 141.6h0M125.6 106.7h0M192.8 64.7h0M135.3 120.7h0M151.0 121.2h0M163.5 158.0h0M154.3 77.9h0M160.8 105.8h0M182.7 97.5h0M150.5 124.9h0M136.3 119.0h0M115.3 174.9h0M219.8 97.0h0M184.8 50.1h0M188.8 115.0h0M172.2 67.3h0M118.6 203.0h0M171.7 109.2h0M161.1 43.0h0M168.1 98.8h0M155.2 65.1h0M143.4 78.5h0M178.5 48.0h0M151.1 42.4h0M194.1 88.0h0M186.0 54.3h0M153.5 147.5h0M126.8 201.0h0M189.6 64.6h0M128.8 196.3h0M187.2 75.0h0M170.3 50.5h0M225.9 98.1h0M142.6 136.9h0M126.3 168.2h0M158.4 38.1h0M193.9 77.2h0M146.6 41.3h0M206.2 73.3h0M113.5 142.4h0M181.0 108.5h0"/>
<path class="o" d="M208.7 134.8h0M94.9 43.8h0M137.5 96.3h0M109.7 88.2h0M115.8 89.6h0M167.4 85.6h0M116.6 111.9h0M150.7 93.4h0M156.9 73.3h0M103.9 147.2h0M180.1 108.1h0M163.4 101.6h0M122.4 130.2h0M90.7 62.4h0M153.0 84.8h0M111.1 42.4h0M195.4 120.6h0M108.0 88.0h0M110.2 53.1h0M92.6 160.8h0M112.0 151.8h0M193.6 124.1h0M159.9 114.6h0M113.9 26.3h0M132.3 65.5h0M97.0 158.7h0M110.0 55.3h0M117.2 56.5h0M114.5 39.5h0M195.8 123.9h0M109.0 100.8h0M95.3 93.8h0M83.6 50.9h0M107.8 65.9h0M130.4 47.5h0M102.7 72.2h0M118.0 33.8h0M88.4 57.1h0M122.7 82.0h0M126.5 136.3h0M116.9 99.3h0M127.1 138.0h0M142.1 136.0h0M143.9 99.8h0M102.9 37.9h0M191.1 102.9h0M106.2 56.1h0M162.3 79.8h0M117.8 61.8h0M122.2 77.9h0M143.7 137.3h0M146.4 128.5h0M194.2 120.1h0M100.8 158.3h0M101.5 79.1h0M176.4 118.2h0M133.2 98.6h0M141.7 135.9h0M128.4 152.1h0M115.7 39.3h0M133.2 128.1h0M119.3 31.8h0M192.3 109.9h0M175.9 95.5h0M117.0 82.5h0M99.0 88.7h0M109.2 101.7h0M107.3 49.4h0M101.1 153.2h0M107.9 54.3h0M183.3 120.8h0M112.5 58.3h0M148.4 143.5h0M157.0 125.8h0M111.2 105.9h0M115.7 49.2h0M85.2 39.0h0M78.6 54.2h0M80.2 149.6h0M159.4 125.5h0M122.0 100.0h0M108.6 38.1h0M116.1 74.7h0M146.4 97.5h0M125.6 84.1h0M89.2 49.9h0M148.6 81.6h0M163.2 99.1h0M102.0 100.1h0M212.5 123.8h0M124.6 91.9h0M147.2 64.5h0M134.3 103.8h0M101.6 69.5h0M141.0 164.3h0M151.3 122.0h0M99.6 67.2h0M132.4 135.7h0M103.6 95.3h0M94.6 91.3h0M160.6 81.4h0M163.8 96.3h0M103.7 158.1h0M85.3 64.5h0M136.4 64.0h0M110.4 38.5h0M122.7 117.8h0M132.7 142.0h0M168.7 99.5h0M143.7 122.2h0M108.5 85.1h0M143.0 95.4h0M116.0 52.5h0M102.9 56.2h0M124.7 111.0h0M140.9 164.2h0M117.3 76.0h0M128.6 129.0h0M108.7 53.4h0M173.3 94.7h0M175.8 91.1h0M114.3 102.3h0M101.7 35.2h0M110.9 114.1h0M141.3 126.8h0M88.6 87.6h0M124.9 84.9h0M134.4 60.2h0M133.8 139.3h0M145.8 145.0h0M220.8 127.7h0M122.9 130.4h0M129.3 64.7h0M97.4 81.4h0M115.3 61.1h0M98.4 91.3h0M155.9 94.3h0M108.3 66.2h0M117.6 43.5h0M111.5 55.0h0M158.4 97.3h0M134.1 127.0h0M99.5 61.1h0M134.0 80.2h0M126.5 96.9h0M165.5 113.2h0M152.7 78.3h0M161.0 86.2h0M121.7 156.4h0M122.8 106.1h0M102.8 48.9h0M161.7 90.7h0M112.1 70.6h0M157.8 128.2h0M118.6 141.4h0M171.1 118.0h0M103.4 91.1h0M115.9 55.9h0M117.4 152.7h0M91.2 68.6h0M154.6 89.4h0M86.2 156.6h0M101.8 49.4h0M106.2 37.7h0M141.5 147.6h0M196.8 105.8h0M121.8 96.0h0M118.2 118.6h0M130.2 50.0h0M115.7 52.3h0M156.7 107.6h0M97.1 62.1h0M168.9 83.6h0M99.9 65.5h0M130.3 149.0h0M164.1 109.3h0M111.5 53.8h0M115.3 33.3h0M144.8 144.7h0M83.3 151.7h0M97.8 72.0h0M196.4 108.2h0M83.8 146.4h0M104.8 94.2h0M124.1 40.1h0M130.7 77.4h0M103.7 38.4h0M142.2 74.1h0M117.2 99.8h0M128.0 81.5h0M148.9 92.7h0M104.3 148.8h0M96.4 55.0h0M186.6 112.2h0M110.8 111.0h0M155.3 121.1h0M97.9 124.7h0M107.9 160.5h0M171.5 99.5h0M143.2 131.3h0M131.6 136.8h0M136.9 75.1h0M125.9 73.6h0M125.6 63.7h0M131.9 125.8h0M122.6 94.0h0M104.6 112.1h0M178.4 111.5h0M147.3 131.3h0M98.9 59.2h0M92.2 136.2h0M163.1 101.3h0M155.1 101.0h0M102.3 93.0h0M92.2 153.0h0M112.0 94.1h0M123.4 43.3h0M112.3 62.9h0M92.0 134.9h0M105.4 42.9h0M120.5 59.9h0M153.5 78.3h0M104.6 82.9h0M178.9 119.6h0M104.3 96.1h0M105.0 28.0h0M130.1 79.3h0M154.7 117.5h0M138.8 67.5h0M108.1 29.9h0M163.1 93.8h0M120.7 110.2h0M98.4 65.8h0M166.7 90.3h0M96.9 135.7h0M154.6 97.1h0M135.3 56.9h0M126.3 107.0h0M107.8 34.2h0M113.7 44.4h0M139.2 150.4h0M122.8 45.9h0M133.9 68.8h0M88.5 50.9h0M89.6 52.4h0M191.3 106.5h0M111.3 105.7h0M200.8 115.3h0M90.3 71.4h0M122.6 146.3h0M91.3 52.4h0M182.9 101.5h0M124.0 60.6h0M106.1 106.7h0M139.2 78.2h0M114.1 86.3h0M118.9 59.2h0M106.1 38.5h0M111.5 64.5h0M108.4 94.0h0M111.9 42.6h0M106.4 41.5h0M133.9 115.2h0M161.2 108.3h0M109.7 92.3h0M116.9 77.9h0M139.6 77.4h0M143.2 86.2h0M122.4 81.5h0M116.1 88.4h0M118.7 83.7h0M112.1 67.3h0M91.4 58.6h0M162.1 104.1h0M126.6 123.4h0M138.6 122.3h0M122.5 77.3h0M150.9 68.5h0M86.6 68.2h0M84.5 160.3h0M83.0 51.4h0M159.5 76.8h0M104.9 88.9h0M90.4 161.6h0M147.6 161.1h0M104.1 103.2h0M199.7 119.4h0M96.7 64.4h0M122.7 55.6h0M114.6 150.4h0M100.6 123.2h0"/>
<path class="b" d="M198.4 121.9h0M155.4 41.1h0M158.6 95.1h0M191.7 108.2h0M124.6 178.7h0M199.6 118.9h0M125.0 113.0h0M128.6 122.9h0M120.6 116.6h0M197.6 83.2h0M141.4 107.1h0M194.2 77.5h0M130.0 192.5h0M190.6 52.2h0M172.9 102.5h0M187.4 65.0h0M167.4 77.7h0M150.6 139.0h0M197.5 49.4h0M179.8 60.8h0M174.9 47.9h0M157.9 66.5h0M137.2 137.9h0M174.9 50.1h0M171.8 82.9h0M155.9 54.1h0M175.2 55.2h0M125.8 159.4h0M182.0 73.7h0M115.9 200.6h0M110.1 189.5h0M122.4 198.2h0M169.6 76.6h0M125.4 167.5h0M121.8 123.9h0M137.6 90.7h0M196.2 56.5h0M117.8 194.6h0M193.1 52.4h0M181.9 77.0h0M106.9 190.4h0M172.3 107.0h0M131.5 73.2h0M119.1 142.1h0M166.8 68.8h0M177.9 58.8h0M183.5 67.3h0M110.6 170.5h0M132.3 55.9h0M125.2 164.5h0M190.1 52.3h0M140.3 67.1h0M160.2 91.0h0M131.3 108.6h0M153.6 62.0h0M189.0 96.7h0M159.4 40.8h0M144.6 129.8h0M129.1 175.6h0M183.4 105.3h0M136.8 115.7h0M147.1 51.8h0M129.7 182.7h0M203.9 87.9h0M190.3 108.0h0M126.5 100.1h0M147.3 125.5h0M151.1 75.0h0M119.5 167.9h0M181.1 90.8h0M140.5 84.5h0M153.1 45.4h0M123.6 190.3h0M159.6 68.6h0M198.1 109.7h0M119.7 153.9h0M109.7 193.1h0M133.8 56.1h0M177.3 53.3h0M204.4 107.0h0M127.2 112.6h0M164.5 63.3h0M141.4 113.2h0M165.1 63.5h0M108.5 194.9h0M118.2 134.7h0M146.7 98.0h0M205.8 66.6h0M129.3 84.1h0M209.1 66.5h0M153.4 48.1h0M187.1 86.9h0M162.8 64.8h0M155.1 46.8h0M170.5 56.9h0M188.9 55.5h0M129.2 126.0h0M198.5 101.8h0M163.8 65.3h0M169.4 54.8h0M197.1 87.5h0M133.4 61.1h0M149.8 91.3h0M183.3 50.7h0M110.2 194.9h0M184.5 83.8h0M143.7 137.3h0M102.8 168.5h0M184.0 57.6h0M160.2 41.9h0M177.1 70.7h0M168.4 51.6h0M110.0 195.9h0M138.8 67.3h0M188.0 87.8h0M131.9 126.0h0M181.3 45.3h0M185.9 56.8h0M148.1 84.7h0M153.9 64.5h0M194.3 120.1h0M195.7 100.1h0M141.0 133.7h0M156.6 67.0h0M119.2 172.3h0M162.0 62.4h0M197.5 100.9h0M168.6 40.0h0M140.5 151.0h0M145.9 150.1h0M125.5 139.2h0M128.5 200.9h0M128.4 174.3h0M126.2 140.3h0M114.1 164.0h0M208.2 100.0h0M153.3 123.6h0M127.1 74.1h0M171.9 108.6h0M148.4 79.1h0M170.0 70.6h0M151.7 84.8h0M116.3 102.7h0M137.9 105.7h0M119.6 109.8h0M183.9 76.0h0M189.8 59.2h0M127.5 176.2h0M141.3 149.2h0M129.9 60.7h0M137.7 177.1h0M133.6 133.3h0M186.5 90.5h0M142.3 143.6h0M177.3 109.2h0M171.4 76.1h0M158.2 44.0h0M203.9 69.2h0M201.0 79.1h0M170.0 55.3h0M217.9 88.3h0M157.3 40.2h0M128.2 49.9h0M165.1 49.6h0M115.4 185.5h0M190.7 96.0h0M127.5 175.7h0M194.7 54.8h0M204.9 77.0h0M178.8 64.7h0M155.2 96.5h0M127.0 137.8h0M164.8 70.0h0M201.9 104.1h0M127.1 84.9h0M141.1 180.3h0M177.6 55.0h0M201.7 84.8h0M132.7 87.6h0M131.0 187.9h0M145.0 149.6h0M152.0 134.7h0M142.9 53.3h0M142.2 73.8h0M121.6 133.5h0M123.5 163.5h0M195.2 98.0h0M134.8 149.3h0M112.1 188.1h0M121.8 112.3h0M115.4 181.8h0M183.0 75.9h0M140.8 97.8h0M198.8 59.3h0M126.6 202.2h0M172.9 74.5h0M151.2 62.0h0M139.5 70.3h0M194.6 61.8h0M160.6 42.5h0M192.8 50.8h0M170.3 69.6h0M191.7 115.9h0M198.5 118.0h0M141.6 170.7h0M205.7 86.3h0M142.7 163.6h0M165.5 72.9h0M141.2 107.2h0M207.9 65.5h0M166.0 76.0h0M184.0 62.7h0M143.4 113.4h0M135.8 54.3h0M169.2 77.7h0M133.9 158.0h0M143.4 82.9h0M165.4 84.1h0M129.5 205.2h0M143.3 86.2h0M186.5 55.3h0M127.0 190.7h0M126.0 174.5h0M165.6 91.4h0M158.1 68.6h0M197.0 70.8h0M115.7 164.6h0M127.4 148.8h0M120.7 163.3h0M122.4 114.8h0M130.0 107.2h0M163.8 109.8h0M189.6 65.4h0M132.8 105.7h0M125.5 143.7h0M182.3 108.9h0M158.9 64.0h0M133.8 107.4h0M179.9 107.5h0M129.2 164.2h0M190.4 96.5h0M125.4 179.7h0M192.0 99.3h0M181.9 84.6h0M171.7 54.7h0M104.5 190.8h0M142.9 112.6h0M155.9 63.3h0M166.0 77.1h0M172.0 45.0h0M136.2 154.5h0M194.2 100.3h0M130.3 159.6h0M137.5 163.9h0M125.2 192.1h0M181.6 109.2h0M154.7 67.6h0M121.6 145.6h0M164.7 61.8h0M223.2 85.0h0M121.7 91.2h0M145.5 77.3h0M168.7 46.6h0M110.8 166.0h0M118.5 167.7h0M200.0 80.6h0M162.0 69.5h0M156.0 48.7h0M177.4 68.5h0M111.4 163.6h0M146.0 116.8h0M132.1 167.6h0M158.1 87.0h0M180.7 104.0h0M218.4 101.2h0M117.3 143.7h0M134.4 156.2h0M160.7 90.0h0M138.7 146.3h0M114.8 151.9h0M120.7 172.9h0M142.9 110.2h0M225.3 80.4h0M176.8 70.8h0M137.0 183.6h0M202.9 94.2h0M120.2 173.8h0M175.1 93.1h0M180.1 100.5h0M165.9 90.2h0M128.9 53.7h0M158.9 52.0h0M194.9 62.6h0M167.3 39.4h0M195.0 83.4h0M129.7 160.9h0M219.3 81.8h0M143.6 63.8h0M130.8 167.3h0M185.5 65.9h0M151.2 54.2h0M134.7 164.8h0M116.6 168.3h0M111.3 168.7h0M174.1 107.4h0M157.4 95.1h0M170.1 71.8h0M134.2 102.0h0M199.5 119.4h0M150.1 141.6h0M144.5 130.0h0M174.2 47.7h0M137.6 58.0h0M152.5 59.9h0M160.4 127.0h0M134.1 179.0h0"/>
<path class="o" d="M103.2 79.3h0M139.4 98.4h0M82.0 41.5h0M96.9 68.5h0M104.6 44.0h0M106.8 55.2h0M97.1 76.2h0M151.5 78.6h0M141.9 110.4h0M173.1 107.7h0M145.4 95.6h0M109.0 70.4h0M163.4 87.9h0M123.5 59.5h0M129.9 68.8h0M123.2 87.3h0M108.1 148.3h0M145.8 86.2h0M132.8 90.8h0M117.5 108.6h0M153.3 96.0h0M83.5 149.0h0M133.3 113.7h0M161.5 82.5h0M145.6 68.3h0M80.8 66.1h0M149.0 153.0h0M125.5 61.7h0M113.1 99.1h0M133.9 100.7h0M148.4 77.9h0M135.8 137.6h0M134.6 73.0h0M104.3 44.1h0M139.3 142.2h0M94.2 72.3h0M195.0 124.8h0M106.5 123.1h0M118.4 97.7h0M119.4 114.5h0M125.5 113.7h0M101.8 118.4h0M107.5 110.7h0M90.8 145.4h0M131.8 56.2h0M118.0 55.3h0M99.4 82.6h0M132.2 59.7h0M162.9 77.0h0M125.5 58.1h0M120.5 71.4h0M99.7 105.4h0M128.0 64.1h0M102.9 111.9h0M133.8 130.1h0M122.3 50.8h0M118.3 105.8h0M179.1 108.1h0M167.2 91.7h0M105.1 100.7h0M103.5 41.6h0M84.5 40.2h0M160.5 99.3h0M123.8 48.0h0M136.8 86.7h0M142.6 61.8h0M152.8 109.7h0M110.3 63.3h0M162.4 128.8h0M132.8 57.2h0M126.9 69.9h0M132.9 60.5h0M111.2 50.4h0M81.3 74.2h0M119.1 52.9h0M91.5 133.1h0M152.3 131.8h0M104.6 62.6h0M161.7 103.3h0M85.4 48.7h0M123.0 54.2h0M114.1 48.7h0M84.7 149.7h0M116.3 29.9h0M116.9 66.7h0M186.5 104.6h0M135.3 67.7h0M134.2 50.0h0M95.8 137.3h0M132.3 51.6h0M139.7 115.7h0M84.9 155.3h0M82.9 88.9h0M117.0 68.4h0M194.0 125.7h0M129.1 131.5h0M128.8 93.4h0M131.6 132.7h0M126.8 57.6h0M200.8 111.0h0M134.1 73.7h0M147.7 115.3h0M190.1 122.6h0M133.7 107.8h0M109.3 118.1h0M116.8 87.0h0M140.2 74.6h0M168.4 94.9h0M136.1 93.9h0M146.5 131.1h0M84.2 66.6h0M127.6 55.3h0M131.3 122.3h0M129.6 93.0h0M107.3 87.2h0M86.6 44.0h0M123.3 40.6h0M117.7 184.0h0M122.7 99.2h0M119.7 118.2h0M164.0 92.4h0M107.3 76.3h0M213.8 123.9h0M119.8 128.4h0M113.5 87.5h0M118.1 68.1h0M125.0 50.1h0M108.6 99.0h0M132.3 129.8h0M113.5 155.3h0M99.0 63.9h0M183.6 125.2h0M88.8 74.5h0M113.7 73.4h0M121.0 87.9h0M147.2 140.5h0M108.8 124.9h0M127.3 76.5h0M131.1 76.6h0M128.8 81.8h0M150.5 69.9h0M136.3 69.2h0M188.4 118.8h0M106.8 62.0h0M108.2 56.3h0M150.2 65.3h0M123.2 63.7h0M90.6 143.9h0M138.6 122.6h0M158.2 74.6h0M115.4 37.7h0M109.2 35.6h0M97.4 43.5h0M110.4 153.4h0M115.6 33.1h0M106.3 98.2h0M98.3 89.8h0M117.7 105.4h0M129.9 138.3h0M152.2 141.1h0M101.2 159.7h0M174.2 103.5h0M154.4 126.9h0M119.5 41.6h0M130.1 77.2h0M123.8 86.1h0M164.0 101.5h0M132.4 75.1h0M116.6 48.6h0M179.0 107.7h0M151.1 106.4h0M145.4 63.9h0M167.3 96.6h0M137.9 99.5h0M196.8 112.4h0M131.3 130.8h0M129.5 153.9h0M96.3 82.6h0M112.9 71.1h0M122.1 58.7h0M156.1 104.4h0M96.0 69.8h0M187.0 116.1h0M194.5 122.9h0M168.1 97.9h0M112.6 161.4h0M96.7 59.8h0M121.2 156.9h0M106.7 76.9h0M108.0 142.4h0M134.2 86.7h0M178.3 98.7h0M114.7 50.9h0M199.6 114.6h0M121.7 90.1h0M90.5 81.7h0M151.5 76.4h0M131.0 88.7h0M142.8 75.1h0M104.0 110.5h0M154.5 101.4h0M114.5 77.2h0M75.7 54.2h0M154.4 95.4h0M198.8 128.2h0M106.9 87.9h0M178.3 92.2h0M131.7 113.2h0M106.0 139.8h0M169.6 106.5h0M113.6 118.4h0M94.7 83.9h0M109.3 75.0h0M82.0 52.1h0M106.7 41.9h0M111.6 40.3h0M162.3 90.1h0M113.7 120.5h0M103.7 77.8h0M95.9 58.9h0M201.0 114.7h0M126.2 57.8h0M89.9 62.9h0M139.6 143.6h0M99.6 71.3h0M161.1 100.8h0M148.1 122.3h0M165.0 113.3h0M116.7 57.6h0M164.6 110.7h0M99.0 154.7h0M99.4 68.1h0M178.8 117.9h0M166.4 85.3h0M162.4 114.3h0M111.5 99.3h0M96.5 149.5h0M135.5 100.6h0M127.5 62.1h0M151.8 107.3h0M165.0 89.0h0M142.8 92.6h0M125.8 150.8h0M83.4 62.3h0M175.0 122.1h0M215.3 125.5h0M129.4 43.9h0M122.7 76.3h0M116.0 39.2h0M112.7 52.7h0M111.1 147.8h0M227.7 123.4h0M97.6 86.3h0M147.2 99.3h0M150.8 90.2h0M113.2 35.7h0M121.0 42.0h0M127.3 109.0h0M210.5 140.0h0M134.9 83.8h0M151.5 71.3h0M127.5 91.7h0M105.6 106.6h0M154.1 122.8h0M111.7 45.3h0M127.2 61.5h0M119.7 53.7h0M97.8 79.2h0M130.6 88.1h0M150.7 121.9h0M133.1 94.8h0M122.7 93.0h0M113.6 83.3h0M112.9 91.5h0M152.7 131.5h0M91.8 40.3h0"/>
<path class="b" d="M156.8 78.2h0M147.2 90.1h0M196.1 67.0h0M185.3 85.7h0M181.6 46.2h0M202.1 67.9h0M151.9 61.2h0M185.2 89.4h0"/>
<path class="o" d="M116.6 45.2h0M158.6 114.1h0M138.7 75.8h0M165.9 114.8h0"/></g>
<text x="48.2" y="235.6" font-size="15.8" text-anchor="middle" class="t">-120</text>
<text x="113.8" y="235.6" font-size="15.8" text-anchor="middle" class="t">-100</text>
<text x="179.4" y="235.6" font-size="15.8" text-anchor="middle" class="t">-80</text>
<text x="245.0" y="235.6" font-size="15.8" text-anchor="middle" class="t">-60</text>
<text x="310.6" y="235.6" font-size="15.8" text-anchor="middle" class="t">-40</text>
<text x="376.2" y="235.6" font-size="15.8" text-anchor="middle" class="t">-20</text>
<text x="41.2" y="213.96" font-size="15.8" text-anchor="end" class="t">0</text>
<text x="41.2" y="174.16" font-size="15.8" text-anchor="end" class="t">5</text>
<text x="41.2" y="134.36" font-size="15.8" text-anchor="end" class="t">10</text>
<text x="41.2" y="94.56" font-size="15.8" text-anchor="end" class="t">15</text>
<text x="41.2" y="54.76" font-size="15.8" text-anchor="end" class="t">20</text>
<text transform="translate(212.1 259.3) scale(1.03 1)" font-size="17.00" text-anchor="middle" class="t">1st f component</text>
<text transform="translate(14.9 119.6) rotate(-90)" font-size="17.83" text-anchor="middle" class="t">2nd f component</text>
<text transform="translate(212.1 17.7) scale(1.07 1)" font-size="16.65" text-anchor="middle" font-weight="bold" fill="#000">PCA - Training data SENSOR 3</text>
<rect x="251.8" y="36.8" width="110.7" height="41.8" fill="#fff" stroke="#262626" stroke-width="1"/>
<circle cx="282.1" cy="48.75" r="5" fill="#0072BD"/>
<text x="311.2" y="54.1" font-size="14.4" fill="#000">Normal</text>
<circle cx="282.1" cy="68.4" r="5" fill="#D95319"/>
<text x="311.2" y="73.75" font-size="14.4" fill="#000">Faulty</text>
<text x="195.6" y="276.3" font-size="9.8" text-anchor="middle" class="cap">(<tspan font-weight="bold">a</tspan>)</text>
<line x1="51.2" y1="299.1" x2="51.2" y2="482.6" class="g"/>
<line x1="131.28" y1="299.1" x2="131.28" y2="482.6" class="g"/>
<line x1="211.36" y1="299.1" x2="211.36" y2="482.6" class="g"/>
<line x1="291.44" y1="299.1" x2="291.44" y2="482.6" class="g"/>
<line x1="371.52" y1="299.1" x2="371.52" y2="482.6" class="g"/>
<line x1="50.9" y1="464.4" x2="371.5" y2="464.4" class="g"/>
<line x1="50.9" y1="428.52" x2="371.5" y2="428.52" class="g"/>
<line x1="50.9" y1="392.64" x2="371.5" y2="392.64" class="g"/>
<line x1="50.9" y1="356.76" x2="371.5" y2="356.76" class="g"/>
<line x1="50.9" y1="320.88" x2="371.5" y2="320.88" class="g"/>
<path d="M50.9 299.1V483.1" class="a" stroke-width="1.3"/>
<path d="M50.3 482.6H371.5" class="a" stroke-width="1.1"/>
<line x1="51.2" y1="482.6" x2="51.2" y2="479.3" class="a"/>
<line x1="131.28" y1="482.6" x2="131.28" y2="479.3" class="a"/>
<line x1="211.36" y1="482.6" x2="211.36" y2="479.3" class="a"/>
<line x1="291.44" y1="482.6" x2="291.44" y2="479.3" class="a"/>
<line x1="371.52" y1="482.6" x2="371.52" y2="479.3" class="a"/>
<line x1="50.9" y1="464.4" x2="54.2" y2="464.4" class="a"/>
<line x1="50.9" y1="428.52" x2="54.2" y2="428.52" class="a"/>
<line x1="50.9" y1="392.64" x2="54.2" y2="392.64" class="a"/>
<line x1="50.9" y1="356.76" x2="54.2" y2="356.76" class="a"/>
<line x1="50.9" y1="320.88" x2="54.2" y2="320.88" class="a"/>
<g class="d"><path class="b" d="M124.9 423.7h0M197.3 381.5h0M139.1 409.1h0M138.9 472.6h0M198.4 345.7h0M162.5 405.8h0M105.6 380.1h0M129.3 400.6h0M117.7 442.9h0M134.7 381.2h0M126.2 371.8h0M121.1 439.8h0M120.4 431.1h0M128.4 426.5h0M154.9 385.5h0M151.8 426.3h0M115.9 371.3h0M118.8 379.0h0M122.1 424.6h0M131.1 439.4h0M127.6 448.7h0M148.9 430.6h0M92.2 359.8h0M118.4 363.2h0M140.9 447.7h0M156.5 399.9h0M82.3 378.6h0M92.3 363.1h0M95.2 392.4h0M152.0 392.5h0M145.5 424.9h0M212.7 344.4h0M181.2 383.1h0M147.8 454.2h0M92.6 361.7h0M105.4 385.0h0M140.7 404.5h0M184.8 410.8h0M126.2 369.1h0M144.0 439.3h0M210.3 354.2h0M110.6 376.0h0M104.4 394.6h0M214.4 359.8h0M99.5 369.3h0M196.2 333.5h0M158.3 428.1h0M168.8 385.3h0M122.7 367.2h0M123.4 457.2h0M116.8 382.4h0M162.8 391.5h0M147.0 426.4h0M149.2 391.9h0M151.3 398.0h0M152.1 395.3h0M108.3 390.5h0M116.5 429.8h0M185.5 346.9h0M134.6 452.4h0M124.4 454.3h0M138.2 471.0h0M131.7 414.4h0M210.3 342.3h0M137.6 394.5h0M83.3 380.0h0M118.0 369.7h0M141.8 469.0h0M117.0 375.2h0M189.0 345.9h0M128.1 412.4h0M182.0 323.6h0M224.5 350.7h0M143.3 390.7h0M147.6 438.2h0M162.4 400.9h0M119.1 409.8h0M122.8 413.6h0M218.4 347.4h0M129.3 419.7h0M141.4 391.9h0M154.7 429.0h0M210.6 383.9h0M162.6 390.5h0M119.1 376.6h0M128.0 404.7h0M181.7 322.8h0M105.2 390.3h0M132.3 460.8h0M100.0 382.7h0M83.2 368.1h0M131.9 378.6h0M139.5 475.4h0M131.8 411.9h0M134.7 470.4h0M134.9 409.5h0M122.2 361.5h0M131.6 430.3h0M104.0 369.9h0M143.7 395.3h0M161.8 378.8h0M246.9 354.4h0M116.8 379.3h0M144.9 371.2h0M134.1 477.0h0M209.6 355.4h0M138.0 377.8h0M148.2 430.6h0M224.8 354.6h0M182.7 405.4h0M159.0 416.7h0M146.8 453.0h0M173.4 412.9h0M184.9 380.6h0M138.6 456.9h0M129.8 464.3h0M143.9 468.5h0M200.2 373.4h0M160.1 405.3h0M147.8 435.7h0M212.1 358.3h0M151.4 408.9h0M117.8 436.7h0M141.3 405.5h0M123.7 434.8h0M135.6 422.9h0M109.8 376.6h0M144.0 403.0h0M206.8 333.9h0M111.7 376.9h0M94.8 375.2h0M99.8 395.0h0M158.8 422.0h0M130.5 417.4h0M135.3 472.9h0M130.0 389.7h0M150.9 420.7h0M152.0 405.9h0M220.0 352.1h0M132.7 397.4h0M125.3 415.9h0M182.5 325.9h0M112.3 364.4h0M108.7 380.8h0M142.2 434.2h0M216.5 361.6h0M148.8 427.8h0M188.4 334.9h0M143.4 377.6h0M140.9 387.3h0M192.4 327.8h0M122.5 370.5h0M84.2 366.1h0M104.7 366.1h0M146.9 425.3h0M147.7 379.3h0M149.5 392.2h0M133.2 388.0h0M131.8 474.7h0M98.6 397.9h0M179.3 356.7h0M137.8 393.1h0M93.2 375.1h0M158.8 390.9h0M153.9 438.2h0M149.6 406.2h0M82.6 369.1h0M216.7 335.6h0M203.2 349.8h0M133.0 456.3h0M142.4 447.6h0M120.6 373.0h0M81.3 390.4h0M138.0 397.6h0M164.2 394.9h0M183.6 327.9h0M151.6 402.9h0M220.7 338.1h0M197.2 356.6h0M231.2 350.7h0M172.7 386.5h0M100.7 384.2h0M131.2 441.9h0M103.7 390.8h0M122.8 418.7h0M163.1 394.2h0M117.9 430.3h0M131.2 398.2h0M187.7 403.9h0M139.5 415.6h0M124.2 366.4h0M90.3 393.7h0M230.5 339.4h0M137.7 474.3h0M137.7 405.6h0M184.4 336.4h0M128.6 379.5h0M126.5 458.9h0M106.3 361.7h0M189.6 336.9h0M187.2 341.0h0M131.3 390.2h0M125.4 456.3h0M108.5 361.6h0M183.1 411.0h0M152.9 420.4h0M193.4 340.7h0"/>
<path class="o" d="M137.8 307.6h0M173.4 394.4h0M162.2 391.7h0M152.5 371.5h0M189.9 359.2h0M167.7 355.8h0M158.9 428.2h0M121.3 324.0h0M205.5 411.0h0M140.6 389.0h0M172.3 339.1h0M187.5 337.6h0M192.1 379.0h0M104.4 328.5h0M174.2 344.4h0M156.3 376.5h0M154.9 366.1h0M208.8 363.4h0M139.9 315.3h0M148.3 325.0h0M139.4 334.5h0M131.3 362.3h0M135.4 346.6h0M167.9 387.9h0M131.5 356.4h0M137.5 326.7h0M190.8 333.5h0M121.5 305.1h0M178.1 369.2h0M161.8 356.5h0M142.2 387.3h0M146.8 390.2h0M118.5 336.0h0M145.5 386.7h0M133.4 311.9h0M213.3 388.4h0M170.0 372.3h0M144.3 324.8h0M149.0 321.9h0M133.2 342.3h0M149.2 371.4h0M157.8 323.4h0M197.0 374.7h0M177.0 343.9h0M111.8 419.0h0M182.3 363.6h0M172.8 347.9h0M160.6 327.4h0M218.0 395.5h0M127.3 321.9h0M146.9 330.7h0M148.3 359.9h0M153.6 337.3h0M127.3 360.5h0M165.9 363.1h0M162.6 328.3h0M126.5 339.7h0M136.8 391.3h0M174.2 322.2h0M134.2 330.5h0M145.1 369.2h0M130.2 354.6h0M187.1 361.4h0M165.2 325.2h0M154.6 357.1h0M195.7 362.9h0M115.9 340.3h0M127.2 328.1h0M139.2 314.9h0M222.8 355.4h0M110.1 326.0h0M177.6 380.8h0M153.5 393.7h0M132.6 363.5h0M144.7 373.4h0M174.6 352.8h0M128.7 355.0h0M199.5 374.0h0M136.2 339.5h0M123.9 321.6h0M166.8 349.6h0M169.5 351.4h0M132.1 335.3h0M156.2 377.4h0M201.6 346.5h0M168.3 350.4h0M163.0 374.8h0M150.9 328.0h0M108.2 357.2h0M142.5 359.2h0M126.2 344.3h0M141.1 340.8h0M178.6 357.5h0M191.5 402.8h0M119.7 326.9h0M156.5 374.1h0M177.9 342.7h0M137.8 424.8h0M152.9 320.9h0M144.3 364.8h0M167.2 366.1h0M146.5 341.6h0M227.4 364.9h0M148.7 334.8h0M106.3 334.0h0M118.3 413.6h0M185.9 335.5h0M186.3 397.4h0M207.0 366.3h0M161.5 358.2h0M127.5 408.2h0M164.2 328.6h0M132.8 324.2h0M205.6 384.5h0M223.7 370.9h0M147.9 342.7h0M130.7 341.1h0M131.4 317.1h0M119.8 321.6h0M146.2 331.9h0M142.3 393.6h0M140.1 344.3h0M153.7 371.9h0M165.7 354.6h0M230.3 362.8h0M136.6 405.2h0M162.1 340.6h0M103.5 349.2h0M155.0 373.7h0M133.2 313.0h0M164.9 337.1h0M129.6 325.7h0M159.9 394.3h0M207.0 371.7h0M139.8 310.4h0M154.7 374.1h0M137.7 315.9h0M199.1 381.3h0M171.0 335.0h0M141.9 394.0h0M108.9 408.1h0M144.8 323.6h0M147.4 327.5h0M167.6 380.0h0M214.9 385.8h0M145.4 372.1h0M156.6 315.1h0M194.1 353.4h0M112.9 328.0h0M165.3 332.1h0M154.4 349.6h0M147.6 321.6h0M167.5 347.8h0M125.5 310.6h0M98.7 347.8h0M124.0 311.6h0M138.9 340.3h0M128.5 363.6h0M148.4 352.1h0M119.6 415.0h0M131.4 349.2h0M187.3 347.9h0M162.5 321.5h0M192.0 333.7h0M229.9 378.4h0M156.0 376.3h0M142.3 359.9h0M152.9 320.6h0M182.8 362.8h0M161.8 368.3h0M148.8 331.7h0M125.4 306.7h0M146.2 332.2h0M158.1 411.7h0M99.6 345.5h0M136.6 304.9h0M114.5 336.7h0M168.1 322.7h0M113.1 330.7h0M145.9 326.2h0M219.6 384.3h0M224.0 403.8h0M135.0 354.4h0M149.6 366.7h0M184.4 344.9h0M125.6 361.6h0M140.5 309.9h0M150.4 374.0h0M149.3 317.0h0M157.1 376.5h0M151.3 374.8h0M139.5 354.8h0M174.2 346.2h0M157.1 356.7h0M144.7 324.6h0M124.3 353.9h0M113.6 333.1h0M202.1 344.7h0M132.1 311.5h0M123.0 321.7h0M171.0 352.2h0M166.1 320.5h0M150.4 354.1h0M171.2 371.5h0M123.4 344.9h0M159.1 319.0h0M150.8 353.9h0M104.9 332.4h0M157.2 313.6h0M146.6 308.0h0M198.8 342.2h0M117.1 321.8h0M153.0 378.0h0M142.7 366.0h0M171.1 385.7h0M151.3 366.0h0M134.9 341.3h0M101.9 333.0h0M144.9 312.2h0M157.4 343.4h0M198.9 388.3h0M206.4 362.4h0M143.8 313.8h0M137.1 387.9h0M172.3 322.5h0M142.8 357.8h0M142.0 313.7h0M122.3 357.8h0M189.5 338.7h0M121.7 353.3h0M98.8 326.8h0M166.5 340.5h0M175.2 356.0h0M170.3 331.0h0M105.2 347.7h0M203.8 360.7h0M160.3 381.3h0M141.1 397.4h0M195.0 374.4h0M173.6 357.4h0M247.8 388.7h0M190.0 355.0h0M163.8 325.4h0M163.3 340.6h0M167.1 355.7h0M118.5 332.4h0M174.0 359.0h0M102.4 351.8h0M183.2 358.7h0M165.9 365.4h0M149.3 338.1h0M114.1 338.5h0M178.7 346.3h0M132.1 345.2h0M164.4 342.6h0M122.7 400.3h0M135.7 327.8h0M129.6 356.6h0M198.5 353.1h0M166.4 331.3h0M155.7 373.7h0M157.9 313.0h0M133.2 317.0h0M135.4 343.6h0M127.8 341.2h0M168.2 376.8h0M124.4 315.0h0M132.9 308.8h0M155.5 310.5h0M183.0 362.1h0"/>
<path class="b" d="M191.8 329.1h0M104.0 382.7h0M92.9 370.6h0M112.4 380.4h0M154.8 385.1h0M257.9 374.0h0M133.8 424.3h0M118.1 420.4h0M121.9 409.3h0M80.7 390.1h0M134.1 478.1h0M161.0 377.4h0M159.0 399.1h0M127.3 455.3h0M128.0 461.6h0M211.7 411.0h0M144.9 467.7h0M131.3 423.0h0M133.1 408.4h0M81.7 379.5h0M145.1 398.5h0M140.0 410.1h0M209.3 373.6h0M121.0 368.2h0M117.3 432.1h0M140.6 461.9h0M152.4 410.1h0M154.9 387.2h0M148.0 401.5h0M119.3 412.5h0M138.4 465.2h0M219.7 360.3h0M145.8 381.5h0M137.4 461.4h0M133.9 474.9h0M115.1 393.0h0M131.3 466.9h0M203.3 385.0h0M141.3 412.2h0M136.5 451.8h0M96.4 382.6h0M210.8 338.2h0M88.9 387.8h0M151.2 383.4h0M121.4 436.4h0M95.6 375.9h0M97.0 391.7h0M189.9 347.5h0M222.0 353.0h0M178.6 402.1h0M136.7 472.5h0M126.2 413.2h0M135.8 454.3h0M183.2 336.1h0M235.8 352.7h0M157.3 397.3h0M184.0 330.5h0M123.4 428.1h0M144.7 438.4h0M159.8 402.6h0M84.9 366.2h0M119.2 390.0h0M140.6 459.7h0M113.3 368.2h0M153.8 415.8h0M132.7 460.4h0M133.0 376.2h0M162.7 393.0h0M140.3 389.0h0M117.9 425.5h0M85.6 386.7h0M94.5 377.7h0M127.9 412.1h0M179.0 334.1h0M93.5 401.2h0M123.4 386.6h0M122.6 402.5h0M135.6 443.7h0M148.6 458.1h0M216.3 343.0h0M135.8 388.2h0M112.7 372.9h0M137.5 409.9h0M127.7 379.6h0M140.9 438.9h0M120.9 424.2h0M91.9 397.2h0M103.7 392.7h0M125.2 411.9h0M125.0 417.2h0M91.5 381.1h0M227.3 343.9h0M203.6 386.1h0M125.3 429.7h0M148.2 429.5h0M151.8 437.5h0M124.6 439.8h0M144.8 454.0h0M97.1 383.8h0M222.9 334.5h0M207.6 358.7h0M191.0 340.1h0M136.7 397.5h0M104.9 396.0h0M127.2 456.2h0M147.6 370.8h0M166.9 394.8h0M176.2 414.8h0M215.2 341.3h0M133.1 451.2h0M209.9 353.3h0M135.6 478.1h0M203.6 390.5h0M160.8 411.6h0M177.6 332.4h0M181.5 354.9h0M121.1 447.6h0M131.1 407.2h0M177.7 407.7h0M158.1 414.6h0M215.1 334.0h0M130.4 449.3h0M102.4 382.9h0M178.0 399.8h0M80.7 389.2h0M156.0 389.7h0M117.2 413.6h0M144.3 436.0h0M119.9 441.0h0M209.7 348.9h0M83.0 383.6h0M229.9 357.5h0M122.2 364.4h0M194.7 347.1h0M147.2 436.8h0M91.6 373.8h0M138.1 407.9h0M139.6 471.9h0M120.9 372.8h0M149.3 388.9h0M122.1 406.8h0M188.4 339.0h0M95.9 359.2h0M146.3 428.2h0M215.1 352.9h0M132.6 395.6h0M122.0 367.4h0M136.7 465.6h0M125.8 379.6h0M96.6 384.7h0M162.9 403.1h0M136.3 467.5h0M98.2 368.0h0M144.9 387.2h0M124.0 398.4h0M143.0 437.2h0M149.9 384.9h0M133.7 410.6h0M119.9 431.6h0M80.0 377.2h0M128.1 378.0h0M128.3 409.7h0M244.4 380.3h0M208.8 336.6h0M203.7 346.4h0M158.1 395.3h0M178.4 406.3h0M206.9 355.9h0M252.1 376.8h0M213.9 333.0h0M206.8 356.7h0M153.9 399.8h0M138.9 480.2h0M122.8 361.8h0M125.8 459.5h0M124.9 432.6h0M131.3 444.8h0M140.5 460.3h0M160.1 423.8h0M125.6 451.8h0M137.0 470.6h0M139.6 479.2h0M150.8 448.6h0M92.2 393.3h0M147.4 380.1h0M118.4 390.1h0M140.1 449.1h0M117.9 437.3h0M141.8 394.1h0M144.3 431.0h0M133.3 422.4h0M200.3 324.9h0M123.1 406.5h0M117.9 437.0h0M96.5 378.6h0M158.6 405.1h0M136.2 413.5h0M228.7 351.1h0M224.4 335.3h0M129.7 365.1h0M211.0 391.1h0M138.5 396.5h0M138.0 457.8h0M137.5 367.6h0M118.8 383.9h0"/>
<path class="o" d="M124.6 397.6h0M165.6 368.3h0M162.9 375.4h0M200.8 365.9h0M123.4 358.0h0M150.2 326.6h0M165.6 372.3h0M236.8 385.5h0M193.9 348.7h0M174.8 335.8h0M159.5 318.9h0M162.1 330.2h0M238.4 387.2h0M126.9 342.6h0M237.6 382.5h0M171.7 359.9h0M150.9 317.3h0M153.9 348.5h0M215.6 378.7h0M135.5 334.5h0M185.2 373.6h0M162.9 347.9h0M178.5 353.5h0M137.9 379.4h0M165.2 327.4h0M120.2 318.1h0M140.2 385.7h0M139.3 326.9h0M173.7 350.7h0M128.9 346.9h0M169.8 373.0h0M185.5 344.1h0M144.9 365.2h0M123.8 343.6h0M117.7 347.9h0M122.2 419.7h0M164.0 349.9h0M157.7 360.2h0M206.0 352.4h0M147.6 309.4h0M166.4 361.0h0M101.2 333.6h0M190.5 382.7h0M130.4 353.8h0M147.5 360.7h0M129.6 306.5h0M151.9 365.9h0M189.1 349.5h0M132.7 332.6h0M143.9 374.5h0M144.4 314.6h0M140.6 312.2h0M121.4 337.0h0M206.8 369.5h0M106.9 422.6h0M128.8 414.3h0M188.3 329.2h0M145.4 335.2h0M118.8 405.9h0M125.1 340.8h0M128.7 407.8h0M230.1 394.8h0M118.2 337.3h0M182.3 372.0h0M146.4 382.2h0M161.2 332.0h0M120.5 358.3h0M135.7 384.0h0M194.8 374.0h0M136.5 350.1h0M188.1 350.9h0M149.8 310.8h0M120.7 333.0h0M136.2 326.2h0M145.3 347.2h0M150.8 387.2h0M176.2 380.7h0M173.1 373.9h0M141.8 324.0h0M185.9 366.4h0M127.7 309.6h0M171.2 362.2h0M128.0 336.2h0M141.2 417.4h0M132.9 354.2h0M136.4 337.2h0M218.7 367.1h0M195.7 375.4h0M151.9 379.7h0M124.0 323.4h0M124.2 360.7h0M199.7 363.7h0M107.7 320.7h0M164.0 388.8h0M192.5 363.4h0M162.7 375.5h0M189.0 384.4h0M127.2 401.1h0M159.4 345.7h0M149.0 333.3h0M100.0 330.7h0M127.0 335.3h0M181.9 361.4h0M151.3 368.0h0M145.2 348.6h0M124.5 315.5h0M151.4 309.7h0M151.0 394.2h0M132.0 357.6h0M155.0 379.0h0M136.1 339.0h0M171.0 364.8h0M159.2 325.8h0M156.6 377.3h0M122.0 315.8h0M144.5 331.8h0M145.1 327.0h0M149.3 320.6h0M196.9 354.8h0M149.9 322.4h0M145.3 337.4h0M122.9 310.7h0M217.4 363.1h0M117.0 357.2h0M146.8 329.8h0M145.4 365.6h0M151.3 320.2h0M164.0 380.7h0M114.6 321.8h0M125.8 354.4h0M133.0 353.5h0M202.6 368.0h0M124.6 408.8h0M155.2 321.6h0M163.7 359.7h0M184.1 341.8h0M125.8 406.8h0M150.8 312.7h0M126.8 404.4h0M145.8 359.3h0M195.2 350.9h0M164.2 375.0h0M127.2 342.2h0M180.0 337.4h0M115.9 356.3h0M164.9 394.6h0M149.1 332.3h0M190.9 367.3h0M166.4 336.5h0M133.4 398.7h0M204.4 365.2h0M141.1 340.9h0M133.8 398.3h0M159.7 426.0h0M134.3 330.9h0M132.9 351.4h0M148.9 320.5h0M124.6 327.5h0M136.4 321.4h0M160.6 319.7h0M131.8 334.4h0M120.4 329.4h0M153.2 395.5h0M129.7 306.5h0M190.1 346.8h0M158.8 327.7h0M122.1 425.1h0M138.8 371.2h0M189.4 333.4h0M133.5 332.5h0M129.3 318.0h0M135.8 353.4h0M205.9 369.6h0M141.9 306.2h0M151.2 329.1h0M192.6 352.2h0M169.4 394.5h0M169.6 368.7h0M181.2 345.6h0M133.5 337.6h0M96.4 334.0h0M142.4 390.0h0M163.9 336.2h0M133.5 301.6h0M146.9 307.7h0M147.0 363.1h0M136.2 414.1h0M136.0 423.6h0M150.5 325.2h0M174.2 381.8h0M128.6 377.1h0M134.6 394.9h0M187.0 346.4h0M132.8 313.1h0M208.4 364.4h0M115.3 405.3h0M119.8 347.4h0M229.5 367.1h0M105.9 323.0h0M128.7 420.5h0M221.9 386.0h0M132.2 352.5h0M106.2 344.8h0M143.8 389.9h0M154.3 370.4h0M123.7 341.4h0M131.7 363.4h0M123.1 326.5h0M137.5 389.4h0M147.3 318.0h0M174.5 372.5h0M148.3 366.1h0M110.4 348.3h0M144.8 320.0h0M168.7 351.7h0M223.9 368.7h0M145.1 377.9h0M119.7 354.6h0M116.1 346.3h0M115.6 319.7h0M207.0 360.5h0M159.2 365.8h0M144.1 315.7h0M170.3 336.2h0M102.6 351.9h0M124.9 357.6h0M180.1 364.9h0M195.1 348.1h0M137.4 305.8h0M138.0 328.1h0M131.1 313.8h0M183.8 338.4h0M124.8 316.8h0M120.9 346.2h0M179.5 366.2h0M138.9 368.8h0M153.3 330.0h0M162.1 372.6h0M152.9 352.8h0M132.9 418.5h0M218.1 384.6h0M153.2 381.5h0M141.1 320.3h0M188.0 360.6h0M154.2 313.0h0M110.8 397.4h0M142.0 362.5h0M139.1 360.2h0M157.1 325.6h0M164.4 317.5h0M246.1 399.5h0M163.2 397.0h0M147.8 348.0h0M130.3 333.2h0M127.5 316.1h0M152.0 381.4h0M146.6 362.2h0M158.8 325.8h0M149.5 311.4h0M138.7 312.4h0M155.0 317.1h0M119.2 335.7h0M125.9 336.5h0M147.9 382.6h0M157.5 367.5h0M158.8 329.9h0M168.2 334.1h0M207.4 373.3h0M170.0 332.9h0M148.0 363.5h0M129.6 321.3h0M199.9 378.6h0"/>
<path class="b" d="M143.3 391.2h0M129.3 428.9h0M174.8 373.7h0M166.5 389.7h0M191.2 373.0h0M223.3 353.3h0M128.9 458.6h0M143.5 382.4h0M114.0 381.9h0M126.9 466.5h0M139.0 463.3h0M122.7 403.2h0M97.2 388.7h0M136.0 472.1h0M186.9 392.1h0M139.5 412.5h0M97.7 364.4h0M149.3 409.1h0M193.0 404.7h0M144.4 453.9h0M135.9 393.5h0M108.2 359.9h0M224.6 367.5h0M155.2 417.9h0M107.1 386.1h0M116.2 370.8h0M160.3 409.5h0M234.2 353.1h0M129.0 416.7h0M138.9 434.5h0M164.2 390.9h0M105.6 390.0h0M153.6 408.9h0M132.6 464.9h0M235.4 355.2h0M128.0 426.6h0M141.8 443.8h0M118.2 416.5h0M127.1 430.4h0M152.7 416.6h0M208.6 371.8h0M151.5 407.8h0M159.5 390.3h0M164.2 396.1h0M105.6 370.7h0M190.3 348.8h0M184.8 338.0h0M219.7 339.5h0M176.5 326.7h0M91.0 382.2h0M121.9 450.0h0M112.5 386.3h0M192.2 335.7h0M128.9 419.7h0M180.3 334.3h0M122.2 376.2h0M93.5 372.7h0M159.7 391.2h0M128.3 393.3h0M235.5 350.3h0M85.2 363.1h0M128.3 426.3h0M99.8 373.5h0M105.6 387.1h0M141.2 468.1h0M125.1 372.8h0M158.0 394.2h0M128.3 415.2h0M194.0 362.2h0M190.0 367.6h0M160.0 415.1h0M131.2 451.5h0M141.5 395.8h0M180.2 334.7h0M193.9 327.2h0M117.4 373.3h0M128.8 422.9h0M212.1 333.2h0M163.0 392.4h0M188.6 347.8h0M112.8 385.8h0M118.5 415.1h0M130.1 408.4h0M161.1 409.8h0M206.1 393.2h0M125.6 451.5h0M144.6 372.1h0M124.0 460.9h0M129.9 410.8h0M190.0 361.3h0M152.2 394.5h0M253.6 367.9h0M124.3 456.8h0M154.3 410.9h0M76.2 411.7h0M95.2 371.1h0M112.9 363.9h0M140.9 420.4h0M117.2 369.0h0M208.1 354.9h0M146.1 447.9h0M158.2 407.7h0M217.8 362.1h0M136.9 425.6h0M103.7 390.2h0M154.0 415.1h0M136.7 445.3h0M128.5 465.0h0M180.8 371.5h0M219.3 363.4h0M80.3 386.6h0M215.1 399.1h0M106.3 392.0h0M140.4 378.6h0M127.7 375.2h0M208.4 344.4h0M139.7 403.0h0M148.6 387.7h0M131.7 413.4h0M119.5 372.7h0M111.3 373.5h0M151.0 396.8h0M174.9 363.8h0M154.9 380.3h0M133.0 393.0h0M118.7 375.7h0M144.6 393.0h0M139.0 478.0h0M132.7 426.0h0M116.6 430.8h0M115.6 367.2h0M109.8 394.4h0M162.9 414.1h0M141.0 380.5h0M84.5 365.0h0M135.6 372.8h0M122.7 439.9h0M132.3 420.2h0M100.6 375.9h0M136.5 372.2h0M135.3 438.9h0M126.5 438.7h0M136.0 424.7h0M212.3 354.0h0M175.0 328.3h0M123.2 425.9h0M139.0 382.6h0M127.8 435.5h0M96.8 363.7h0M148.0 428.3h0M147.0 436.2h0M248.9 368.4h0M120.7 363.1h0M127.0 467.1h0M167.5 390.5h0M132.5 392.3h0M128.2 440.7h0M100.0 358.2h0M100.0 385.4h0M151.7 439.2h0M136.1 432.5h0M206.0 346.8h0M127.9 397.1h0M210.9 347.0h0M145.8 382.3h0M124.9 399.5h0M136.8 435.1h0M183.4 365.6h0M182.8 354.8h0M141.8 421.5h0M146.1 463.8h0M187.9 398.0h0M97.3 368.5h0M183.2 327.0h0M139.7 371.2h0M200.4 336.1h0M119.9 421.0h0M149.5 421.3h0M126.6 369.3h0M92.7 378.1h0M152.5 397.8h0M140.4 474.8h0M138.5 457.6h0M99.2 377.8h0M152.4 440.6h0M112.2 370.3h0M123.1 426.8h0M103.6 363.4h0M117.0 430.7h0M133.2 445.7h0M197.2 389.8h0M133.8 426.1h0M130.5 390.4h0M122.3 413.9h0M143.2 456.8h0M137.2 441.1h0M202.9 371.2h0M236.5 343.1h0M83.4 383.9h0"/>
<path class="o" d="M153.3 351.4h0M130.3 334.9h0M115.4 333.0h0M196.4 336.7h0M228.0 384.1h0M114.6 343.0h0M116.0 310.0h0M173.3 370.4h0M162.9 383.5h0M112.3 405.6h0M198.9 343.1h0M141.4 343.3h0M171.9 333.9h0M151.8 377.2h0M169.4 363.7h0M126.3 319.9h0M173.2 336.9h0M248.7 384.2h0M155.6 319.9h0M139.0 368.8h0M135.4 391.8h0M159.7 356.5h0M141.3 334.4h0M155.1 342.4h0M140.8 309.6h0M184.5 373.6h0M121.4 395.7h0M222.2 374.1h0M167.0 348.1h0M131.9 336.2h0M131.5 409.4h0M169.8 367.2h0M218.4 361.1h0M166.0 354.9h0M179.5 336.5h0M165.9 352.1h0M138.3 334.3h0M151.3 374.4h0M190.9 330.2h0M179.2 354.5h0M130.7 345.7h0M155.0 365.1h0M108.2 420.3h0M154.4 344.3h0M128.0 343.3h0M175.0 378.7h0M131.2 414.9h0M127.4 335.1h0M141.4 330.1h0M164.6 356.0h0M121.9 343.6h0M158.1 364.9h0M131.8 363.8h0M133.0 322.3h0M148.9 338.6h0M124.4 326.0h0M132.5 384.6h0M146.7 342.6h0M120.8 355.5h0M119.8 317.6h0M182.6 334.3h0M186.7 369.9h0M171.2 369.1h0M113.9 423.4h0M160.7 340.9h0M118.0 342.1h0M158.2 374.3h0M188.1 370.5h0M135.9 326.9h0M147.3 400.8h0M126.6 335.3h0M210.4 366.1h0M103.5 419.0h0M150.6 352.2h0M123.6 309.3h0M121.2 401.2h0M145.2 362.8h0M143.8 322.0h0M166.7 366.1h0M124.5 351.7h0M165.3 360.2h0M213.6 379.6h0M166.4 359.6h0M122.1 340.8h0M172.0 332.4h0M237.9 368.6h0M138.3 329.5h0M134.4 314.5h0M102.2 426.3h0M173.2 325.4h0M167.5 358.8h0M157.9 324.1h0M153.1 385.8h0M130.6 343.6h0M128.7 313.1h0M145.1 346.7h0M153.5 387.3h0M173.6 364.1h0M165.7 389.9h0M175.1 361.1h0M154.6 360.3h0M158.6 357.9h0M179.0 350.8h0M129.1 378.8h0M160.7 334.2h0M191.5 331.0h0M122.2 313.5h0M146.7 320.9h0M154.0 370.6h0M131.2 302.5h0M210.5 385.9h0M179.1 344.4h0M148.2 351.4h0M181.9 346.4h0M135.5 371.2h0M145.3 309.6h0M159.2 367.7h0M156.1 322.3h0M131.7 342.3h0M97.0 342.0h0M194.8 361.7h0M220.3 381.9h0M150.4 430.1h0M142.7 376.8h0M139.4 333.7h0M123.0 334.1h0M151.8 375.3h0M155.6 326.7h0M101.0 431.7h0M149.0 329.1h0M122.4 422.6h0M135.0 387.3h0M166.6 354.2h0M160.2 351.7h0M143.8 354.7h0M152.7 340.4h0M126.8 363.3h0M194.9 352.3h0M155.5 390.8h0M117.8 347.7h0M171.2 333.4h0M166.3 318.9h0M163.2 320.6h0M146.0 357.9h0M171.1 364.9h0M173.1 329.3h0M125.3 425.2h0M139.3 323.9h0M135.4 349.7h0M120.8 318.9h0M144.3 367.5h0M126.5 362.3h0M151.0 340.1h0M209.4 351.8h0M132.7 366.8h0M163.5 339.7h0M148.3 312.3h0M125.0 331.2h0M164.2 333.3h0M112.7 341.4h0M135.3 334.9h0M203.1 362.6h0M133.7 401.7h0M174.4 392.1h0M191.0 356.1h0M115.2 334.6h0M195.6 364.0h0M151.1 316.6h0M179.3 350.1h0M152.1 379.3h0M125.1 358.6h0M129.0 322.6h0M133.8 302.9h0M203.9 362.5h0M138.2 305.3h0M142.8 342.1h0M174.3 353.1h0M168.2 347.4h0M101.0 411.5h0M118.5 393.8h0M157.9 327.9h0M127.1 362.3h0M191.6 364.4h0M169.5 355.2h0M98.1 345.4h0M131.5 398.1h0M121.8 347.2h0M121.2 411.9h0M106.7 322.8h0M100.6 352.9h0M121.6 341.6h0M131.4 308.1h0M134.6 370.0h0M161.1 310.2h0M206.8 383.1h0M128.5 324.5h0M150.6 354.8h0M127.4 355.2h0M209.3 353.0h0M170.0 384.5h0M139.0 367.9h0M140.1 361.4h0M96.7 349.7h0M165.1 334.8h0M202.9 357.0h0M139.0 378.7h0M155.8 370.9h0M179.7 359.0h0M140.0 312.4h0M137.6 334.3h0M213.2 372.0h0M187.9 337.7h0M203.4 376.3h0M154.4 320.0h0M126.6 344.2h0M123.3 417.7h0M123.0 331.6h0M134.3 313.2h0M156.1 366.7h0M102.4 329.6h0M172.2 348.3h0M138.8 385.8h0M158.7 310.4h0M142.9 361.3h0M174.3 349.8h0M189.1 342.7h0M189.2 357.3h0M122.9 336.0h0M109.2 400.4h0M150.8 388.9h0M136.3 321.4h0M142.7 367.4h0M119.9 316.5h0M177.3 376.2h0M173.6 350.1h0M163.6 343.7h0M191.5 374.4h0M159.7 311.1h0M124.3 392.9h0M155.8 323.9h0M154.3 315.2h0M138.9 318.3h0M164.6 322.7h0M174.8 343.7h0M226.2 362.8h0M169.5 324.4h0M122.9 397.2h0M146.6 342.9h0M130.9 317.7h0M162.8 349.4h0M121.4 406.4h0M187.1 376.6h0M124.0 355.3h0M147.9 332.1h0M161.0 324.2h0M152.5 371.6h0M189.8 384.9h0M144.2 351.8h0M106.7 333.2h0M155.5 315.7h0M100.4 344.1h0M120.6 344.8h0M125.7 335.2h0M156.4 315.0h0M128.9 333.9h0M134.9 330.6h0M147.6 324.3h0M172.7 346.1h0M124.6 350.1h0M148.9 364.4h0M145.0 336.5h0M185.9 349.2h0M131.6 300.2h0M125.8 338.5h0M200.5 348.3h0M233.2 370.1h0M167.1 365.3h0M147.1 345.0h0"/>
<path class="b" d="M218.2 358.1h0M130.4 454.7h0M131.0 460.9h0M132.5 437.9h0M128.8 397.8h0M131.3 473.4h0M138.8 451.8h0M124.4 385.2h0M96.7 380.6h0M142.1 435.7h0M153.5 411.7h0M124.3 457.4h0M123.8 394.3h0M249.3 370.7h0M149.0 431.8h0M111.8 378.2h0M154.8 394.6h0M137.7 420.6h0M124.3 452.5h0M137.0 475.5h0M198.6 342.1h0M180.0 340.1h0M231.8 354.4h0M167.9 407.3h0M159.2 399.9h0M126.8 463.5h0M161.6 379.0h0M256.2 378.8h0M227.7 384.5h0M225.6 382.1h0M114.1 363.8h0M138.9 440.1h0M179.2 377.5h0M120.3 428.1h0M129.0 399.0h0M83.3 362.3h0M255.5 367.1h0M150.7 423.3h0M137.9 390.2h0M205.2 344.5h0M205.5 370.2h0M83.2 389.2h0M145.5 412.4h0M137.2 447.3h0M119.9 446.8h0M193.9 343.3h0M147.4 438.5h0M212.0 338.0h0M103.5 382.5h0M101.8 367.0h0M210.4 336.5h0M156.4 403.3h0M92.6 378.8h0M210.4 352.2h0M149.9 445.0h0M149.5 397.8h0M140.3 391.8h0M122.6 428.7h0M95.1 403.5h0M135.4 436.6h0M138.2 446.2h0M148.8 399.7h0M165.1 392.9h0M154.9 417.8h0M182.5 355.3h0M204.7 332.7h0M113.1 388.0h0M137.2 437.5h0M185.2 326.8h0M156.2 390.3h0M182.3 360.3h0M146.5 421.2h0M145.5 451.5h0M129.5 444.6h0M131.3 453.4h0M141.5 438.9h0M131.8 369.4h0M217.1 354.4h0M132.9 423.8h0M153.0 440.6h0M163.8 389.7h0M222.3 375.2h0M150.0 419.7h0M140.4 395.4h0M131.3 413.2h0M121.6 366.7h0M148.9 386.1h0M214.5 340.3h0M220.1 360.4h0M120.2 406.9h0M136.1 453.5h0M143.5 436.8h0M88.7 382.9h0M226.9 353.7h0M120.1 437.3h0M113.8 394.5h0M227.6 361.2h0M116.9 388.3h0M195.5 397.0h0M93.2 374.8h0M117.5 420.4h0M93.0 371.3h0M92.9 394.2h0M216.4 376.4h0M126.4 447.1h0M246.5 372.8h0M92.5 384.8h0M156.7 379.7h0M130.7 464.6h0M119.5 416.5h0M98.0 373.4h0M155.7 418.3h0M104.8 370.8h0M140.9 414.7h0M121.0 380.4h0M209.4 335.7h0M87.0 385.1h0M130.9 372.0h0M118.7 429.4h0M151.0 427.7h0M102.1 388.0h0M139.7 464.7h0M122.6 401.3h0M159.2 417.9h0M167.6 393.9h0M144.8 423.9h0M224.3 350.9h0M133.5 370.3h0M108.7 363.9h0M94.9 360.7h0M146.0 386.0h0M131.1 415.4h0M127.3 417.7h0M201.4 395.6h0M230.6 363.6h0M104.1 394.5h0M116.4 389.1h0M77.8 367.2h0M105.6 376.5h0M228.1 354.5h0M151.5 413.8h0M231.9 353.5h0M216.6 345.9h0M213.6 335.3h0M143.1 468.8h0M139.8 423.0h0M113.7 382.3h0M78.9 394.4h0M197.3 362.4h0M133.6 477.4h0M83.4 362.7h0M177.0 385.2h0M135.1 453.5h0M153.1 374.1h0M115.7 381.9h0M89.1 392.4h0M151.4 400.9h0M117.2 363.2h0M197.0 359.9h0M122.5 404.4h0M140.8 396.8h0M148.5 437.8h0M205.8 371.7h0M212.0 332.8h0M138.5 454.5h0M140.5 469.2h0M95.5 366.8h0M149.0 419.8h0M155.0 398.5h0M115.6 374.0h0M135.4 434.6h0M141.3 437.9h0M183.7 337.8h0M107.4 369.0h0M142.0 392.5h0M145.6 399.2h0M137.6 449.2h0M158.3 428.4h0M224.6 346.4h0M139.5 410.0h0M133.6 455.9h0M133.5 436.0h0M128.2 400.8h0M121.8 375.7h0M190.0 384.8h0M131.2 372.2h0M134.3 455.5h0M111.3 364.6h0M92.5 388.5h0M131.5 408.4h0M96.8 357.0h0M233.1 354.6h0M213.1 357.0h0M133.4 456.6h0M104.6 375.2h0M145.2 450.6h0M152.2 398.1h0M119.8 366.8h0M136.4 459.9h0M130.0 395.5h0M165.7 398.9h0M175.4 337.5h0M118.5 417.0h0M142.2 428.3h0M124.2 384.2h0M159.8 406.2h0M178.1 375.7h0M161.7 388.6h0M101.8 363.0h0M140.8 391.7h0M142.0 371.9h0"/>
<path class="o" d="M119.4 342.0h0M141.0 341.2h0M112.4 422.4h0M132.1 364.2h0M165.2 316.7h0M233.0 375.7h0M188.9 366.1h0M146.2 369.9h0M165.3 331.5h0M154.1 352.1h0M147.2 394.0h0M149.0 376.3h0M214.0 348.3h0M137.7 356.6h0M133.4 356.8h0M159.4 381.4h0M138.2 309.2h0M123.3 322.3h0M158.7 360.4h0M159.6 346.5h0M135.7 353.4h0M117.4 324.8h0M249.9 388.3h0M135.2 358.3h0M165.7 381.4h0M161.7 375.8h0M158.3 345.8h0M221.0 361.3h0M106.3 323.4h0M140.5 363.0h0M160.9 369.9h0M125.5 330.4h0M134.2 303.4h0M134.7 315.8h0M223.1 371.2h0M181.6 361.4h0M158.2 322.7h0M228.6 381.4h0M161.2 318.6h0M149.5 394.5h0M133.0 327.7h0M147.5 313.5h0M105.4 343.7h0M165.9 322.3h0M176.1 355.6h0M165.8 321.4h0M107.3 318.8h0M139.4 361.8h0M181.1 325.4h0M132.1 358.1h0M138.7 429.0h0M155.5 406.6h0M135.5 341.1h0M105.9 331.9h0M128.2 326.0h0M180.1 380.4h0M184.2 366.2h0M155.1 410.6h0M130.5 366.4h0M131.7 373.2h0M183.1 371.4h0M140.3 325.1h0M189.0 360.4h0M150.8 365.7h0M145.7 317.4h0M158.9 392.8h0M211.5 361.4h0M193.8 364.9h0M153.8 351.3h0M161.2 355.1h0M131.1 311.9h0M118.9 316.1h0M228.4 373.0h0M130.9 331.6h0M166.9 367.5h0M217.9 377.7h0M133.8 364.7h0M120.0 350.6h0M155.5 346.6h0M159.3 324.6h0M116.6 339.8h0M166.6 392.8h0M178.8 374.0h0M103.7 417.4h0M190.7 360.4h0M113.8 322.7h0M128.7 327.1h0M206.3 350.9h0M138.6 368.2h0M99.5 325.2h0M156.1 389.2h0M198.5 389.3h0M188.5 373.4h0M217.3 380.5h0M154.1 357.7h0M156.8 357.1h0M141.3 309.7h0M205.5 364.9h0M160.5 328.1h0M152.4 370.8h0M155.2 334.6h0M203.9 349.6h0M113.2 326.4h0M180.6 375.4h0M240.0 383.3h0M208.9 370.2h0M148.6 313.2h0M130.7 322.1h0M146.2 337.7h0M153.5 351.8h0M132.3 360.8h0M104.0 344.7h0M122.3 318.7h0M181.6 363.5h0M139.2 320.2h0M187.0 348.4h0M128.3 329.1h0M196.3 332.1h0M166.3 378.3h0M133.2 358.7h0M123.9 405.1h0M251.0 384.9h0M165.4 353.8h0M140.2 304.9h0M143.2 335.2h0M246.5 382.2h0M199.3 364.2h0M171.6 359.1h0M132.9 341.3h0M168.7 353.0h0M134.1 298.4h0M154.3 314.3h0M135.3 426.6h0M166.2 327.5h0M128.0 337.8h0M118.1 317.8h0M118.5 420.7h0M143.3 348.7h0M148.4 333.4h0M169.9 343.8h0M145.6 335.5h0M129.0 363.3h0M102.6 409.2h0M129.1 343.5h0M210.2 368.2h0M208.4 387.2h0M118.2 317.6h0M141.1 372.6h0M159.3 378.5h0M131.5 350.4h0M154.8 395.9h0M141.8 334.3h0M152.3 336.1h0M181.2 377.6h0M142.2 317.2h0M127.3 301.5h0M181.0 359.4h0M166.2 391.6h0M167.1 362.8h0M180.8 346.6h0M164.5 426.3h0M165.9 376.8h0M112.0 331.2h0M157.9 350.3h0M117.1 327.4h0M168.3 335.3h0M179.3 366.2h0M157.6 348.0h0M106.7 334.6h0M205.4 358.4h0M147.4 360.8h0M163.8 347.4h0M128.8 303.0h0M111.0 330.4h0M156.0 360.6h0M140.6 303.7h0M136.0 306.9h0M141.8 325.9h0M154.6 352.0h0M134.3 399.5h0M163.9 367.4h0M153.8 340.2h0M144.3 375.8h0M121.7 409.0h0M150.5 355.9h0M130.6 323.6h0M134.8 388.8h0M181.2 369.1h0M134.2 338.7h0M139.5 338.6h0M200.8 373.2h0M158.9 348.3h0M205.8 346.6h0M142.8 335.3h0M167.6 358.1h0M142.6 346.2h0M173.4 375.2h0M194.5 375.6h0M124.9 330.1h0M192.4 331.9h0M177.2 369.1h0M145.2 313.6h0M134.9 363.3h0M184.4 343.6h0M118.6 335.9h0M157.0 334.9h0M134.8 343.0h0M144.6 303.4h0M151.0 307.3h0M157.0 349.9h0M124.4 333.7h0M124.6 331.5h0M153.6 340.1h0M170.2 338.7h0M160.0 330.3h0M122.4 357.2h0M172.5 368.5h0M114.2 349.6h0M151.8 315.6h0M119.5 346.9h0M117.1 334.4h0M112.9 401.9h0M144.8 360.1h0M145.8 305.7h0M213.5 392.4h0M190.2 349.0h0M141.0 332.6h0M199.2 341.0h0M206.3 360.6h0M169.2 395.1h0M154.8 418.8h0M106.4 349.6h0M136.8 322.3h0M105.8 404.4h0M138.7 305.4h0M136.0 340.9h0M133.4 353.1h0M142.6 375.5h0M118.6 334.7h0M123.1 336.1h0M178.2 328.8h0M194.3 378.1h0M154.8 343.5h0M175.2 355.8h0M133.3 326.3h0M186.0 340.4h0M140.8 307.7h0M170.5 351.4h0M150.5 311.9h0M148.6 360.9h0M119.8 335.7h0M118.6 316.7h0M119.7 402.2h0M114.4 350.9h0M212.7 348.0h0M168.4 364.8h0M192.8 383.6h0M138.6 350.1h0M108.2 401.6h0M201.5 350.7h0M154.2 354.2h0M191.8 337.8h0M167.8 377.9h0M145.5 369.0h0M128.4 303.4h0M130.6 344.2h0"/>
<path class="b" d="M213.4 387.6h0M122.8 409.4h0M140.0 398.1h0M178.9 343.1h0M148.7 417.0h0M121.1 414.7h0M128.6 429.6h0M124.7 436.7h0M120.9 422.5h0M88.8 364.3h0M143.5 444.1h0M86.0 365.7h0M194.5 349.2h0M148.0 391.3h0M99.7 367.3h0M150.1 442.6h0M153.7 428.2h0M129.7 391.1h0M92.0 387.5h0M131.9 397.4h0M105.8 385.6h0M76.3 386.9h0M136.1 382.1h0M132.0 450.4h0M148.3 400.7h0M148.6 444.3h0M213.2 349.1h0M157.3 411.5h0M243.9 376.3h0M115.3 379.8h0M145.0 432.0h0M212.1 354.6h0M125.1 361.7h0M139.0 451.6h0M151.9 450.6h0M100.0 386.7h0M154.9 424.7h0M87.9 380.3h0M132.0 466.8h0M131.8 463.4h0M126.2 370.0h0M203.1 345.3h0M126.8 430.5h0M115.0 369.8h0M147.0 406.0h0M127.2 400.4h0M152.7 430.4h0M135.0 454.8h0M196.4 345.6h0M147.4 421.0h0M112.5 317.0h0M150.4 412.8h0M137.4 439.9h0M122.1 401.6h0M126.9 378.6h0M126.4 427.6h0M137.4 481.6h0M139.4 373.0h0M159.0 390.4h0M141.8 455.8h0M177.9 361.1h0M130.5 398.1h0M148.9 404.2h0M177.1 327.4h0M135.5 409.1h0M221.3 351.2h0M97.5 394.4h0M163.8 416.6h0M134.5 438.7h0M155.0 414.2h0M224.5 367.7h0M148.8 388.6h0M121.5 410.1h0M125.6 402.7h0M141.6 442.8h0M205.6 338.7h0M112.3 394.4h0M231.7 346.0h0M111.1 377.4h0M84.5 364.8h0M157.2 407.7h0M124.3 426.1h0M205.9 343.8h0M125.6 444.4h0M145.7 463.4h0M157.4 380.4h0M107.9 372.2h0M159.1 390.3h0M139.4 418.8h0M101.0 382.1h0M216.1 347.4h0M156.9 375.4h0M137.4 375.9h0M143.4 381.9h0M149.7 442.1h0M91.5 378.2h0M153.1 401.2h0M198.9 352.9h0M222.8 357.5h0M205.5 341.2h0M218.2 354.9h0M124.3 441.6h0M153.2 441.4h0M95.1 386.8h0M148.0 416.4h0M126.3 425.6h0M162.8 375.3h0M116.6 387.0h0M136.1 443.8h0M156.5 406.8h0M152.5 388.1h0M83.8 360.9h0M173.6 394.5h0M151.3 421.9h0M124.1 376.7h0M149.9 414.8h0M97.5 367.8h0M127.0 415.7h0M141.5 425.9h0M118.6 383.5h0M210.5 338.3h0M165.3 406.5h0M126.3 397.1h0M112.3 367.1h0M176.1 416.0h0M203.1 335.8h0M207.0 334.7h0M122.5 436.9h0M151.2 404.0h0M90.5 387.0h0M91.3 362.2h0M147.6 383.1h0M207.0 336.0h0M156.2 391.1h0M122.5 422.3h0M122.5 415.9h0M131.5 371.6h0M197.3 336.2h0M163.9 392.4h0M129.2 403.8h0M129.7 469.9h0M121.1 364.8h0M93.2 373.2h0M148.7 443.5h0M103.9 371.9h0M190.3 337.1h0M121.2 420.5h0M106.6 380.7h0M205.4 333.5h0M166.4 399.8h0M96.5 365.2h0M133.0 447.4h0M140.1 468.9h0M93.4 374.2h0M127.0 401.6h0M126.5 397.1h0M114.8 425.5h0M137.7 441.1h0M152.7 409.2h0M156.5 392.8h0M148.1 389.9h0M92.2 372.9h0M143.6 450.0h0M132.7 431.1h0M98.2 388.8h0M92.9 397.5h0M129.0 455.0h0M136.7 452.5h0M134.1 418.9h0M136.7 479.2h0M102.6 373.9h0M157.6 399.1h0M172.9 390.1h0M84.8 371.1h0M160.9 391.5h0M139.1 462.5h0M151.9 426.0h0M197.6 386.1h0M81.5 398.9h0M144.5 398.6h0M102.7 363.3h0M130.1 454.4h0M89.0 367.7h0M124.6 367.4h0M96.8 371.4h0M190.1 327.1h0M151.3 420.3h0M183.4 386.5h0M128.0 420.4h0M176.0 406.5h0M208.3 332.2h0M129.2 452.8h0M199.3 339.4h0M93.8 361.8h0M124.4 433.8h0M92.4 358.4h0M161.2 378.0h0M102.3 387.8h0M91.7 391.7h0M119.8 386.4h0M189.2 389.8h0M95.3 375.7h0M220.5 352.5h0M108.9 358.1h0M159.2 376.3h0M179.3 386.8h0M197.2 344.2h0M233.4 348.4h0M196.4 366.4h0M129.0 395.9h0M135.7 409.1h0M136.5 471.8h0M120.0 412.3h0M150.5 406.8h0"/>
<path class="o" d="M155.5 374.8h0M113.8 418.5h0M147.8 318.9h0M140.1 339.2h0M122.7 323.9h0M213.8 367.0h0M156.3 320.6h0M146.0 325.9h0M142.2 335.6h0M203.5 384.0h0M122.8 329.2h0M135.2 326.2h0M158.1 376.2h0M116.8 391.1h0M159.4 337.6h0M174.7 358.2h0M158.1 375.0h0M184.9 337.3h0M147.2 310.7h0M169.2 380.4h0M165.3 328.9h0M189.5 358.7h0M97.1 352.7h0M139.8 383.3h0M148.1 340.7h0M106.9 358.2h0M154.2 310.5h0M148.7 304.2h0M174.4 366.4h0M218.6 380.0h0M158.4 388.4h0M135.1 318.0h0M210.5 377.3h0M111.9 400.6h0M168.6 338.9h0M141.5 361.7h0M125.0 425.3h0M164.8 370.5h0M148.8 413.4h0M147.1 333.3h0M129.2 339.8h0M170.6 375.4h0M108.4 335.6h0M161.6 376.6h0M132.6 321.7h0M145.0 318.7h0M117.1 344.8h0M142.7 309.5h0M210.2 376.8h0M133.3 390.6h0M94.0 342.8h0M158.7 338.9h0M204.7 356.3h0M206.7 378.4h0M218.7 367.3h0M140.6 355.8h0M223.2 377.8h0M171.9 339.4h0M128.0 321.4h0M125.3 359.5h0M131.2 336.8h0M242.1 391.0h0M198.4 355.8h0M150.6 364.9h0M174.8 342.8h0M140.7 335.2h0M190.7 363.8h0M150.9 393.2h0M150.0 347.3h0M147.7 346.6h0M141.1 300.9h0M129.0 349.1h0M179.1 355.9h0M139.0 348.0h0M164.4 356.7h0M105.0 418.4h0M194.9 378.2h0M216.7 366.7h0M201.1 350.8h0M144.2 312.7h0M141.7 330.8h0M142.3 362.5h0M124.1 362.6h0M160.4 367.1h0M151.1 317.8h0M187.8 347.9h0M136.8 357.3h0M163.4 366.1h0M152.4 329.7h0M134.2 357.5h0M131.6 320.8h0M197.8 359.6h0M121.4 408.1h0M177.0 368.3h0M149.7 366.4h0M160.9 358.6h0M116.6 341.1h0M188.5 356.6h0M125.3 308.2h0M158.1 358.0h0M132.5 301.8h0M128.9 346.3h0M166.8 396.9h0M153.3 374.3h0M177.6 341.7h0M156.2 349.4h0M165.7 331.2h0M133.7 310.6h0M134.6 339.8h0M119.5 352.9h0M131.3 385.3h0M147.0 339.6h0M245.5 404.2h0M138.3 352.2h0M181.0 331.5h0M170.0 362.3h0M159.4 309.4h0M131.2 399.8h0M127.2 361.2h0M122.9 308.2h0M147.8 359.7h0M228.6 376.7h0M151.3 329.9h0M154.8 352.6h0M157.8 354.7h0M149.0 313.6h0M109.7 356.1h0M142.3 319.5h0M165.0 384.4h0M145.3 310.3h0M147.2 336.0h0M109.6 317.8h0M150.2 362.6h0M172.6 348.3h0M163.4 341.5h0M159.2 368.1h0M166.9 377.3h0M125.3 342.5h0M128.7 314.6h0M165.0 356.2h0M132.2 343.9h0M159.3 349.2h0M182.8 344.0h0M134.3 387.5h0M122.6 341.4h0M166.6 361.0h0M125.4 398.4h0M123.5 311.9h0M148.8 371.4h0M163.7 382.2h0M162.6 346.4h0M122.9 405.5h0M122.6 312.0h0M105.9 327.3h0M170.5 376.2h0M113.9 345.4h0M218.8 372.2h0M139.4 369.2h0M201.3 349.4h0M120.6 402.6h0M135.2 311.7h0M153.7 348.9h0M136.0 392.2h0M136.3 388.7h0M122.8 327.7h0M161.9 329.6h0M136.0 354.3h0M242.8 381.5h0M97.7 354.9h0M158.5 375.7h0M188.6 339.4h0M107.9 356.5h0M206.9 358.1h0M151.5 351.7h0M174.6 367.4h0M165.1 345.5h0M211.0 369.8h0M126.3 322.4h0M119.9 343.6h0M188.5 337.7h0M128.9 301.7h0M123.9 311.3h0M151.1 373.5h0M145.3 312.6h0M188.9 372.9h0M146.2 322.2h0M172.7 368.3h0M144.8 338.3h0M212.8 357.8h0M143.4 307.5h0M127.9 305.9h0M135.6 324.5h0M161.6 325.7h0M126.7 304.6h0M122.9 326.2h0M137.2 304.6h0M122.8 353.9h0M146.4 329.5h0M185.5 341.7h0M203.5 367.1h0M154.1 318.7h0M135.3 338.7h0M148.0 329.7h0M159.1 344.1h0M189.9 377.6h0M122.6 359.4h0M158.5 367.6h0M134.6 334.9h0M165.3 355.0h0M146.1 330.0h0M151.3 345.6h0M146.4 349.9h0M152.8 387.8h0M141.2 334.4h0M191.9 346.0h0M155.2 330.7h0M135.3 364.8h0M157.4 336.8h0M148.2 320.3h0M178.9 325.8h0M134.9 340.8h0M202.8 368.0h0M150.0 305.1h0M205.7 354.0h0M153.1 347.0h0M120.3 324.6h0M157.8 372.1h0M208.0 397.5h0M161.6 330.4h0M172.5 331.3h0M115.7 342.3h0M126.6 310.6h0M199.1 345.1h0M207.4 341.8h0M119.2 346.4h0M146.0 370.6h0M131.4 301.8h0M203.0 376.5h0M124.6 342.5h0M130.9 314.3h0M144.6 318.3h0M211.7 378.6h0M136.7 315.2h0M133.2 326.4h0M142.5 326.2h0M144.2 361.9h0M129.6 362.8h0M157.0 369.5h0M117.5 332.6h0M128.1 342.7h0M161.1 325.3h0M102.2 338.6h0M110.0 438.0h0M209.5 359.3h0M121.6 416.6h0M151.8 323.4h0M159.5 319.2h0M103.7 349.0h0M246.3 383.5h0M140.4 322.4h0M166.8 385.6h0M140.5 366.7h0M176.8 376.4h0"/>
<path class="b" d="M91.6 371.1h0M136.0 434.6h0M110.4 381.5h0M222.1 394.1h0M132.4 381.6h0M144.3 418.2h0M138.3 399.8h0M93.6 361.1h0M223.1 359.1h0M231.5 364.7h0M136.0 459.6h0M121.1 434.1h0M200.4 367.1h0M110.9 378.4h0M132.4 387.0h0M105.5 367.4h0M138.6 457.6h0M140.0 371.7h0M128.6 373.8h0M129.6 419.2h0M135.4 390.1h0M88.4 389.7h0M139.1 479.1h0M152.9 421.0h0M141.3 472.4h0M143.8 460.3h0M118.8 383.3h0M123.3 442.7h0M100.6 367.5h0M121.1 414.3h0M241.1 362.6h0M121.4 379.3h0M152.5 413.5h0M126.8 454.5h0M150.1 448.6h0M124.9 435.6h0M184.2 327.8h0M142.7 407.8h0M180.5 341.4h0M180.6 407.9h0M125.1 456.9h0M130.5 384.0h0M142.1 477.3h0M93.5 369.0h0M150.1 390.3h0M117.6 429.6h0M149.5 433.3h0M145.3 436.4h0M129.9 443.3h0M150.1 384.1h0M157.5 392.6h0M103.6 384.5h0M143.1 419.7h0M109.0 380.0h0M93.7 396.4h0M103.5 380.0h0M130.2 397.9h0M136.2 466.5h0M146.8 426.3h0M138.9 439.9h0M79.4 385.7h0M148.3 423.0h0M148.9 371.1h0M144.7 446.4h0M148.5 455.5h0M187.7 330.8h0M144.9 409.8h0M156.6 411.1h0M143.3 411.2h0M116.1 390.6h0M141.3 409.3h0M223.2 346.7h0M122.1 392.7h0M90.2 388.5h0M132.0 445.0h0M123.5 420.5h0M195.7 328.3h0M210.1 343.3h0M155.6 390.3h0M103.8 367.3h0M135.0 396.2h0M152.1 408.5h0M213.6 367.1h0M134.6 429.4h0M219.9 360.2h0M120.7 410.8h0M182.2 394.1h0M138.9 431.4h0M221.2 367.7h0M148.1 433.1h0M147.8 387.9h0M137.4 473.1h0M144.4 447.9h0M225.8 341.9h0M145.8 460.9h0M158.4 394.8h0M114.9 384.0h0M247.5 379.6h0M130.6 400.7h0M89.4 358.9h0M134.9 446.5h0M169.4 384.3h0M134.5 421.1h0M148.7 394.2h0M185.9 331.9h0M117.7 423.7h0M119.9 430.6h0M118.5 387.8h0M142.3 378.3h0M112.6 378.7h0M118.6 372.4h0M118.2 364.0h0M198.1 364.6h0M132.2 447.8h0M150.0 407.0h0M151.3 444.9h0M240.3 371.4h0M130.5 392.4h0M92.8 380.1h0M153.2 446.3h0M132.2 440.1h0M123.3 429.9h0M211.7 403.0h0M153.0 422.9h0M121.1 378.4h0M88.4 365.9h0M133.5 422.1h0M145.6 447.0h0M139.9 482.8h0M232.5 355.8h0M153.6 402.2h0M106.7 387.5h0M132.7 394.5h0M134.7 408.2h0M223.1 360.1h0M143.0 458.0h0M180.0 397.7h0M199.3 344.0h0M138.0 455.1h0M97.1 394.3h0M188.7 364.4h0M121.3 389.4h0M111.7 372.7h0M144.2 460.3h0M193.9 328.3h0M226.4 355.5h0M154.0 420.2h0M146.7 437.0h0M129.2 443.4h0M130.2 386.6h0M164.0 397.9h0M229.8 345.9h0M147.8 442.3h0M132.8 411.8h0M133.2 370.2h0M128.6 459.5h0M138.9 452.0h0M94.9 371.4h0M201.6 352.3h0M117.1 372.7h0M156.6 392.1h0M226.7 342.1h0M179.6 327.5h0M104.5 379.0h0M133.6 384.3h0M161.2 377.8h0M142.9 455.6h0M206.0 328.4h0M207.6 350.3h0M217.9 345.2h0M203.8 337.4h0M155.6 400.5h0M209.9 331.3h0M135.2 430.5h0M94.8 362.3h0M110.3 382.4h0M133.2 393.9h0M146.6 422.3h0M87.7 362.0h0M212.3 350.9h0M137.9 453.7h0M132.9 393.5h0M152.2 437.2h0M187.0 391.8h0M139.3 383.3h0M84.2 390.3h0M97.4 397.5h0M139.9 390.2h0M142.2 395.8h0M102.7 385.6h0M143.1 421.0h0M186.7 406.0h0M113.1 389.7h0M196.7 366.7h0M123.2 394.4h0M109.0 362.1h0M204.5 347.8h0M132.8 421.6h0M165.5 418.1h0M241.2 363.4h0M89.3 386.0h0M144.4 462.7h0M117.2 433.7h0M121.9 413.3h0M197.7 353.3h0M134.1 437.7h0M218.0 345.9h0M124.5 463.5h0M130.6 450.6h0M157.6 402.4h0M161.6 422.0h0M153.0 409.0h0M198.8 343.4h0M140.8 431.1h0"/>
<path class="o" d="M120.1 332.0h0M155.5 373.4h0M226.5 376.2h0M197.1 386.4h0M139.6 368.3h0M144.3 334.4h0M150.6 349.3h0M142.0 308.8h0M121.2 358.5h0M126.5 357.7h0M160.5 391.2h0M115.3 323.3h0M155.4 345.5h0M159.1 353.6h0M150.8 348.1h0M127.1 323.2h0M156.1 383.4h0M145.2 368.0h0M135.0 349.6h0M134.7 366.3h0M131.3 363.6h0M122.1 334.7h0M230.5 379.8h0M152.3 380.0h0M209.0 373.1h0M155.1 368.8h0M130.9 362.8h0M161.4 369.2h0M130.0 323.3h0M162.3 366.8h0M182.8 394.0h0M173.1 365.7h0M134.7 324.1h0M162.0 426.0h0M141.6 370.6h0M219.4 370.1h0M122.1 335.5h0M171.8 335.5h0M147.9 344.2h0M183.8 371.0h0M163.9 399.9h0M227.2 380.5h0M130.2 309.7h0M137.1 343.9h0M149.6 369.7h0M163.5 372.2h0M132.4 332.8h0M157.6 310.0h0M214.9 354.4h0M172.6 376.1h0M158.3 313.1h0M133.3 359.3h0M129.1 361.2h0M169.7 328.3h0M125.2 323.0h0M233.6 379.3h0M142.4 331.7h0M157.7 363.9h0M140.8 312.1h0M167.9 346.1h0M180.5 352.7h0M128.6 367.2h0M136.5 355.0h0M177.0 346.6h0M145.4 304.3h0M136.1 316.8h0M133.2 349.4h0M124.2 307.0h0M101.3 335.4h0M141.4 356.1h0M148.7 356.5h0M148.8 323.1h0M196.6 344.9h0M124.8 322.9h0M133.9 347.5h0M142.6 335.1h0M200.5 351.5h0M136.4 301.0h0M141.8 333.9h0M128.6 331.6h0M170.0 393.7h0M169.3 325.8h0M166.3 359.5h0M100.6 354.9h0M172.0 330.6h0M128.4 370.2h0M148.2 346.5h0M216.1 368.2h0M122.3 345.4h0M138.9 305.8h0M158.4 387.2h0M151.6 342.2h0M162.9 358.8h0M161.2 312.1h0M108.3 321.9h0M129.4 319.1h0M143.1 325.3h0M104.9 356.9h0M181.5 346.6h0M114.7 320.7h0M148.3 318.8h0M190.1 354.8h0M138.0 339.8h0M113.9 349.7h0M101.7 341.0h0M97.9 333.5h0M169.7 366.4h0M142.0 322.5h0M176.2 365.0h0M121.3 345.7h0M151.7 378.8h0M163.9 322.1h0M160.5 381.8h0M150.1 347.5h0M143.0 312.9h0M164.4 336.7h0M184.3 347.5h0M169.1 335.1h0M153.1 357.9h0M107.0 322.9h0M190.0 333.4h0M147.6 347.8h0M174.0 363.9h0M137.0 312.3h0M203.5 378.0h0M114.9 414.6h0M236.1 368.4h0M158.7 332.7h0M143.7 344.1h0M121.0 332.0h0M169.3 361.2h0M191.8 384.5h0M193.9 363.9h0M124.7 367.4h0M106.6 357.0h0M347.6 482.1h0M188.2 354.7h0M108.8 340.5h0M124.2 418.4h0M135.9 322.2h0M112.0 409.7h0M144.4 383.6h0M155.8 390.3h0M151.7 358.2h0M157.9 352.8h0M126.5 358.8h0M196.7 357.5h0M144.5 395.1h0M115.1 332.2h0M222.6 374.8h0M240.4 377.7h0M155.8 357.6h0M237.0 392.1h0M112.3 406.5h0M132.2 345.6h0M161.4 377.1h0M122.6 331.1h0M128.4 322.7h0M141.9 422.2h0M140.6 311.6h0M111.3 404.9h0M101.1 330.6h0M135.8 327.4h0M207.6 384.2h0M159.2 378.2h0M125.1 325.3h0M208.4 358.2h0M160.1 358.0h0M139.8 334.6h0M207.1 364.7h0M161.1 381.5h0M115.7 345.6h0M132.5 303.5h0M181.6 371.3h0M133.7 312.0h0M131.4 319.6h0M132.5 357.6h0M167.0 353.7h0M100.3 333.1h0M143.1 308.6h0M147.4 315.8h0M155.3 324.6h0M205.9 365.7h0M132.2 321.0h0M141.3 388.0h0M143.1 309.1h0M135.5 364.3h0M160.3 336.3h0M134.0 358.1h0M161.7 374.4h0M167.1 367.1h0M160.5 339.3h0M118.9 405.5h0M153.2 340.4h0M162.3 387.4h0M216.9 365.2h0M132.2 309.1h0M162.3 377.1h0M147.3 346.7h0M193.4 380.7h0M163.8 334.1h0M204.2 368.1h0M126.0 305.8h0M140.6 332.6h0M139.4 367.0h0M190.5 362.0h0M192.5 341.6h0M149.5 321.3h0M239.3 371.4h0M98.1 352.1h0M145.4 330.8h0M140.7 332.7h0M175.8 346.3h0M144.1 324.0h0M126.6 332.5h0M205.1 342.6h0M151.8 371.5h0M180.2 369.4h0M183.8 373.6h0M169.8 348.9h0M104.6 413.6h0M155.0 376.0h0M124.2 331.3h0M199.4 360.6h0M153.0 334.5h0M159.2 327.6h0M123.7 331.1h0M152.9 321.4h0M159.2 309.2h0M157.6 370.2h0M135.4 321.6h0M120.6 349.6h0M120.5 406.1h0M143.8 363.2h0M119.2 348.5h0M146.5 368.2h0M122.6 318.6h0M207.6 375.4h0M132.7 375.3h0M128.0 342.0h0M202.6 364.7h0M156.7 389.9h0M132.4 366.8h0M151.8 345.5h0M145.9 384.7h0M158.6 331.2h0M171.5 344.0h0M115.7 338.8h0M153.8 373.5h0M164.5 356.4h0M195.7 356.8h0M105.1 412.8h0M134.3 312.2h0M114.0 432.0h0M159.7 313.7h0M143.1 402.4h0M179.2 388.2h0M129.6 362.1h0M141.3 406.5h0M146.8 353.3h0M165.7 366.1h0M177.8 361.0h0M127.9 318.6h0"/>
<path class="b" d="M148.8 411.1h0M133.1 455.2h0M230.2 356.6h0M85.6 371.1h0M199.4 329.1h0M145.5 446.0h0M146.7 457.7h0M196.0 346.4h0M127.7 446.4h0M160.7 413.5h0M136.3 434.8h0M153.8 385.2h0M135.0 473.2h0M140.3 461.2h0M146.4 457.2h0M149.4 443.8h0M217.2 369.2h0M148.6 431.0h0M156.2 415.0h0M230.6 359.4h0M91.0 361.9h0M127.7 382.9h0M137.4 399.8h0M124.4 368.8h0M256.5 374.9h0M150.7 436.5h0M160.6 399.4h0M204.0 369.1h0M210.1 364.1h0M216.7 408.5h0M158.5 391.1h0M198.4 349.6h0M131.6 461.4h0M208.6 345.6h0M81.6 388.9h0M242.9 373.2h0M193.0 370.3h0M132.3 414.4h0M215.6 360.0h0M207.7 374.7h0M186.9 387.8h0M150.2 388.2h0M125.9 447.1h0M141.9 379.1h0M132.7 421.4h0M139.3 469.4h0M138.1 411.0h0M179.3 379.0h0M144.4 453.0h0M162.4 404.8h0M132.5 392.6h0M157.7 417.7h0M150.5 427.3h0M125.4 446.9h0M212.6 347.4h0M125.8 456.5h0M128.7 400.0h0M155.9 391.6h0M161.5 384.1h0M136.9 461.1h0M222.7 357.4h0M126.0 380.4h0M100.2 385.5h0M139.6 400.6h0M141.9 418.1h0M130.8 450.7h0M111.0 367.2h0M216.1 352.8h0M183.6 328.4h0M244.0 351.8h0M195.6 345.3h0M122.6 453.0h0M108.1 367.7h0M145.7 460.9h0M133.0 395.7h0M207.3 391.2h0M127.2 362.3h0M179.7 336.7h0M168.6 385.8h0M107.1 363.4h0M118.7 389.8h0M110.2 385.2h0M124.0 408.6h0M208.0 349.7h0M134.7 375.1h0M132.7 414.8h0M159.2 409.9h0M214.6 349.8h0M204.5 366.2h0M226.1 351.8h0M151.4 392.0h0M215.3 347.6h0M121.3 387.0h0M212.3 345.2h0M93.8 377.0h0M180.3 392.9h0M96.2 365.4h0M116.6 422.9h0M165.0 386.4h0M128.8 423.6h0M140.0 477.8h0M83.0 396.5h0M169.5 384.6h0M98.0 390.2h0M86.2 398.1h0M179.6 377.0h0M145.1 378.6h0M250.6 378.7h0M152.3 401.0h0M104.3 385.2h0M130.9 451.4h0M121.1 378.9h0M81.4 365.0h0M160.2 418.8h0M187.5 327.5h0M232.0 363.5h0M177.7 405.3h0M145.4 423.0h0M130.9 440.9h0M138.0 400.6h0M124.6 367.7h0M140.3 442.9h0M153.3 434.9h0M128.8 462.7h0M129.1 441.5h0M244.9 368.0h0M86.8 392.7h0M102.4 390.7h0M246.1 360.2h0M144.1 419.3h0M152.3 415.6h0M221.7 362.8h0M131.2 410.5h0M142.1 432.7h0M138.4 426.8h0M217.1 356.6h0M162.1 416.4h0M134.3 442.9h0M113.6 367.7h0M157.6 378.1h0M83.3 366.9h0M97.5 388.9h0M154.3 431.6h0M138.6 369.9h0M95.9 356.3h0M93.8 397.9h0M138.8 441.6h0M107.9 394.0h0M131.6 454.5h0M131.3 470.0h0M104.7 360.7h0M148.6 397.4h0M139.1 472.2h0M91.0 377.9h0M133.4 409.2h0M131.5 407.8h0M122.6 432.6h0M125.1 395.6h0M218.0 353.0h0M124.9 419.0h0M120.8 407.1h0M89.2 399.1h0M127.3 448.4h0M138.2 398.8h0M102.7 366.8h0M198.3 348.6h0M147.3 405.4h0M84.6 368.2h0M254.3 381.3h0M130.8 426.0h0M140.2 379.7h0M139.1 391.0h0M144.4 406.7h0M159.2 418.5h0M206.5 334.6h0M117.9 374.3h0M145.2 435.5h0M93.1 361.0h0M170.1 393.7h0M125.5 405.7h0M210.7 345.3h0M217.4 356.5h0M191.7 342.6h0M147.9 419.3h0M103.0 359.9h0M119.1 441.4h0M122.1 422.6h0M133.0 474.0h0M88.5 363.0h0M133.7 430.5h0M130.0 438.8h0M117.3 364.4h0M113.8 384.7h0"/>
<path class="o" d="M139.6 323.2h0M153.4 324.4h0M96.0 338.5h0M181.6 356.0h0M127.3 408.7h0M117.1 344.4h0M166.4 399.3h0M151.5 350.4h0M132.4 317.0h0M160.3 413.5h0M135.1 363.6h0M118.8 345.4h0M184.5 333.5h0M174.3 346.9h0M137.1 328.0h0M119.0 405.4h0M117.2 412.3h0M147.0 383.7h0M231.0 377.2h0M156.7 343.0h0M122.5 355.5h0M151.4 350.0h0M196.1 378.3h0M158.3 375.5h0M161.0 319.5h0M165.9 372.5h0M130.8 358.1h0M121.3 355.5h0M140.4 368.9h0M186.0 328.2h0M167.0 318.5h0M167.2 321.1h0M135.0 369.9h0M131.8 335.5h0M177.8 324.6h0M164.8 346.1h0M121.3 359.9h0M154.8 352.1h0M153.2 332.8h0M145.1 303.2h0M152.1 371.9h0M150.9 395.3h0M137.1 341.1h0M155.4 391.6h0M206.3 358.2h0M210.0 378.5h0M125.2 339.7h0M145.6 363.9h0M102.6 355.7h0M121.6 313.1h0M151.5 355.6h0M195.8 343.6h0M174.6 343.7h0M142.5 313.9h0M244.0 389.4h0M185.2 343.7h0M162.6 379.3h0M153.1 391.0h0M193.8 353.0h0M144.0 344.7h0M170.8 355.1h0M236.9 381.3h0M169.4 352.2h0M122.8 344.9h0M112.3 395.7h0M182.9 372.3h0M171.4 337.1h0M147.1 384.9h0M188.4 379.2h0M189.9 356.2h0M170.9 333.7h0M153.3 345.9h0M142.6 347.1h0M121.1 309.3h0M97.5 346.8h0M103.9 332.0h0M119.5 396.9h0M145.6 360.3h0M207.0 378.7h0M193.0 361.2h0M100.4 345.2h0M139.5 350.1h0M134.8 360.3h0M226.7 395.5h0M150.1 368.8h0M139.9 352.6h0M143.6 371.5h0M140.9 332.4h0M171.7 368.6h0M146.3 346.2h0M133.3 313.6h0M145.5 367.9h0M136.9 305.2h0M168.5 336.4h0M184.2 343.4h0M171.0 324.6h0M137.0 310.5h0M159.6 362.5h0M163.6 384.1h0M216.4 349.7h0M128.5 312.9h0M145.8 346.4h0M151.5 346.8h0M148.1 346.4h0M125.5 421.6h0M197.3 338.2h0M126.1 338.0h0M148.2 387.3h0M138.0 370.5h0M155.4 339.9h0M179.8 369.0h0M152.5 348.9h0M173.4 339.1h0M152.7 348.6h0M171.7 379.5h0M187.6 381.8h0M202.2 375.1h0M153.6 323.9h0M131.8 333.6h0M172.4 358.1h0M211.8 373.1h0M170.5 330.3h0M104.4 331.1h0M164.5 331.3h0M150.4 317.5h0M136.9 360.5h0M123.6 320.4h0M140.7 304.8h0M212.2 360.5h0M170.6 346.0h0M173.2 364.8h0M161.3 375.6h0M220.0 348.6h0M190.8 354.9h0M159.6 339.8h0M127.4 377.5h0M141.6 339.3h0M218.2 370.6h0M125.5 335.8h0M151.6 375.3h0M176.9 366.9h0M123.7 314.7h0M107.4 335.1h0M232.2 370.3h0M147.4 356.9h0M130.7 349.8h0M148.1 376.6h0M124.6 332.6h0M173.9 360.0h0M139.9 333.9h0M177.3 351.8h0M147.9 395.4h0M142.3 372.5h0M129.3 348.0h0M153.5 368.4h0M205.4 355.0h0M153.1 335.6h0M145.2 380.1h0M237.4 386.9h0M193.7 356.6h0M139.0 322.8h0M151.8 320.2h0M156.7 323.5h0M163.9 334.2h0M132.6 405.8h0M164.2 338.9h0M242.5 370.1h0M136.3 338.9h0M128.7 403.5h0M223.2 368.7h0M110.0 309.0h0M129.8 308.2h0M116.8 325.5h0M152.1 341.8h0M135.1 364.9h0M157.1 353.2h0M126.6 324.2h0M142.7 337.5h0M113.0 312.0h0M121.3 309.6h0M124.1 390.7h0M150.5 303.0h0M162.6 332.5h0M150.6 355.6h0M143.7 344.7h0M192.9 375.9h0M227.2 373.8h0M111.8 345.1h0M171.4 328.3h0M112.7 333.2h0M196.9 343.9h0M143.6 308.1h0M119.3 352.4h0M150.0 360.2h0M123.0 355.6h0M173.1 356.5h0M151.2 373.8h0M123.6 328.8h0M103.4 417.4h0M142.9 390.5h0M121.4 310.9h0M169.2 329.2h0M172.9 339.2h0M176.6 356.0h0M148.8 418.0h0M186.6 345.2h0M203.7 362.0h0M154.8 342.1h0M168.9 340.4h0M204.8 361.2h0M148.6 381.7h0M145.1 311.3h0M134.1 356.4h0M175.9 327.9h0M187.2 329.7h0M145.6 361.7h0M138.7 343.8h0M143.7 409.0h0M212.7 371.2h0M158.9 336.6h0M122.8 323.2h0M150.7 354.7h0M169.4 349.8h0M140.4 297.5h0M122.0 348.9h0M162.9 333.1h0M135.4 398.5h0M186.3 336.5h0M164.0 334.0h0M163.3 363.9h0M155.3 353.2h0M112.8 404.7h0M130.1 349.8h0M171.0 363.5h0M174.1 366.0h0M141.6 345.3h0M132.3 404.6h0M167.1 341.0h0M205.2 361.7h0M148.3 333.4h0M108.3 407.8h0M157.4 344.3h0M136.6 342.2h0M135.5 407.7h0M139.5 358.5h0M222.3 387.4h0M189.2 383.0h0M166.3 374.2h0M150.8 365.1h0M175.8 365.1h0M153.7 328.6h0M180.8 343.4h0M122.5 314.9h0M166.3 390.7h0M131.6 310.6h0M164.7 355.0h0M160.1 371.5h0M165.9 373.4h0M172.8 365.5h0M98.0 318.0h0M169.7 366.7h0M137.3 366.2h0M198.4 375.5h0M131.3 411.3h0M141.7 354.5h0M175.5 365.1h0M176.0 376.0h0M172.4 345.3h0M135.8 310.0h0M153.0 346.9h0M145.6 352.5h0M172.5 369.7h0M171.1 372.2h0M130.9 351.5h0M150.7 351.8h0M220.8 359.7h0M127.9 307.9h0M143.8 319.7h0M114.0 407.5h0M154.0 320.2h0M168.7 320.6h0M154.3 356.3h0M149.7 323.0h0M136.8 395.3h0"/>
<path class="b" d="M199.2 337.2h0M132.1 433.4h0M156.4 392.8h0M94.2 392.8h0M148.3 438.6h0M130.0 443.2h0M199.5 397.4h0M147.3 448.9h0M139.9 394.3h0M120.9 429.1h0M126.8 396.2h0M181.4 364.6h0M82.6 379.0h0M118.5 360.9h0M214.8 358.0h0M122.6 450.5h0M133.5 466.8h0M120.4 413.4h0M140.6 473.1h0M80.0 377.3h0M115.3 415.8h0M141.1 451.4h0M120.8 411.5h0M211.3 340.3h0M206.1 399.7h0M135.8 388.0h0M130.9 430.6h0M219.9 360.1h0M129.6 392.8h0M148.9 444.1h0M164.1 382.1h0M129.2 457.3h0M199.5 338.7h0M147.9 451.5h0M208.3 350.9h0M217.6 365.5h0M123.3 440.4h0M158.5 414.0h0M246.3 365.7h0M149.1 410.3h0M137.2 368.9h0M102.0 365.1h0M152.1 416.0h0M130.5 430.0h0M125.2 437.5h0M122.1 441.3h0M204.0 363.7h0M180.0 333.3h0M228.1 362.9h0M86.0 385.0h0M191.1 331.4h0M129.9 397.0h0M190.5 343.7h0M138.8 455.7h0M138.3 397.0h0M166.3 397.0h0M225.4 362.3h0M142.2 429.7h0M102.1 389.0h0M153.2 415.0h0M206.3 375.5h0M163.8 380.1h0M146.1 448.0h0M132.5 432.1h0M183.2 325.1h0M157.9 404.8h0M213.3 349.9h0M131.7 409.6h0M135.5 408.5h0M135.6 393.2h0M106.3 361.5h0M136.8 402.5h0M98.4 375.7h0M158.1 418.0h0M160.5 410.7h0M138.5 373.0h0M205.3 330.9h0M124.7 438.7h0M217.5 363.3h0M80.5 390.5h0M140.5 371.3h0M141.8 396.6h0M134.0 470.6h0M94.1 368.7h0M156.7 428.0h0M146.3 459.3h0M135.1 455.8h0M117.1 381.4h0M327.1 475.7h0M161.7 385.8h0M138.3 444.7h0M102.8 387.2h0M97.5 368.5h0M94.9 362.3h0M132.3 402.1h0M136.4 416.0h0M139.0 410.0h0M119.2 388.4h0M102.1 381.7h0M138.5 396.4h0M217.9 363.5h0M225.1 353.5h0M170.0 417.0h0M194.5 335.9h0M214.9 334.9h0M121.2 402.4h0M86.1 385.8h0M130.1 378.3h0M190.4 332.4h0M141.1 463.6h0M165.8 429.6h0M159.7 385.3h0M138.7 390.1h0M151.0 378.8h0M139.3 383.4h0M117.6 383.0h0M180.6 323.2h0M216.8 355.6h0M213.0 343.8h0M195.3 348.2h0M196.3 341.5h0M149.9 419.2h0M170.6 388.2h0M172.2 393.8h0M176.7 334.6h0M96.0 372.6h0M224.8 338.3h0M183.7 387.7h0M211.1 342.1h0M179.4 335.8h0M179.1 336.5h0M124.1 369.8h0M208.7 333.5h0M120.0 444.5h0M238.0 356.6h0M153.3 430.9h0M232.5 353.9h0M127.4 387.5h0M118.9 440.7h0M90.7 396.1h0M145.7 457.6h0M217.8 349.9h0M109.2 388.1h0M105.6 377.3h0M147.8 448.2h0M117.5 428.6h0M160.6 416.6h0M180.3 390.5h0M147.1 429.7h0M88.9 395.2h0M227.9 353.4h0M122.0 447.9h0M105.2 363.6h0M136.0 464.3h0M150.7 434.2h0M225.2 360.5h0M132.3 387.5h0M141.8 394.3h0M113.7 368.7h0M80.0 382.9h0M244.1 369.3h0M122.0 416.3h0M116.8 366.2h0M133.9 435.1h0M143.7 464.3h0M125.3 398.2h0M134.7 475.8h0M98.7 365.9h0M92.3 389.6h0M199.9 329.0h0M172.0 407.0h0M145.2 391.2h0M122.0 417.5h0M147.2 429.0h0M214.4 351.4h0M196.4 344.6h0M206.0 383.0h0M96.1 359.9h0M202.2 371.6h0M130.5 466.6h0M146.0 455.7h0M142.3 471.0h0M170.7 391.9h0M156.7 388.5h0M95.6 395.5h0M123.3 380.4h0M131.4 396.7h0M192.6 346.0h0M129.1 420.9h0M133.8 419.0h0M150.2 445.9h0M119.8 413.2h0M158.7 375.6h0M117.6 428.5h0M115.5 363.7h0M124.8 392.0h0M137.5 390.2h0M139.4 463.2h0M132.2 389.1h0M85.1 369.1h0M222.2 367.5h0M127.4 385.8h0M141.7 466.0h0M121.4 359.5h0M213.0 342.2h0M132.9 447.1h0M115.4 418.9h0M124.4 409.4h0M93.3 378.8h0M131.3 451.2h0M106.1 360.9h0M133.6 413.4h0M150.6 403.0h0M186.7 343.0h0M129.1 385.9h0M188.7 400.1h0M162.1 421.0h0M82.7 394.3h0"/>
<path class="o" d="M144.4 313.0h0M158.2 340.2h0M140.5 411.5h0M231.0 390.2h0M179.3 379.0h0M162.3 340.2h0M162.1 316.7h0M132.3 323.7h0M203.4 362.5h0M140.4 348.0h0M138.0 305.6h0M173.6 334.8h0M133.4 305.4h0M128.2 420.9h0M133.4 344.5h0M163.0 342.1h0M206.5 382.3h0M169.3 359.7h0M118.7 333.8h0M149.0 354.7h0M156.8 310.0h0M140.8 335.7h0M164.7 348.3h0M163.0 344.9h0M155.9 347.8h0M139.9 303.2h0M133.3 355.9h0M143.4 346.1h0M96.2 348.8h0M202.5 355.7h0M133.4 366.0h0M131.3 335.4h0M129.8 315.0h0M147.8 318.4h0M126.5 334.0h0M150.6 411.6h0M134.4 403.5h0M164.5 347.8h0M203.0 395.4h0M190.2 351.2h0M129.3 324.2h0M174.1 361.4h0M131.1 312.5h0M144.3 313.0h0M163.6 381.8h0M131.3 370.1h0M130.8 397.5h0M136.5 364.9h0M126.4 318.1h0M134.6 312.0h0M163.8 330.1h0M167.4 323.7h0M126.4 316.5h0M131.8 387.4h0M139.5 390.4h0M144.8 309.2h0M143.4 418.5h0M113.5 346.3h0M140.5 357.7h0M160.7 394.2h0M150.5 345.3h0M134.3 365.2h0M160.2 386.1h0M220.2 377.4h0M149.4 331.7h0M109.2 318.9h0M104.5 328.2h0M188.3 370.3h0M158.9 374.4h0M124.3 338.5h0M130.2 379.4h0M205.3 348.7h0M120.0 347.8h0M197.8 336.4h0M167.5 350.2h0M178.9 376.8h0M200.4 356.0h0M175.4 344.6h0M141.1 352.5h0M214.6 383.4h0M121.6 312.4h0M172.8 385.9h0M126.9 339.0h0M167.9 325.3h0M148.6 373.3h0M129.0 326.0h0M180.6 383.1h0M157.7 369.6h0M163.3 371.0h0M130.6 305.3h0M132.3 391.8h0M210.9 377.3h0M210.3 386.9h0M119.3 345.5h0M161.8 351.8h0M219.6 360.2h0M144.0 304.9h0M169.3 372.9h0M119.2 356.4h0M138.1 344.8h0M124.2 353.7h0M117.2 340.5h0M120.7 337.4h0M139.1 385.6h0M139.0 370.6h0M140.2 372.8h0M147.6 344.1h0M131.5 355.9h0M192.8 382.8h0M145.0 326.2h0M153.4 347.3h0M115.5 428.4h0M125.3 348.6h0M147.7 353.9h0M165.2 369.3h0M157.5 365.2h0M216.6 376.6h0M135.9 357.5h0M139.5 329.4h0M207.9 347.6h0M138.3 328.9h0M144.9 314.7h0M120.5 348.5h0M156.4 346.7h0M128.3 343.3h0M194.5 396.3h0M123.1 320.4h0M175.9 369.3h0M161.9 369.9h0M102.0 316.0h0M194.9 377.6h0M140.1 327.9h0M114.5 411.0h0M152.5 333.7h0M158.1 310.9h0M144.3 302.6h0M164.8 350.5h0M124.5 358.2h0M150.9 337.5h0M169.0 388.0h0M172.3 347.8h0M139.2 334.7h0M145.7 325.4h0M162.7 375.5h0M133.0 325.8h0M222.2 360.6h0M143.7 316.4h0M125.6 358.6h0M120.1 397.1h0M250.5 388.0h0M148.1 349.7h0M156.5 359.3h0M132.8 412.0h0M149.3 392.8h0M163.4 367.5h0M147.1 363.4h0M119.8 391.2h0M117.8 332.4h0M103.3 355.1h0M127.1 365.5h0M137.0 308.8h0M140.9 301.2h0M166.2 319.5h0M155.8 331.0h0M163.3 354.9h0M136.8 312.4h0M161.0 319.7h0M165.8 331.1h0M132.2 352.2h0M161.4 387.1h0M119.8 341.2h0M130.6 314.5h0M127.1 315.2h0M185.7 363.6h0M197.5 336.1h0M169.6 341.8h0M157.7 324.4h0M204.0 356.7h0M87.5 317.5h0M159.1 322.0h0M115.4 414.0h0M130.4 397.5h0M148.4 356.1h0M156.3 378.3h0M126.8 303.6h0M152.5 345.1h0M112.6 321.5h0M164.2 357.4h0M132.8 352.8h0M181.8 376.5h0M194.1 362.9h0M155.6 365.6h0M234.6 373.9h0M116.6 336.8h0M205.9 357.4h0M139.7 314.3h0M162.7 364.8h0M126.0 339.5h0M145.8 305.1h0M144.5 376.9h0M148.8 351.4h0M142.7 378.1h0M151.5 362.7h0M149.5 360.0h0M145.5 370.4h0M117.2 421.4h0M117.3 355.0h0M139.2 403.9h0M124.4 342.2h0M126.9 358.4h0M124.0 420.8h0M112.6 421.4h0M194.9 388.6h0M162.9 333.9h0M171.1 323.0h0M141.7 340.7h0M130.5 336.6h0M142.1 343.7h0M109.7 341.2h0M122.6 357.7h0M146.1 372.7h0M167.6 331.6h0M171.4 384.1h0M181.9 363.2h0M110.9 341.7h0M173.0 355.1h0M215.5 368.3h0M140.5 420.6h0M149.9 396.7h0M162.3 376.9h0M131.8 306.2h0M154.6 314.8h0M231.9 381.4h0M125.3 310.2h0M160.5 386.9h0M136.9 363.1h0M159.4 346.8h0M147.4 311.7h0M136.8 330.3h0M153.5 372.0h0M100.0 439.0h0M153.1 368.3h0M133.6 379.0h0M200.1 358.5h0M120.3 339.2h0M144.5 324.1h0M124.8 356.6h0M174.7 354.1h0M174.8 380.1h0M144.9 358.2h0M156.4 359.4h0M168.8 320.8h0M125.8 334.5h0M153.8 352.5h0M191.0 358.7h0M160.6 394.4h0M149.7 374.1h0M195.7 345.7h0M133.7 326.0h0"/>
<path class="b" d="M117.2 434.9h0M125.9 361.8h0M150.9 416.2h0M116.5 428.2h0M146.5 407.7h0M151.9 403.2h0M229.8 351.5h0M211.3 346.8h0M93.0 379.3h0M225.6 381.3h0M97.5 375.0h0M141.1 445.0h0M133.8 429.5h0M130.1 368.0h0M121.6 362.8h0M128.8 371.7h0M225.3 376.9h0M113.3 367.3h0M102.1 383.3h0M123.5 415.7h0M164.2 391.6h0M200.0 343.6h0M128.3 395.3h0M141.6 408.0h0M128.2 453.5h0M141.8 420.3h0M153.5 424.6h0M83.2 385.6h0M95.2 365.0h0M88.8 365.0h0M212.9 343.5h0M167.4 396.1h0M156.6 386.8h0M127.5 392.7h0M125.8 368.3h0M96.6 387.0h0M181.4 329.5h0M225.6 339.7h0M102.8 372.2h0M147.3 390.5h0M169.4 423.7h0M200.6 350.8h0M141.0 415.2h0M166.9 396.7h0M206.1 379.1h0M144.2 376.2h0M136.2 478.5h0M254.9 364.4h0M118.6 443.1h0M160.6 396.3h0M124.8 392.0h0M196.5 328.6h0M143.3 388.6h0M197.2 334.8h0M148.7 418.6h0M142.0 448.9h0M134.3 405.4h0M197.6 332.4h0M219.6 384.8h0M100.0 396.4h0M137.5 425.9h0M143.0 401.7h0M160.6 410.9h0M223.8 381.5h0M121.4 380.6h0M149.4 443.4h0M94.2 377.6h0M100.1 400.1h0M222.0 389.2h0M209.0 358.9h0M175.3 374.3h0M166.5 381.6h0M138.1 474.2h0M156.7 422.3h0M217.1 345.5h0M237.6 367.6h0M166.6 389.0h0M141.9 378.4h0M213.4 357.6h0M134.7 442.9h0M131.9 399.9h0M110.5 376.9h0M177.6 330.7h0M95.8 393.8h0M232.9 350.7h0M83.8 380.6h0M212.9 358.6h0M159.5 380.3h0M109.3 383.9h0M108.2 377.5h0M195.6 328.3h0M139.0 412.1h0M133.5 474.1h0M157.0 419.2h0M89.3 365.7h0M123.1 368.2h0M174.3 358.4h0M191.8 341.7h0M212.3 348.4h0M209.9 399.9h0M203.6 347.2h0M158.9 398.5h0M128.8 376.3h0M147.3 449.0h0M95.2 362.3h0M143.6 412.6h0M139.2 403.0h0M135.8 395.8h0M128.0 417.3h0M187.9 323.6h0M145.2 394.1h0M202.2 367.7h0M147.3 413.1h0M84.3 372.6h0M187.2 333.2h0M185.9 348.1h0M139.2 397.0h0M199.5 326.9h0M150.8 397.0h0M156.6 425.4h0M173.4 408.3h0M148.3 395.3h0M127.7 449.3h0M200.6 384.2h0M134.0 404.3h0M172.0 423.3h0M129.6 372.7h0M126.8 394.2h0M133.1 403.1h0M125.3 424.2h0M121.5 449.7h0M156.2 404.9h0M157.2 393.6h0M148.2 450.8h0M207.9 355.8h0M142.2 390.8h0M140.6 416.0h0M130.5 381.7h0M121.9 365.9h0M234.2 361.7h0M150.1 388.3h0M122.9 457.1h0M185.7 328.8h0M134.8 368.4h0M96.6 386.4h0M92.9 380.5h0M129.6 416.8h0M160.1 416.5h0M106.2 390.3h0M119.0 390.3h0M99.9 386.6h0M86.8 371.7h0M211.4 383.5h0M119.3 435.7h0M117.2 416.0h0M129.3 468.8h0M149.9 443.9h0M159.0 399.6h0M225.1 348.2h0M127.8 460.6h0M137.7 443.8h0M135.0 422.5h0M150.5 433.8h0M158.3 421.5h0M158.7 398.2h0M131.0 390.7h0M213.0 352.8h0M214.8 386.0h0M213.2 395.6h0M150.9 432.4h0M139.9 470.2h0M127.6 395.8h0M113.4 386.3h0M176.1 400.2h0M173.3 408.8h0M127.8 403.3h0M214.1 354.6h0M119.6 390.5h0M146.4 448.5h0M138.2 465.8h0M148.8 409.6h0M144.0 377.9h0M211.6 336.5h0M225.0 342.4h0M150.0 447.1h0M100.6 383.9h0M111.3 390.0h0M131.2 423.4h0M134.8 386.6h0M96.4 396.0h0"/>
<path class="o" d="M119.0 352.1h0M135.4 352.8h0M140.9 304.0h0M118.6 415.8h0M120.2 394.3h0M160.7 380.5h0M130.8 414.5h0M159.6 378.3h0M154.1 399.8h0M138.3 322.2h0M111.2 340.8h0M129.5 339.7h0M172.3 331.5h0M133.3 366.2h0M138.8 373.4h0M204.4 376.4h0M98.6 346.2h0M144.0 393.8h0M159.7 398.3h0M143.2 352.7h0M193.6 361.3h0M149.4 344.8h0M151.6 380.6h0M148.2 379.2h0M144.7 312.4h0M168.0 331.7h0M174.2 347.2h0M190.9 330.8h0M205.8 374.6h0M228.3 374.1h0M127.9 331.7h0M165.8 355.6h0M142.0 327.9h0M125.2 374.4h0M165.2 317.5h0M167.3 388.5h0M131.4 329.3h0M143.5 299.3h0M166.1 325.5h0M155.9 326.4h0M178.7 333.0h0M189.7 334.6h0M145.6 325.1h0M149.6 342.2h0M184.3 331.2h0M163.9 362.9h0M104.0 353.0h0M142.3 383.2h0M145.5 358.5h0M121.0 317.6h0M170.4 335.8h0M144.8 312.8h0M111.3 396.8h0M115.6 426.6h0M138.6 369.7h0M106.4 332.9h0M220.9 362.4h0M151.9 353.1h0M213.7 372.2h0M150.3 361.4h0M126.9 359.5h0M139.8 366.5h0M120.3 326.5h0M218.3 369.3h0M131.7 311.1h0M109.3 338.1h0M170.0 349.6h0M156.7 360.3h0M148.8 317.4h0M162.0 335.9h0M126.3 321.0h0M222.1 375.0h0M163.6 323.8h0M132.9 339.6h0M145.1 316.4h0M152.7 315.6h0M171.6 360.2h0M198.7 355.3h0M141.2 385.4h0M121.1 354.2h0M173.9 346.1h0M137.0 308.0h0M140.0 330.1h0M171.4 358.8h0M151.1 418.1h0M93.2 334.1h0M163.3 380.5h0M174.2 326.9h0M139.1 324.0h0M111.8 340.1h0M210.3 366.3h0M129.9 392.7h0M174.5 390.3h0M198.0 358.9h0M128.8 359.8h0M161.3 315.5h0M132.2 341.1h0M102.7 326.7h0M154.8 309.5h0M140.0 333.9h0M154.6 358.3h0M164.3 323.6h0M131.7 346.2h0M171.3 345.9h0M186.7 357.1h0M155.0 348.1h0M157.1 362.7h0M154.1 318.7h0M167.3 386.4h0M130.5 414.6h0M191.2 332.6h0M171.4 331.2h0M127.4 349.9h0M212.4 363.6h0M192.7 351.6h0M197.8 356.7h0M144.7 392.3h0M143.1 354.8h0M154.4 338.5h0M124.4 330.4h0M176.9 333.3h0M200.6 335.8h0M121.6 322.6h0M143.4 368.8h0M103.4 334.4h0M103.3 405.9h0M118.5 404.1h0M152.7 373.5h0M176.5 381.1h0M123.5 317.4h0M173.8 367.4h0M136.8 402.9h0M132.1 367.2h0M173.1 335.9h0M139.1 362.7h0M118.3 335.7h0M171.4 395.6h0M139.9 309.9h0M126.0 344.0h0M161.4 321.0h0M130.4 365.3h0M117.5 322.6h0M139.5 323.7h0M162.3 375.9h0M198.0 357.5h0M139.9 380.6h0M120.2 337.9h0M194.6 406.3h0M154.4 357.5h0M164.0 333.4h0M125.0 311.8h0M155.9 329.9h0M104.7 328.3h0M229.9 385.4h0M194.9 351.6h0M99.6 342.1h0M175.5 360.8h0M184.2 392.5h0M141.5 370.8h0M195.5 348.9h0M136.9 366.0h0M123.0 417.7h0M171.1 355.4h0M148.8 341.6h0M128.7 357.8h0M116.4 327.3h0M173.2 336.3h0M150.7 358.5h0M111.7 420.1h0M169.6 364.2h0M154.6 395.5h0M167.1 360.8h0M157.2 330.0h0M138.8 319.1h0M141.5 366.1h0M136.2 344.3h0M182.8 341.3h0M167.1 346.8h0M118.8 344.3h0M177.1 371.8h0M199.8 347.6h0M190.5 375.2h0M182.9 384.6h0M173.6 385.4h0M162.0 362.6h0M120.4 416.3h0M191.4 386.1h0M149.7 368.7h0M165.8 331.7h0M116.8 352.1h0M130.7 326.2h0M139.3 306.3h0M170.8 372.6h0M139.3 344.5h0M163.9 376.7h0M153.7 376.1h0M106.0 433.0h0M119.2 346.5h0M171.5 328.5h0M135.1 336.5h0M199.5 361.9h0M166.4 367.2h0M166.0 381.6h0M139.8 364.3h0M119.4 325.2h0M182.9 368.4h0M156.0 367.3h0M129.9 338.2h0M148.2 373.7h0M168.5 356.4h0M158.9 377.2h0M105.1 421.4h0M151.4 373.5h0M205.0 373.7h0M129.0 353.9h0M120.7 324.5h0M131.6 379.7h0M163.5 318.9h0M191.0 370.7h0M161.8 354.8h0M163.9 326.5h0M96.6 330.8h0M134.1 312.1h0M153.5 326.4h0M163.9 341.2h0M188.7 370.3h0M119.3 335.7h0M118.0 410.7h0M166.5 321.5h0M162.1 320.0h0M165.0 366.5h0M252.9 390.7h0M106.0 324.1h0M166.7 327.7h0M165.9 325.0h0M160.8 331.1h0M134.6 350.5h0M151.7 324.3h0M132.1 359.8h0M136.2 306.9h0M108.3 328.7h0M157.7 364.0h0M139.5 309.9h0M144.4 406.8h0M131.6 302.0h0M101.7 359.5h0M134.1 364.9h0M140.6 328.0h0M120.4 326.2h0M168.6 350.3h0M122.3 398.8h0M157.2 334.6h0M136.6 329.7h0M143.1 313.1h0M135.9 341.1h0M120.9 318.6h0M185.6 333.1h0M202.7 368.4h0M148.4 306.3h0M138.2 301.3h0M129.6 336.2h0M132.6 316.4h0M140.4 367.0h0M172.5 368.7h0M235.4 369.7h0M118.9 314.6h0M109.3 321.9h0M177.0 379.2h0M120.0 354.3h0M135.8 363.7h0M132.7 342.6h0M165.1 367.0h0M159.2 394.1h0M166.1 330.3h0M202.9 371.8h0M123.7 355.1h0M228.0 366.6h0M114.3 426.6h0M157.6 353.4h0M166.3 358.6h0M143.5 365.0h0M167.3 344.7h0M187.4 347.5h0M136.7 308.8h0M149.5 330.7h0M140.6 360.6h0M152.1 331.6h0"/>
<path class="b" d="M149.3 433.6h0M147.8 400.4h0M164.9 388.7h0M140.0 472.6h0M124.0 403.7h0M141.7 380.3h0M137.3 462.5h0M203.9 347.0h0M231.8 343.5h0M117.1 408.9h0M193.5 345.1h0M126.8 374.3h0M159.3 383.8h0M236.3 360.6h0M201.7 359.2h0M152.1 375.0h0M87.0 358.0h0M207.8 391.6h0M123.7 417.1h0M130.6 407.1h0M126.9 452.9h0M154.9 430.0h0M81.9 389.2h0M105.0 370.1h0M130.1 384.9h0M154.1 384.0h0M235.0 346.9h0M177.3 331.7h0M127.7 456.1h0M126.0 394.3h0M157.1 424.9h0M137.7 457.0h0M122.8 428.1h0M126.7 410.7h0M117.7 417.9h0M136.5 403.0h0M146.8 449.0h0M131.8 466.8h0M211.9 347.4h0M138.6 379.1h0M161.3 402.3h0M145.5 396.9h0M83.4 391.1h0M160.4 401.6h0M169.1 391.1h0M117.9 385.0h0M85.3 370.9h0M214.1 338.7h0M195.8 346.1h0M142.6 401.9h0M213.5 386.8h0M135.0 382.4h0M95.9 391.2h0M132.9 372.3h0M132.7 436.6h0M206.4 398.8h0M103.4 396.2h0M132.8 473.2h0M153.8 422.4h0M140.7 372.5h0M165.8 377.4h0M195.4 335.9h0M146.1 412.0h0M126.2 380.3h0M198.7 337.5h0M87.4 363.3h0M184.9 336.0h0M104.6 398.6h0M83.0 373.4h0M186.0 342.5h0M198.4 339.3h0M146.5 420.3h0M121.3 404.7h0M101.1 392.0h0M89.8 382.7h0M83.0 363.8h0M111.4 387.9h0M130.2 430.0h0M143.5 395.4h0M107.9 369.7h0M95.7 368.1h0M131.6 411.7h0M107.1 365.2h0M194.7 347.8h0M203.7 341.2h0M80.4 390.1h0M90.8 396.9h0M213.6 346.4h0M125.3 449.0h0M90.4 388.1h0M88.0 387.8h0M114.0 360.5h0M128.0 440.9h0M136.2 408.4h0M128.9 424.0h0M103.8 376.2h0M122.2 374.7h0M188.8 324.8h0M158.0 419.1h0M135.5 412.8h0M156.8 415.9h0M95.8 362.3h0M123.8 397.4h0M141.0 441.9h0M123.6 442.2h0M166.6 395.2h0M215.3 380.0h0M216.9 334.6h0M168.7 429.3h0M112.6 362.8h0M138.5 433.8h0M113.3 364.4h0M146.0 387.9h0M159.2 426.7h0M126.4 433.7h0M184.0 340.5h0M137.2 460.0h0M124.8 407.9h0M144.1 447.4h0M85.2 378.5h0M164.8 404.4h0M89.8 373.4h0M225.9 349.0h0M163.9 405.0h0M136.7 401.9h0M170.9 407.2h0M139.6 417.3h0M134.5 378.1h0M152.8 423.9h0M137.7 466.0h0M188.4 330.1h0M213.7 363.4h0M212.5 359.4h0M87.3 365.2h0M88.3 357.9h0M139.8 426.1h0M153.0 393.1h0M100.3 373.8h0M126.7 447.4h0M170.3 390.6h0M150.4 444.2h0M97.9 369.1h0M180.1 344.8h0M139.3 416.6h0M150.2 391.4h0M184.4 333.9h0M149.1 422.8h0M160.2 405.6h0M81.8 370.5h0M115.2 376.9h0M124.0 376.2h0M184.5 359.4h0M139.6 436.1h0M202.3 348.8h0M140.3 420.6h0M140.6 401.7h0M126.3 422.5h0M158.2 418.5h0M148.1 405.2h0M81.4 377.2h0M199.2 344.1h0M178.1 336.9h0M252.6 361.7h0M126.9 451.3h0M150.3 445.7h0M144.0 390.4h0M141.7 415.4h0M155.4 418.8h0M132.3 446.0h0M179.4 401.5h0M194.6 331.9h0M125.7 414.0h0M108.5 376.1h0M166.9 382.4h0M122.7 413.5h0M139.1 459.9h0M129.9 411.6h0M137.5 407.7h0M222.1 341.2h0M107.7 385.4h0M120.9 366.5h0M212.6 381.3h0M126.4 429.6h0M148.6 450.4h0M189.4 337.6h0M137.1 449.7h0M195.2 348.5h0M101.4 372.5h0M144.1 378.4h0M197.4 339.4h0M144.0 457.3h0M119.9 394.4h0M128.0 394.5h0M157.6 408.6h0M144.0 451.1h0M99.5 392.0h0M91.6 373.0h0M133.5 400.3h0M109.2 382.9h0M189.4 331.2h0M123.3 424.1h0M154.9 412.4h0M213.5 357.3h0M120.1 410.6h0M147.4 391.7h0M166.5 396.6h0M125.0 461.9h0M91.5 384.3h0M136.6 470.3h0M136.4 393.9h0M152.4 416.1h0M195.4 340.8h0M155.5 434.9h0M181.0 322.5h0M89.8 381.6h0M159.0 390.1h0M132.5 376.4h0M119.0 421.7h0M141.9 444.1h0M102.4 380.3h0M135.0 473.0h0"/>
<path class="o" d="M201.8 373.9h0M226.9 392.3h0M126.5 320.1h0M141.0 351.7h0M118.8 319.4h0M116.0 323.4h0M113.3 326.7h0M165.6 421.6h0M214.8 365.0h0M199.3 384.2h0M165.7 340.4h0M189.5 345.4h0M157.3 357.7h0M128.3 374.8h0M179.8 348.1h0M140.5 308.2h0M133.5 344.1h0M162.9 322.9h0M139.7 316.2h0M164.7 374.0h0M136.7 313.9h0M115.3 397.5h0M169.6 368.4h0M167.9 350.0h0M133.1 379.8h0M168.8 334.4h0M230.6 386.1h0M119.6 341.7h0M146.0 352.3h0M129.0 349.4h0M133.6 359.6h0M222.0 357.6h0M139.5 408.8h0M168.8 395.0h0M198.1 340.9h0M153.0 372.9h0M159.5 378.4h0M130.5 345.5h0M243.2 382.5h0M161.1 332.4h0M136.7 319.3h0M173.3 347.6h0M120.2 323.0h0M166.3 350.6h0M132.3 357.3h0M146.0 350.6h0M126.9 303.8h0M151.8 334.3h0M145.0 372.2h0M120.2 332.7h0M132.4 325.7h0M144.3 303.4h0M128.2 330.6h0M147.3 313.8h0M172.8 328.3h0M135.2 354.7h0M134.4 316.0h0M163.0 336.3h0M150.5 338.6h0M132.7 417.2h0M139.3 344.1h0M133.6 312.1h0M132.4 384.3h0M183.6 368.6h0M185.5 384.8h0M123.4 349.6h0M164.8 368.9h0M203.1 394.7h0M127.9 317.5h0M154.0 392.7h0M238.0 385.5h0M169.5 344.6h0M119.8 312.2h0M172.8 379.3h0M157.8 340.7h0M144.7 313.1h0M130.5 366.3h0M148.2 314.0h0M125.3 326.6h0M128.0 338.2h0M141.7 324.2h0M117.1 349.2h0M146.0 360.7h0M131.3 398.2h0M162.5 343.7h0M133.8 368.9h0M146.6 373.3h0M125.0 329.3h0M131.5 314.5h0M93.2 337.0h0M134.0 381.3h0M166.1 319.7h0M199.7 373.3h0M197.7 340.6h0M119.0 340.1h0M150.4 314.0h0M138.9 324.9h0M109.8 321.3h0M154.7 335.8h0M141.3 358.5h0M168.6 321.3h0M119.1 312.2h0M156.8 315.4h0M137.5 336.7h0M142.0 308.7h0M120.7 327.1h0M215.1 368.7h0M135.9 302.9h0M153.0 366.7h0M134.9 342.8h0M146.9 348.8h0M212.0 351.8h0M101.9 339.8h0M110.8 354.7h0M148.7 352.7h0M157.2 321.0h0M162.9 366.8h0M165.5 318.6h0M131.0 319.5h0M148.4 309.0h0M117.9 342.2h0M150.6 334.4h0M134.2 325.4h0M151.1 367.9h0M123.5 318.6h0M101.6 347.5h0M128.2 314.3h0M152.3 314.5h0M115.9 340.8h0M125.8 393.6h0M204.6 352.2h0M149.7 344.5h0M161.2 314.1h0M190.3 374.9h0M128.7 334.0h0M122.6 355.7h0M131.4 360.9h0M149.7 359.3h0M172.0 350.3h0M131.7 362.7h0M159.9 384.5h0M149.2 307.7h0M140.3 303.4h0M151.0 368.8h0M140.0 367.5h0M143.3 323.1h0M124.6 349.9h0M155.6 360.2h0M150.7 337.8h0M199.0 376.4h0M160.1 328.2h0M159.8 330.1h0M123.5 324.0h0M116.5 357.3h0M181.1 356.4h0M155.0 322.7h0M149.2 348.1h0M109.1 325.0h0M172.5 335.9h0M118.7 402.5h0M129.1 314.9h0M130.3 361.1h0M165.9 336.9h0M127.0 338.2h0M152.4 333.4h0M116.3 355.6h0M191.9 383.3h0M168.8 326.0h0M203.4 341.4h0M170.7 349.7h0M165.5 393.1h0M170.9 329.7h0M137.5 349.5h0M135.2 323.2h0M146.9 384.8h0M131.4 344.3h0M157.4 380.0h0M131.8 344.3h0M150.6 375.0h0M158.0 318.9h0M146.5 349.9h0M136.2 346.8h0M153.5 401.1h0M171.7 331.4h0M132.3 325.1h0M150.2 328.0h0M193.7 336.5h0M127.4 341.5h0M121.7 363.7h0M133.4 329.9h0M114.8 425.2h0M160.6 386.7h0M143.0 347.0h0M146.3 390.2h0M153.3 330.1h0M154.5 320.4h0M155.7 368.9h0M129.2 333.8h0M147.2 363.4h0M152.0 313.5h0M155.8 322.5h0M101.7 417.0h0M172.0 335.9h0M122.5 340.3h0M127.2 412.9h0M128.7 309.5h0M139.4 360.7h0M158.1 364.7h0M131.7 322.9h0M110.0 402.6h0M147.6 346.9h0M101.8 348.6h0M158.3 357.8h0M244.8 378.7h0M127.8 305.3h0M96.4 340.1h0M153.5 349.2h0M139.2 323.6h0M115.6 349.7h0M170.1 349.7h0M123.6 309.7h0M143.2 373.8h0M218.4 375.2h0M124.9 337.7h0M144.3 322.1h0M129.2 319.6h0M141.0 317.8h0M172.4 343.8h0M135.3 340.3h0M122.7 326.0h0M151.5 357.4h0M147.8 367.2h0M214.6 360.9h0M211.4 379.8h0M213.0 348.2h0M156.6 315.6h0M179.2 358.7h0M154.8 365.1h0M144.0 357.9h0M166.9 367.2h0M198.3 381.7h0M138.8 348.7h0M146.0 312.2h0M184.7 334.3h0M171.3 329.2h0M153.8 354.7h0M98.8 352.8h0M194.8 356.6h0M161.4 363.1h0M230.6 359.0h0M100.4 345.4h0M185.8 327.1h0M159.5 314.4h0M139.1 368.0h0M135.6 324.5h0M136.1 317.7h0"/>
<path class="b" d="M125.6 462.0h0M106.2 397.8h0M109.7 367.4h0M206.5 337.1h0M82.4 370.2h0M147.6 387.7h0M173.4 389.8h0M214.4 341.8h0M103.9 380.6h0M158.5 400.4h0M192.4 400.7h0M161.0 417.3h0M134.4 431.2h0M223.7 364.2h0M135.3 426.0h0M157.0 401.5h0M150.9 437.6h0M130.6 459.9h0M133.3 454.8h0M118.8 437.9h0M144.8 467.3h0M123.6 456.2h0M139.2 423.5h0M182.5 365.9h0M152.6 389.5h0M149.0 453.5h0M118.4 386.6h0M184.8 326.3h0M120.5 433.1h0M156.3 373.1h0M204.3 350.6h0M154.4 395.4h0M92.4 376.5h0M149.1 410.8h0M180.3 407.8h0M129.4 450.4h0M144.6 413.2h0M125.9 437.0h0M144.6 459.7h0M87.7 378.6h0M156.1 390.0h0M105.0 378.5h0M150.8 437.3h0M154.0 413.2h0M237.0 351.9h0M223.9 361.6h0M102.5 390.4h0M146.7 410.5h0M175.2 337.6h0M138.0 477.6h0M133.1 431.8h0M112.3 397.2h0M166.6 393.9h0M119.5 431.0h0M160.8 395.8h0M150.0 392.9h0M111.6 359.9h0M147.7 394.0h0M191.8 342.2h0M148.1 398.8h0M115.2 378.9h0M179.1 332.5h0M119.6 445.3h0M218.6 359.5h0M206.0 343.1h0M114.1 368.6h0M128.6 422.5h0M216.9 350.0h0M194.8 407.0h0M142.5 381.5h0M125.3 381.2h0M150.0 404.1h0M146.6 440.4h0M154.6 415.7h0M153.2 376.9h0M121.4 438.6h0M104.4 364.7h0M135.0 427.1h0M128.5 422.6h0M126.7 431.6h0M160.8 411.7h0M136.1 423.7h0M178.9 336.4h0M209.0 337.3h0M127.6 378.6h0M125.4 389.9h0M219.8 358.7h0M234.4 357.2h0M146.7 386.0h0M204.6 355.7h0M149.2 409.3h0M137.0 455.3h0M207.3 335.1h0M95.7 355.8h0M221.7 352.6h0M129.4 468.8h0M102.5 397.3h0M139.0 394.5h0M192.9 348.4h0M185.2 388.1h0M156.5 399.5h0M114.6 366.9h0M157.9 392.8h0M117.6 429.9h0M152.8 416.1h0M128.2 453.9h0M146.7 451.8h0M134.4 439.4h0M101.1 365.4h0M150.9 382.9h0M135.0 445.0h0M217.8 349.2h0M91.7 379.2h0M111.8 388.1h0M130.1 395.0h0M201.4 358.7h0M136.4 390.5h0M89.1 381.1h0M125.7 391.6h0M155.4 424.9h0M120.8 374.6h0M149.9 412.8h0M89.8 392.9h0M202.2 342.5h0M206.7 421.7h0M230.9 352.3h0M131.7 396.3h0M155.0 390.7h0M228.5 347.3h0M121.6 373.9h0M203.7 356.4h0M167.2 384.3h0M152.4 392.4h0M122.1 412.0h0M134.8 401.7h0M127.2 442.3h0M141.0 444.3h0M110.4 395.3h0M121.1 449.2h0M123.0 448.4h0M140.7 383.6h0M210.1 354.4h0M217.9 353.8h0M130.7 395.4h0M127.2 468.3h0M139.8 373.6h0M186.7 392.2h0M109.9 394.0h0M161.1 385.4h0M140.5 404.3h0M154.9 402.4h0M134.0 385.0h0M145.5 391.4h0M135.7 469.9h0M102.5 358.7h0M131.5 388.6h0M230.5 349.4h0M155.8 398.3h0M117.0 434.4h0M150.0 371.9h0M162.7 398.4h0M117.9 408.4h0M117.1 416.3h0M130.3 401.9h0M145.7 411.3h0M194.4 335.0h0M149.8 415.5h0M114.0 387.5h0M197.0 330.1h0M95.4 375.6h0M191.2 339.0h0M211.2 360.8h0M134.8 455.2h0M132.0 434.9h0M159.9 401.2h0M88.3 377.8h0M108.7 388.0h0M186.2 407.1h0M148.1 418.2h0M142.0 443.4h0M106.3 393.8h0M159.7 416.8h0M140.9 398.5h0M143.6 404.0h0M153.8 379.5h0M92.5 366.9h0M138.0 429.2h0M127.0 443.8h0M139.6 419.5h0M216.8 349.9h0M226.9 345.1h0M155.0 426.7h0M140.9 396.7h0M137.6 479.8h0M124.1 400.3h0M149.3 384.0h0M160.8 384.9h0M141.7 480.3h0M111.4 383.2h0M156.0 431.4h0"/>
<path class="o" d="M145.2 388.9h0M209.1 381.2h0M198.8 367.2h0M144.7 346.4h0M174.3 365.3h0M174.7 360.2h0M145.7 317.7h0M161.8 357.9h0M143.5 403.3h0M211.8 354.8h0M193.4 368.1h0M170.2 368.3h0M133.6 309.0h0M159.5 345.7h0M131.5 333.1h0M178.4 370.2h0M157.7 364.6h0M105.0 313.0h0M113.1 407.4h0M201.6 369.1h0M130.3 315.2h0M174.0 352.7h0M119.5 320.5h0M153.0 415.0h0M144.3 313.2h0M118.4 324.0h0M187.7 341.8h0M133.5 365.8h0M145.8 352.9h0M147.5 368.2h0M126.6 308.4h0M118.3 341.6h0M141.6 308.2h0M102.9 345.9h0M200.8 351.5h0M104.2 404.8h0M119.9 334.6h0M126.2 392.7h0M157.0 389.4h0M165.8 381.3h0M211.3 397.5h0M112.8 345.7h0M120.2 311.6h0M105.9 346.2h0M148.7 377.7h0M143.3 366.5h0M112.3 343.6h0M172.5 368.1h0M118.6 351.4h0M164.4 378.4h0M130.3 353.4h0M125.8 357.6h0M111.0 352.0h0M177.9 336.0h0M135.0 305.1h0M148.6 343.7h0M123.0 325.2h0M206.0 363.4h0M161.0 356.4h0M177.9 352.5h0M145.0 351.7h0M138.0 335.3h0M130.5 345.3h0M136.0 299.0h0M140.2 368.9h0M172.1 384.0h0M147.4 379.2h0M122.6 338.7h0M202.5 356.0h0M134.8 311.4h0M149.0 309.5h0M153.1 364.8h0M163.8 380.5h0M141.4 367.6h0M138.3 332.2h0M164.1 372.5h0M250.0 394.7h0M149.1 356.6h0M189.5 344.7h0M183.5 355.5h0M153.8 334.3h0M140.4 302.2h0M158.4 364.5h0M179.1 377.7h0M248.8 379.9h0M146.7 343.2h0M204.7 343.6h0M186.3 337.7h0M163.2 342.4h0M156.6 317.9h0M112.3 411.2h0M210.6 382.2h0M108.0 314.5h0M127.8 352.5h0M153.1 369.4h0M182.8 375.0h0M109.2 426.1h0M121.7 317.0h0M184.8 333.5h0M164.1 337.3h0M204.8 375.9h0M136.6 333.2h0M144.8 364.6h0M165.7 369.3h0M169.9 390.1h0M146.4 348.2h0M132.4 333.0h0M181.9 328.0h0M155.4 373.0h0M205.3 350.7h0M129.0 330.4h0M112.5 331.4h0M142.7 344.7h0M140.0 348.4h0M132.1 308.3h0M121.0 336.2h0M156.5 360.0h0M120.3 428.7h0M162.1 327.2h0M156.2 318.7h0M169.2 369.5h0M140.4 336.9h0M167.8 326.0h0M139.8 330.1h0M137.8 357.9h0M202.4 361.2h0M136.4 429.0h0M130.1 353.0h0M118.2 335.3h0M181.2 375.6h0M160.6 382.1h0M178.7 328.8h0M188.5 366.7h0M132.0 325.6h0M113.6 401.1h0M162.5 318.3h0M141.8 343.9h0M140.0 378.3h0M133.8 340.4h0M198.3 379.8h0M173.7 347.9h0M177.0 394.8h0M162.1 378.1h0M130.8 340.7h0M135.2 350.5h0M154.7 333.1h0M126.5 418.7h0M108.1 337.7h0M157.8 354.6h0M165.0 351.7h0M165.3 368.4h0M139.1 308.0h0M152.8 320.3h0M100.0 348.6h0M140.3 368.6h0M131.7 384.5h0M134.7 317.2h0M164.9 340.7h0M153.2 332.0h0M124.6 356.5h0M173.7 342.8h0M142.0 357.2h0M212.3 362.9h0M158.4 356.5h0M214.0 360.8h0M139.6 321.9h0M154.3 331.3h0M167.0 357.2h0M119.7 323.4h0M131.3 331.3h0M157.4 349.8h0M111.5 415.6h0M178.1 379.5h0M130.7 307.1h0M166.6 322.4h0M141.2 325.2h0M147.1 353.1h0M163.7 359.4h0M167.8 386.5h0M138.1 331.0h0M139.4 420.2h0M106.7 329.8h0M110.3 320.1h0M138.0 343.6h0M151.3 357.7h0M175.4 336.5h0M108.4 353.6h0M145.6 360.3h0M133.8 311.0h0M156.6 356.9h0M164.0 331.4h0M144.7 321.0h0M125.9 362.9h0M136.2 310.1h0M169.2 364.9h0M119.2 327.7h0M115.0 407.2h0M122.2 400.8h0M206.2 361.8h0M132.7 344.4h0M116.3 327.7h0M198.2 362.9h0M155.2 374.4h0M175.7 360.6h0M134.4 410.6h0M161.0 331.3h0M159.2 356.3h0M150.4 385.6h0M154.7 324.5h0M138.5 428.2h0M168.1 393.5h0M169.4 335.1h0M120.1 410.4h0M173.3 355.8h0M170.3 379.6h0M179.1 343.7h0M138.0 300.3h0M125.2 338.2h0M168.2 342.9h0M149.5 352.3h0M143.0 362.1h0M137.8 301.8h0M120.7 323.1h0M156.9 338.1h0M205.6 353.2h0M136.6 348.3h0M135.1 332.9h0M98.5 332.7h0M115.0 346.5h0M144.2 328.5h0M137.2 413.5h0M133.8 313.2h0M118.0 333.3h0M137.6 349.6h0M151.4 330.2h0M158.6 325.0h0M200.7 345.9h0M137.4 311.1h0M212.6 349.2h0M219.3 387.5h0M153.5 362.0h0M156.8 345.8h0M181.5 358.9h0M138.1 364.7h0M160.6 349.8h0M119.9 332.1h0M128.3 322.5h0M129.7 352.7h0M143.2 346.0h0M134.6 396.3h0M136.2 356.2h0M147.7 359.1h0M151.3 366.0h0M131.4 353.1h0M157.1 380.2h0M156.5 365.2h0M135.8 359.4h0M130.2 358.9h0M168.5 330.0h0M155.8 329.5h0M164.2 328.7h0M144.5 334.1h0M212.7 378.5h0M151.7 330.0h0M142.7 351.6h0M125.3 309.4h0M158.6 328.8h0M109.9 318.4h0M173.4 338.6h0M115.6 345.0h0M126.5 340.8h0M118.5 392.8h0M136.5 317.0h0M155.5 357.4h0M137.0 392.2h0M157.4 423.0h0M175.7 354.5h0"/>
<path class="b" d="M125.0 412.0h0M223.0 348.4h0M136.9 399.2h0M99.4 388.7h0M145.0 437.1h0M135.9 412.1h0M81.3 363.6h0M157.3 389.4h0M154.6 403.9h0M85.9 373.1h0M138.4 449.8h0M233.9 356.4h0M165.5 395.7h0M178.1 334.1h0M123.2 398.5h0M144.7 430.1h0M199.0 343.2h0M164.1 405.6h0M148.2 418.5h0M241.3 371.5h0M146.1 456.9h0M160.5 401.6h0M121.0 450.7h0M152.6 435.4h0M135.1 379.8h0M192.8 343.4h0M87.5 372.4h0M196.1 344.7h0M154.6 444.3h0M83.0 382.0h0M122.5 414.3h0M158.2 406.6h0M142.9 409.8h0M149.8 386.5h0M133.7 461.3h0M153.9 391.1h0M114.6 369.8h0M211.0 355.7h0M215.7 362.9h0M139.8 435.8h0M84.4 376.7h0M109.4 384.4h0M194.0 328.5h0M135.8 451.0h0M107.7 391.0h0M165.0 386.0h0M120.0 386.4h0M151.4 424.3h0M154.4 411.3h0M204.3 331.4h0M90.6 383.0h0M121.4 410.5h0M126.9 459.3h0M85.9 386.1h0M163.9 384.6h0M118.7 438.5h0M160.7 406.3h0M150.4 402.1h0M157.5 422.0h0M86.7 380.1h0M192.0 366.8h0M136.7 396.0h0M150.9 377.1h0M135.7 392.1h0M147.9 393.5h0M236.3 355.9h0M210.7 342.6h0M187.8 330.8h0M192.8 333.3h0M82.6 385.9h0M151.0 413.6h0M180.2 391.3h0M135.6 392.2h0M124.2 425.4h0M143.3 411.1h0M144.1 392.6h0M133.1 445.5h0M189.0 331.0h0M229.6 352.2h0M138.0 446.8h0M181.8 398.7h0M126.0 445.7h0M210.9 329.4h0M150.3 420.2h0M136.9 470.4h0M125.6 459.6h0M151.3 423.7h0M212.9 358.2h0M146.9 375.6h0M154.0 435.9h0M97.3 399.4h0M125.7 439.8h0M194.3 343.4h0M127.3 365.6h0M163.3 409.6h0M121.5 423.6h0M90.6 383.5h0M186.7 338.4h0M147.4 434.8h0M154.1 405.3h0M91.3 377.8h0M128.0 448.5h0M205.6 344.8h0M142.6 391.5h0M122.8 429.3h0M81.1 366.9h0M145.0 431.1h0M223.9 355.4h0M214.3 374.1h0M221.5 336.6h0M173.3 383.1h0M115.0 376.6h0M123.5 391.9h0M210.7 354.1h0M135.3 409.3h0M142.2 386.5h0M120.6 443.5h0M213.5 382.0h0M127.1 419.3h0M128.5 397.7h0M225.8 353.6h0M143.2 408.2h0M124.8 440.1h0M136.0 376.9h0M188.4 343.1h0M130.9 418.1h0M151.5 441.9h0M193.3 350.7h0M151.8 439.9h0M170.8 394.7h0M149.1 408.2h0M185.8 340.8h0M92.8 367.2h0M143.7 371.8h0M142.4 424.4h0M192.1 368.7h0M138.5 464.4h0M120.6 446.4h0M93.4 394.4h0M129.2 402.1h0M83.8 365.9h0M230.9 363.2h0M106.7 377.8h0M155.8 389.6h0M177.2 379.0h0M149.3 400.0h0M116.6 425.8h0M128.4 436.1h0M135.4 454.5h0M175.5 331.7h0M179.3 340.3h0M110.2 375.8h0M147.6 452.5h0M112.6 429.9h0M142.3 397.8h0M151.5 436.7h0M156.3 424.7h0M211.2 364.2h0M90.7 383.4h0M130.8 473.2h0M86.0 376.2h0M220.3 355.0h0M152.4 402.2h0M146.9 379.4h0M144.3 459.1h0M136.7 466.7h0M96.2 375.4h0M145.3 462.8h0M146.4 395.0h0M106.2 368.4h0M141.2 425.4h0M218.5 380.6h0M248.9 370.1h0M141.1 475.6h0M128.6 384.2h0M134.7 377.5h0M129.9 446.5h0M143.9 390.4h0M129.0 399.4h0M145.3 406.8h0M111.2 386.5h0M110.0 394.0h0M218.5 352.1h0M144.3 419.1h0M152.8 389.2h0M96.8 388.7h0M143.8 407.1h0M121.4 412.3h0M180.5 388.2h0M245.2 354.2h0M97.0 354.3h0M127.8 465.8h0M138.7 373.1h0M149.0 399.2h0M127.1 459.8h0M108.3 355.5h0M143.4 430.0h0M87.6 391.9h0M188.5 338.6h0M146.1 408.7h0M250.0 360.9h0M145.3 421.4h0M149.5 423.0h0M150.8 422.5h0M112.5 375.4h0M143.6 400.4h0M129.0 370.2h0M158.8 409.9h0M91.9 367.1h0M119.2 439.6h0M187.0 363.1h0M130.5 457.1h0M132.6 444.5h0M157.9 404.4h0M183.3 391.1h0M116.4 361.4h0M133.6 418.9h0M128.5 422.8h0M151.5 402.9h0"/>
<path class="o" d="M197.7 383.2h0M151.5 372.5h0M160.7 341.6h0M121.3 333.3h0M138.4 324.9h0M148.9 336.5h0M141.2 330.9h0M140.2 360.0h0M141.3 336.5h0M238.0 395.5h0M115.9 339.6h0M119.2 345.7h0M130.4 415.9h0M124.4 357.0h0M166.4 334.2h0M139.0 362.4h0M128.7 316.2h0M162.4 328.2h0M127.5 314.3h0M152.8 373.0h0M165.4 333.1h0M103.3 331.9h0M137.1 324.8h0M162.3 358.5h0M148.2 370.1h0M120.4 336.1h0M184.3 372.5h0M145.3 359.8h0M176.5 334.5h0M146.1 327.0h0M143.6 346.6h0M191.7 350.1h0M157.4 359.3h0M153.2 318.1h0M132.1 336.0h0M160.2 341.9h0M131.5 306.2h0M141.5 330.7h0M156.5 362.8h0M143.2 369.7h0M182.8 325.9h0M128.5 314.8h0M191.0 360.1h0M198.9 369.0h0M116.3 419.1h0M202.0 337.3h0M137.3 324.0h0M162.0 360.2h0M147.0 310.6h0M207.7 381.9h0M176.9 347.4h0M185.0 347.0h0M146.3 349.1h0M113.6 424.2h0M162.5 348.7h0M130.9 320.9h0M113.7 324.5h0M132.1 321.1h0M142.0 370.9h0M131.5 347.7h0M168.0 363.1h0M216.8 382.0h0M154.5 376.1h0M137.8 356.7h0M174.2 370.2h0M159.0 346.3h0M155.2 364.6h0M171.6 367.8h0M164.0 364.8h0M179.7 347.6h0M122.1 353.3h0M179.9 370.8h0M146.6 336.7h0M199.5 360.4h0M137.8 309.7h0M165.7 327.9h0M144.6 363.8h0M120.5 329.3h0M203.3 379.5h0M170.2 359.4h0M123.0 331.6h0M184.2 358.0h0M204.0 357.0h0M142.1 367.0h0M134.0 324.2h0M107.9 337.2h0M135.2 409.4h0M157.7 364.2h0M217.5 358.0h0M210.9 345.8h0M124.4 336.4h0M207.8 374.2h0M219.7 353.2h0M121.5 342.1h0M155.6 388.9h0M154.2 356.0h0M158.3 373.2h0M164.2 345.9h0M183.7 366.6h0M149.5 364.3h0M128.5 370.8h0M150.2 371.8h0M144.8 369.7h0M161.1 389.8h0M144.0 394.3h0M182.4 381.7h0M135.8 368.3h0M138.1 302.0h0M127.9 351.0h0M198.9 378.5h0M115.6 343.1h0M138.2 323.1h0M151.6 356.5h0M194.8 385.2h0M137.5 326.6h0M121.6 317.6h0M145.4 364.0h0M138.9 401.8h0M172.5 331.3h0M151.6 360.6h0M165.4 370.5h0M114.5 404.7h0M145.3 394.5h0M124.4 407.4h0M167.9 341.4h0M149.0 325.6h0M178.7 352.4h0M148.4 366.0h0M162.4 396.6h0M138.4 365.6h0M131.7 356.1h0M200.7 353.6h0M148.2 334.1h0M164.6 345.2h0M131.2 351.5h0M134.2 342.0h0M136.4 385.3h0M171.8 326.5h0M138.8 353.3h0M194.6 367.2h0M171.2 334.9h0M220.1 385.0h0M155.4 309.3h0M132.7 368.5h0M142.8 338.2h0M152.5 321.0h0M160.2 336.5h0M119.2 316.6h0M136.1 384.0h0M123.1 337.0h0M152.0 376.0h0M143.0 307.7h0M141.7 306.9h0M213.3 349.2h0M127.9 420.5h0M129.8 328.8h0M182.7 379.7h0M123.9 402.0h0M163.9 421.6h0M174.1 345.2h0M145.1 396.3h0M198.0 411.7h0M105.5 406.9h0M167.6 326.1h0M212.7 367.7h0M206.6 362.8h0M166.2 339.9h0M131.8 398.1h0M251.7 395.5h0M176.2 360.8h0M157.1 339.2h0M110.7 415.6h0M123.3 340.8h0M153.3 313.7h0M145.5 337.4h0M130.3 372.2h0M132.0 341.1h0M146.8 422.3h0M149.7 369.4h0M112.7 408.8h0M173.7 331.3h0M130.2 407.3h0M160.2 324.8h0M136.5 370.9h0M119.6 341.9h0M116.3 338.6h0M157.8 343.5h0M116.5 330.6h0M156.0 353.9h0M133.5 338.1h0M132.4 331.3h0M156.7 369.0h0M118.2 325.6h0M142.1 350.7h0M173.9 373.3h0M119.5 336.8h0M123.0 402.5h0M160.7 312.1h0M128.3 329.5h0M175.7 331.8h0M115.3 333.0h0M157.4 351.7h0M133.8 340.8h0M120.4 351.6h0M161.9 411.1h0M123.5 389.9h0M174.7 342.7h0M179.6 326.2h0M160.7 329.3h0M107.8 320.3h0M159.6 374.6h0M143.3 393.6h0M108.3 409.6h0M219.2 394.6h0M174.6 369.1h0M151.4 367.3h0M145.4 371.0h0M146.4 371.8h0M140.0 370.2h0M170.6 373.9h0M205.3 386.6h0M111.0 421.3h0M162.7 338.8h0M158.6 359.2h0M166.3 351.2h0M120.1 339.6h0M140.8 323.6h0M158.1 350.3h0M168.0 336.9h0M187.8 334.6h0M164.0 332.7h0M156.9 344.2h0M214.4 363.1h0M158.4 337.5h0M172.0 365.2h0M216.2 386.2h0M186.2 378.5h0M245.6 406.3h0M109.0 331.3h0M93.0 331.8h0M125.0 423.2h0M197.4 355.4h0M103.6 334.3h0M140.5 358.8h0M135.2 303.9h0M134.6 369.2h0M154.2 350.0h0M221.2 384.6h0M166.9 357.4h0M161.8 353.1h0M131.7 333.0h0M126.0 349.1h0M191.0 362.4h0M126.7 313.9h0M176.1 363.8h0M200.3 383.8h0M178.6 387.5h0M139.9 381.2h0"/>
<path class="b" d="M124.0 402.4h0M145.5 414.7h0M173.8 370.0h0M136.9 392.3h0M192.5 341.6h0M88.1 374.2h0M105.9 371.4h0M153.6 432.3h0M85.5 388.4h0M128.7 443.9h0M147.0 424.7h0M148.2 387.3h0M122.0 455.6h0M177.6 392.9h0M118.6 425.5h0M240.7 363.0h0M131.2 459.2h0M125.8 393.7h0M149.0 447.6h0M122.3 416.8h0M121.9 428.6h0M220.4 355.8h0M221.6 362.5h0M153.0 420.1h0M156.2 388.3h0M174.3 404.3h0M118.9 385.1h0M217.8 348.0h0M104.3 368.2h0M179.7 356.7h0M80.2 366.8h0M79.8 384.1h0M224.6 357.2h0M154.7 424.4h0M128.0 382.4h0M164.2 390.6h0M128.5 444.2h0M102.1 359.2h0M140.2 408.1h0M160.8 379.8h0M142.9 387.5h0M136.7 379.4h0M150.9 392.7h0M100.8 388.8h0M107.3 386.8h0M193.2 337.5h0M124.2 441.4h0M130.4 437.6h0M211.8 343.1h0M137.3 408.5h0M149.9 421.0h0M133.6 468.1h0M143.0 394.1h0M118.8 374.5h0M146.7 433.4h0M147.2 377.8h0M133.7 470.3h0M129.6 396.7h0M182.5 336.6h0M135.1 388.5h0M130.5 454.0h0M174.2 391.8h0M245.1 360.6h0M196.2 397.4h0M157.3 373.9h0M209.4 347.5h0M115.7 393.0h0M160.7 410.4h0M148.7 392.1h0M86.7 368.7h0M231.9 357.7h0M123.8 412.4h0M141.4 380.9h0M127.7 414.0h0M141.3 403.8h0M130.5 371.2h0M134.7 406.6h0M130.9 469.7h0M156.0 429.1h0M79.0 389.3h0M228.8 346.4h0M150.7 412.5h0M111.2 372.7h0M161.3 408.0h0M121.8 427.8h0M79.8 393.0h0M198.5 399.0h0M189.2 332.1h0M122.8 454.3h0M205.9 333.6h0M241.1 372.4h0M137.9 411.1h0M129.4 392.0h0M91.0 384.0h0M146.3 385.1h0M116.3 420.4h0M177.0 328.8h0M107.3 393.9h0M182.3 377.3h0M146.7 371.8h0M88.0 382.1h0M146.5 413.4h0M151.9 419.9h0M83.5 365.2h0M145.8 470.7h0M154.5 429.3h0M91.8 383.2h0M133.9 473.1h0M123.2 433.5h0M127.5 423.6h0M127.5 398.6h0M129.2 368.0h0M133.5 444.9h0M147.5 429.5h0M179.5 349.4h0M198.0 402.0h0M158.7 396.8h0M153.4 378.6h0M171.9 388.7h0M179.7 394.7h0M126.5 465.5h0M128.6 468.5h0M133.0 384.7h0M158.5 413.9h0M140.1 453.2h0M182.7 345.1h0M143.0 400.8h0M138.2 391.2h0M199.8 352.9h0M98.5 375.6h0M129.4 454.9h0M125.5 369.3h0M163.9 382.7h0M135.3 414.6h0M176.8 329.6h0M158.3 380.5h0M218.6 355.3h0M132.3 427.1h0M139.8 421.7h0M133.6 368.7h0M233.7 349.1h0M228.5 349.2h0M214.0 355.6h0M226.4 360.2h0M145.1 396.8h0M138.7 425.3h0M201.0 346.3h0M134.7 379.0h0M136.7 392.9h0M125.6 402.8h0M139.1 435.3h0M225.3 359.0h0M212.3 350.3h0M145.2 469.8h0M200.0 369.9h0M197.9 346.4h0M131.3 465.0h0M138.3 430.3h0M124.5 380.6h0M125.7 393.2h0M176.7 323.5h0M132.6 397.2h0M84.6 392.4h0M139.8 389.6h0M211.2 333.4h0M94.5 363.8h0M150.6 415.5h0M196.1 342.9h0M129.9 405.6h0M148.4 407.1h0M157.2 419.7h0M94.2 381.3h0M232.6 366.1h0M139.5 444.4h0M142.2 452.8h0M105.6 373.9h0M213.0 347.0h0M124.4 458.4h0M240.5 350.2h0M161.8 409.9h0M120.1 383.6h0M105.1 365.2h0M136.0 442.5h0M206.9 357.4h0M152.5 379.8h0M138.5 407.3h0M92.7 400.6h0M148.7 422.7h0M222.8 353.2h0M188.2 343.8h0M141.3 457.9h0M161.2 396.1h0M148.8 432.2h0M213.9 368.0h0M133.3 449.9h0M144.9 461.7h0M94.6 362.6h0M149.1 394.0h0M192.1 336.6h0M118.2 419.0h0M146.7 448.4h0M153.9 390.4h0M152.9 390.5h0M232.1 345.7h0M138.4 412.8h0M145.4 423.6h0M154.5 418.6h0"/>
<path class="o" d="M220.0 351.5h0M135.4 317.7h0M118.1 328.3h0M118.7 347.9h0M132.3 342.7h0M144.8 336.5h0M123.2 329.2h0M138.3 321.9h0M169.1 347.6h0M150.1 339.6h0M166.8 359.6h0M145.4 367.3h0M141.6 366.4h0M112.6 338.0h0M128.9 308.3h0M136.4 351.0h0M229.1 378.3h0M150.7 374.4h0M157.4 364.3h0M120.7 359.2h0M200.6 381.4h0M179.9 363.7h0M222.5 383.1h0M128.1 322.3h0M162.4 376.0h0M190.5 346.9h0M169.3 360.2h0M142.5 365.6h0M167.1 331.2h0M184.4 351.8h0M201.8 372.4h0M113.6 412.5h0M117.5 306.2h0M126.4 325.9h0M102.1 348.9h0M135.6 350.6h0M201.8 377.4h0M139.7 368.9h0M113.0 343.8h0M142.4 386.5h0M121.2 310.3h0M100.0 342.1h0M137.0 398.8h0M118.6 392.2h0M123.4 346.8h0M137.4 384.6h0M137.9 348.6h0M161.4 332.7h0M136.1 327.1h0M139.9 303.1h0M170.0 344.4h0M184.3 339.8h0M198.9 358.7h0M166.1 320.2h0M141.7 371.8h0M137.2 335.7h0M158.1 332.1h0M147.0 347.2h0M179.6 369.8h0M199.8 371.4h0M110.9 352.3h0M208.8 363.8h0M166.7 345.2h0M128.4 331.8h0M163.6 388.0h0M248.2 385.4h0M169.9 332.7h0M158.4 336.0h0M158.5 373.4h0M168.2 387.9h0M153.3 350.4h0M188.5 406.2h0M127.9 342.1h0M151.4 363.1h0M146.7 357.3h0M116.0 343.0h0M148.8 354.6h0M142.8 306.9h0M126.4 396.1h0M118.2 408.7h0M139.2 330.2h0M167.7 358.1h0M161.8 356.4h0M143.6 360.4h0M123.4 334.0h0M168.6 359.7h0M144.1 315.1h0M145.1 348.1h0M173.8 331.6h0M135.2 378.0h0M124.0 359.5h0M178.8 336.8h0M127.2 357.3h0M126.4 319.0h0M106.1 415.1h0M131.0 338.9h0M166.3 340.1h0M139.3 334.4h0M153.7 346.5h0M156.9 321.1h0M155.5 332.9h0M102.1 351.7h0M147.2 302.3h0M135.0 326.9h0M146.0 365.3h0M126.6 358.1h0M152.4 338.7h0M131.7 331.5h0M224.8 389.2h0M124.1 318.4h0M158.3 367.3h0M122.7 418.0h0M110.8 329.5h0M133.2 334.0h0M150.0 346.6h0M131.0 381.5h0M115.8 350.0h0M132.2 322.1h0M135.6 347.5h0M231.7 394.6h0M173.4 378.4h0M126.0 325.9h0M137.5 338.4h0M125.8 313.3h0M149.2 337.2h0M142.3 396.7h0M144.8 314.3h0M168.9 331.7h0M195.5 364.3h0M162.9 329.2h0M100.9 339.8h0M135.0 314.9h0M165.7 370.2h0M141.1 310.8h0M194.7 344.6h0M135.3 362.3h0M151.5 381.5h0M144.0 348.1h0M170.1 330.8h0M162.8 366.4h0M174.6 335.5h0M154.4 376.3h0M123.3 355.3h0M102.4 349.8h0M122.7 309.8h0M126.4 305.6h0M186.0 353.4h0M126.3 314.2h0M126.0 400.1h0M167.3 377.5h0M148.7 338.6h0M130.9 345.3h0M151.0 319.7h0M221.1 356.4h0M145.9 371.6h0M145.8 393.5h0M175.9 351.0h0M152.4 369.5h0M162.2 335.5h0M160.2 363.7h0M182.0 328.7h0M145.9 317.9h0M105.2 323.7h0M166.4 347.9h0M187.6 377.0h0M142.4 330.7h0M207.1 354.9h0M171.0 327.6h0M139.2 303.3h0M244.3 387.9h0M132.4 337.8h0M161.1 332.8h0M141.1 320.2h0M153.2 344.3h0M161.8 344.2h0M116.0 336.3h0M169.8 329.0h0M133.9 408.6h0M130.4 319.1h0M194.2 379.0h0M190.3 370.7h0M148.0 387.5h0M112.2 394.7h0M131.4 375.4h0M162.3 321.5h0M206.1 347.1h0M130.8 359.3h0M122.6 360.0h0M161.7 321.7h0M119.1 333.1h0M196.5 389.6h0M149.5 384.1h0M124.3 317.4h0M145.9 335.9h0M206.3 364.1h0M157.5 327.6h0M215.3 381.2h0M163.9 351.1h0M151.2 315.7h0M162.5 362.2h0M211.9 388.2h0M131.9 301.5h0M162.1 346.1h0M139.9 355.0h0M164.4 337.9h0M222.0 373.8h0M167.1 387.2h0M160.5 334.2h0M134.6 332.1h0M142.0 368.0h0M166.2 372.9h0M187.2 373.6h0M146.7 342.0h0M189.1 376.8h0M126.1 307.8h0M144.4 381.7h0M191.3 360.7h0M160.1 322.7h0M143.1 389.1h0M166.4 355.5h0M160.5 367.6h0M140.4 310.1h0M173.4 344.6h0M93.0 322.0h0M148.6 351.2h0M151.0 362.7h0M159.3 339.0h0M138.7 333.4h0M155.4 377.4h0M120.6 318.7h0M170.8 373.9h0M127.8 348.9h0M219.7 368.8h0M160.1 373.4h0M152.4 346.2h0M122.7 346.9h0M173.2 386.0h0M173.0 332.1h0M138.1 321.1h0M119.5 339.9h0M162.3 351.1h0M146.5 349.1h0M129.4 309.4h0M217.3 369.1h0M168.6 353.9h0M192.7 349.9h0M167.7 342.6h0M212.4 360.3h0M194.8 352.5h0M159.4 314.9h0M166.9 347.0h0M156.6 355.0h0M182.2 357.9h0M203.3 352.4h0M243.1 387.7h0M125.2 337.5h0M170.9 369.3h0M211.5 374.0h0M157.6 313.0h0M142.0 361.9h0M149.1 333.2h0M156.9 338.7h0M142.7 307.6h0M149.1 356.5h0M234.4 384.8h0M220.6 369.2h0M137.8 337.1h0M150.7 369.6h0M129.2 372.1h0M143.4 324.1h0"/>
<path class="b" d="M109.8 368.9h0M190.7 324.0h0M179.2 364.4h0M153.7 430.1h0M131.7 404.5h0M212.5 357.1h0M89.0 385.9h0M143.4 439.1h0M133.1 404.4h0M169.7 407.4h0M114.8 390.0h0M162.9 398.8h0M147.4 420.4h0M151.4 427.5h0M171.6 423.6h0M151.9 392.5h0M174.2 374.6h0M123.2 409.3h0M154.9 396.7h0M132.7 475.1h0M154.0 394.5h0M117.8 416.0h0M208.0 397.7h0M201.7 397.0h0M104.0 366.7h0M196.0 331.5h0M190.0 342.1h0M138.3 439.7h0M137.0 469.3h0M92.9 370.8h0M131.1 454.8h0M198.4 344.9h0M180.6 330.5h0M150.9 434.1h0M160.0 395.6h0M137.4 435.2h0M104.9 363.0h0M154.5 382.5h0M93.1 382.0h0M119.4 440.4h0M130.8 436.9h0M120.5 382.6h0M127.8 378.2h0M132.1 377.9h0M154.1 394.3h0M86.9 395.5h0M104.9 356.0h0M244.4 361.6h0M124.9 408.2h0M93.5 380.3h0M125.2 413.1h0M148.0 432.9h0M122.0 374.6h0M212.6 377.1h0M123.1 389.0h0M217.6 364.5h0M115.9 374.2h0M214.7 357.3h0M107.3 363.0h0M125.8 422.4h0M166.5 384.2h0M132.8 392.7h0M142.9 461.3h0M137.2 402.5h0M197.8 343.7h0M141.9 439.6h0M123.3 409.0h0M146.3 463.6h0M113.2 433.6h0M79.2 385.9h0M214.6 332.9h0M143.9 390.5h0M128.4 388.5h0M168.8 408.1h0M121.4 414.5h0M142.2 463.5h0M230.7 342.4h0M160.4 406.3h0M98.5 391.4h0M218.6 352.3h0M96.3 371.0h0M132.0 401.4h0M140.3 395.5h0M146.3 389.4h0M145.5 436.5h0M125.5 459.1h0M96.4 378.3h0M99.8 356.1h0M143.6 441.0h0M146.0 422.6h0M200.7 335.7h0M137.2 398.0h0M140.3 405.6h0M198.2 329.0h0M210.2 335.6h0M123.6 409.9h0M129.0 470.4h0M147.3 422.4h0M201.7 402.0h0M220.5 337.9h0M191.8 349.3h0M210.3 360.7h0M96.6 366.4h0M147.4 442.3h0M136.5 482.0h0M205.5 353.7h0M224.7 339.5h0M150.9 424.3h0M154.0 439.4h0M108.1 378.5h0M130.4 455.3h0M124.4 452.6h0M123.1 409.8h0M126.0 440.4h0M142.6 424.0h0M141.5 371.7h0M134.0 399.2h0M152.5 421.2h0M161.5 415.3h0M209.5 353.8h0M136.6 453.4h0M132.7 451.5h0M137.9 444.4h0M132.3 436.1h0M100.5 362.5h0M154.7 412.5h0M123.5 385.3h0M144.5 409.4h0M124.2 366.1h0M117.4 380.7h0M156.2 391.3h0M130.6 410.5h0M221.0 345.1h0M156.7 403.6h0M195.6 332.3h0M231.7 347.3h0M150.3 445.6h0M134.8 456.8h0M129.3 441.8h0M136.9 387.5h0M123.1 400.7h0M221.9 362.9h0M137.4 482.8h0M93.8 386.4h0M140.9 450.0h0M124.6 428.0h0M161.0 389.3h0M166.2 396.7h0M159.5 377.9h0M152.3 412.9h0M250.8 373.4h0M144.3 399.7h0M123.9 427.6h0M124.8 409.6h0M129.5 423.2h0M213.0 359.1h0M137.7 477.1h0M125.8 382.8h0M141.8 464.0h0M145.1 416.4h0M124.4 455.0h0M126.1 364.6h0M131.0 428.2h0M150.9 392.4h0M142.0 404.0h0M89.8 369.1h0M214.5 343.8h0M118.1 368.6h0M125.2 391.8h0M212.4 344.4h0M169.7 412.2h0M105.3 384.3h0M119.5 382.8h0M92.8 401.2h0M114.7 374.7h0M127.7 403.4h0M154.3 380.1h0M129.4 411.0h0M138.7 456.2h0M191.1 332.4h0M95.3 394.5h0M238.0 372.1h0M162.9 404.6h0M162.2 398.0h0M145.9 419.0h0M200.7 328.0h0M165.0 381.8h0M89.2 382.8h0M85.2 391.8h0M124.1 421.1h0M175.1 404.3h0M125.6 423.2h0M129.1 459.9h0M97.2 382.3h0M140.9 462.6h0M114.8 364.6h0M131.6 406.2h0M96.9 359.9h0M145.0 401.5h0M131.2 401.5h0M149.9 388.7h0M103.2 364.1h0M157.1 394.7h0M150.9 444.8h0M141.0 458.4h0M198.1 335.5h0M197.1 341.5h0M122.2 451.6h0M131.9 464.0h0M151.8 429.8h0M146.4 440.2h0M136.3 461.4h0M97.9 356.9h0M89.0 391.4h0M107.2 360.7h0M101.3 368.3h0M145.0 427.8h0M212.8 396.2h0M84.0 381.6h0M156.2 401.6h0M148.9 419.3h0M87.3 381.7h0M141.8 425.6h0M150.2 451.5h0M139.5 417.6h0M170.3 385.8h0M99.2 369.6h0M142.6 421.9h0M141.8 404.5h0M105.3 361.9h0M204.2 350.0h0M99.3 380.2h0"/>
<path class="o" d="M145.0 394.3h0M150.0 369.7h0M145.0 338.1h0M102.0 356.5h0M108.4 401.1h0M143.5 366.9h0M137.9 369.1h0M145.0 385.8h0M137.1 398.2h0M159.6 340.8h0M126.3 350.1h0M144.9 318.7h0M173.0 329.5h0M167.2 357.8h0M169.6 363.7h0M154.1 322.4h0M154.2 377.8h0M157.1 341.0h0M147.5 325.4h0M186.5 358.7h0M164.3 373.0h0M179.1 351.0h0M131.4 337.4h0M108.2 331.9h0M159.8 387.7h0M122.1 362.8h0M202.8 365.7h0M166.3 346.7h0M217.4 381.7h0M151.7 326.8h0M152.8 310.9h0M135.3 314.4h0M148.9 315.3h0M129.1 311.8h0M145.7 323.3h0M158.2 311.1h0M131.2 306.8h0M113.9 413.9h0M139.9 326.5h0M209.0 369.2h0M205.1 349.7h0M209.3 348.7h0M145.6 349.8h0M117.5 334.5h0M142.2 326.6h0M143.1 308.7h0M156.8 320.1h0M152.3 336.8h0M194.6 356.1h0M133.0 326.8h0M152.3 366.7h0M143.9 395.4h0M197.0 398.0h0M125.0 329.0h0M133.6 367.0h0M192.3 367.7h0M208.2 374.7h0M161.5 360.2h0M196.4 380.0h0M143.4 332.4h0M154.0 324.5h0M133.3 354.5h0M200.1 405.3h0M144.3 388.2h0M159.6 349.9h0M141.9 339.4h0M140.6 356.6h0M135.5 410.5h0M166.1 375.9h0M150.8 312.7h0M131.5 332.4h0M108.8 426.9h0M159.4 352.6h0M132.0 374.2h0M129.5 404.1h0M184.8 378.3h0M131.5 364.0h0M163.4 343.4h0M171.4 350.2h0M109.0 329.9h0M154.0 312.1h0M114.9 342.4h0M120.8 306.5h0M96.0 331.0h0M141.7 372.3h0M168.8 330.6h0M197.4 380.0h0M134.2 368.1h0M186.4 375.6h0M99.8 335.1h0M160.0 360.6h0M146.3 354.9h0M145.9 314.0h0M215.9 357.2h0M163.1 316.2h0M128.0 390.7h0M143.6 314.2h0M143.0 378.0h0M99.2 345.1h0M178.8 383.3h0M135.1 390.6h0M156.7 342.2h0M199.4 382.0h0M123.2 330.7h0M171.4 347.5h0M122.0 320.0h0M153.0 386.7h0M136.5 337.9h0M160.8 320.7h0M188.9 334.8h0M152.7 356.9h0M120.6 317.4h0M154.0 314.8h0M170.6 333.5h0M114.2 326.6h0M252.7 381.1h0M162.7 332.1h0M133.9 309.5h0M178.8 325.6h0M124.8 307.0h0M96.0 327.9h0M125.2 362.3h0M147.5 314.1h0M164.3 393.6h0M128.4 416.5h0M129.4 349.7h0M109.3 419.9h0M144.2 355.1h0M147.6 341.3h0M167.3 365.4h0M134.0 398.5h0M133.4 305.4h0M147.2 316.3h0M108.2 332.5h0M175.1 366.9h0M158.3 334.1h0M180.6 399.2h0M136.9 361.0h0M214.5 368.8h0M163.2 334.6h0M192.7 377.4h0M160.2 378.6h0M154.8 351.2h0M127.6 333.4h0M149.0 327.3h0M135.6 355.2h0M129.3 367.3h0M120.1 345.6h0M117.6 348.2h0M149.8 316.4h0M154.8 344.2h0M98.8 351.8h0M128.0 402.0h0M153.0 361.6h0M114.2 412.5h0M188.4 360.3h0M130.9 345.7h0M172.9 358.8h0M174.5 341.2h0M219.2 370.3h0M129.9 355.4h0M127.3 316.0h0M112.2 406.3h0M120.3 322.8h0M135.5 340.1h0M129.5 355.6h0M151.9 309.8h0M181.7 380.0h0M124.5 360.3h0M143.6 388.5h0M119.2 339.3h0M144.3 362.9h0M140.4 360.4h0M105.5 327.2h0M162.7 370.2h0M164.3 345.4h0M153.7 349.9h0M128.2 398.6h0M121.2 314.6h0M131.1 358.7h0M150.1 329.2h0M117.8 399.3h0M206.7 349.2h0M130.7 398.2h0M156.8 335.3h0M124.3 402.6h0M176.5 384.6h0M175.4 358.4h0M167.2 336.4h0M144.0 349.9h0M153.6 375.0h0M105.8 345.3h0M150.9 386.2h0M165.1 356.5h0M152.9 345.0h0M158.9 325.6h0M140.1 325.7h0M110.9 346.7h0M183.8 342.1h0M108.2 397.3h0M130.7 352.1h0M153.0 327.9h0M169.6 331.0h0M155.7 375.7h0M138.3 339.8h0M165.5 336.2h0M163.3 331.5h0M183.9 331.3h0M160.4 323.0h0M158.4 313.3h0M135.5 306.0h0M174.4 340.5h0M173.7 340.3h0M157.1 332.0h0M148.6 357.3h0M134.1 351.9h0M134.1 357.5h0M140.6 322.9h0M156.8 413.4h0M200.7 365.3h0M205.7 380.8h0M187.4 373.9h0M109.1 333.7h0M158.9 337.0h0M153.3 375.1h0M122.2 358.5h0M208.8 367.2h0M178.9 375.2h0M170.7 368.9h0M198.8 360.4h0M122.0 346.7h0M202.9 343.7h0M154.3 362.7h0M156.5 316.8h0M110.8 353.3h0M132.5 338.7h0M126.2 340.9h0M134.5 386.9h0M88.7 312.5h0M146.9 395.1h0M138.4 316.4h0M131.1 418.2h0M198.7 381.0h0M124.1 424.2h0M159.8 369.6h0"/>
<path class="b" d="M101.0 377.4h0M137.7 403.3h0M121.4 443.6h0M106.8 391.9h0M96.3 356.8h0M111.8 370.2h0"/>
<path class="o" d="M155.3 376.8h0M140.5 364.5h0M139.3 387.1h0M158.4 354.6h0"/></g>
<text x="51.2" y="504.9" font-size="15.5" text-anchor="middle" class="t">-120</text>
<text x="131.28" y="504.9" font-size="15.5" text-anchor="middle" class="t">-100</text>
<text x="211.36" y="504.9" font-size="15.5" text-anchor="middle" class="t">-80</text>
<text x="291.44" y="504.9" font-size="15.5" text-anchor="middle" class="t">-60</text>
<text x="371.52" y="504.9" font-size="15.5" text-anchor="middle" class="t">-40</text>
<text x="45.0" y="470.44" font-size="15.5" text-anchor="end" class="t">0</text>
<text x="45.0" y="434.56" font-size="15.5" text-anchor="end" class="t">5</text>
<text x="45.0" y="398.69" font-size="15.5" text-anchor="end" class="t">10</text>
<text x="45.0" y="362.81" font-size="15.5" text-anchor="end" class="t">15</text>
<text x="45.0" y="326.93" font-size="15.5" text-anchor="end" class="t">20</text>
<text transform="translate(212.5 527.5) scale(1.03 1)" font-size="16.37" text-anchor="middle" class="t">1st f component</text>
<text transform="translate(19.8 391.55) rotate(-90)" font-size="17.37" text-anchor="middle" class="t">2nd f component</text>
<text transform="translate(211.2 293.25) scale(1.07 1)" font-size="16.00" text-anchor="middle" font-weight="bold" fill="#000">PCA - Test Data SENSOR 3</text>
<rect x="249.3" y="310.7" width="109.6" height="41.6" fill="#fff" stroke="#262626" stroke-width="1"/>
<circle cx="278.9" cy="321.8" r="5" fill="#0072BD"/>
<text x="308.0" y="327.7" font-size="14.2" fill="#000">Normal</text>
<circle cx="278.9" cy="341.1" r="5" fill="#D95319"/>
<text x="308.0" y="346.1" font-size="14.2" fill="#000">Faulty</text>
<text x="195.5" y="543.6" font-size="9.8" text-anchor="middle" class="cap">(<tspan font-weight="bold">b</tspan>)</text>
</svg>
</body></html>
